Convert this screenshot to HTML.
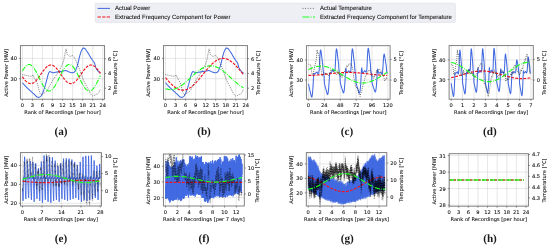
<!DOCTYPE html>
<html><head><meta charset="utf-8"><title>Figure</title>
<style>html,body{margin:0;padding:0;background:#fff;}svg{display:block;text-rendering:geometricPrecision;}.ax text{stroke:#111111;stroke-width:0.09px;}</style>
</head><body>
<svg width="550" height="246" viewBox="0 0 550 246">
<rect width="550" height="246" fill="#fff"/>

<rect x="95.2" y="3.2" width="360.2" height="19.2" rx="1.2" fill="#eeeef5" stroke="#d6d6dc" stroke-width="0.5"/>
<path d="M97.6,8.4H110" stroke="#4169e1" stroke-width="1"/>
<path d="M97.6,17H110" stroke="#f0141e" stroke-width="1.1" stroke-dasharray="3.3 1.25"/>
<path d="M302.4,8.4H314.5" stroke="#2a2a2a" stroke-width="0.8" stroke-dasharray="1 1.6" opacity="0.8"/>
<path d="M302.4,17H315" stroke="#1eff1e" stroke-width="1.1" stroke-dasharray="7 1.3 1 1.3"/>
<g font-family="'Liberation Sans', Arial, sans-serif" font-size="6.0" fill="#151515" stroke="#151515" stroke-width="0.08">
<text x="115" y="10.2">Actual Power</text>
<text x="115" y="18.8">Extracted Frequency Component for Power</text>
<text x="320" y="10.2">Actual Temperature</text>
<text x="320" y="18.8">Extracted Frequency Component for Temperature</text>
</g>

<g class="ax" font-family="'DejaVu Sans', 'Liberation Sans', sans-serif" fill="#111111">
<rect x="20.4" y="45.6" width="84.19999999999999" height="53.6" fill="#fff"/>
<path d="M22.40,45.6V99.2M32.44,45.6V99.2M42.48,45.6V99.2M52.52,45.6V99.2M62.56,45.6V99.2M72.60,45.6V99.2M82.65,45.6V99.2M92.69,45.6V99.2M102.73,45.6V99.2M20.4,58.40H104.6M20.4,78.70H104.6" stroke="#cfcfcf" stroke-width="0.5" fill="none"/>
<clipPath id="c1"><rect x="20.4" y="45.6" width="84.19999999999999" height="53.6"/></clipPath><g clip-path="url(#c1)">
<path d="M22.40,82.76L22.73,83.14L23.05,83.52L23.38,83.90L23.71,84.27L24.03,84.63L24.36,85.00L24.68,85.35L25.01,85.70L25.34,86.05L25.66,86.39L25.99,86.73L26.32,87.06L26.64,87.38L26.97,87.69L27.29,88.01L27.62,88.31L27.95,88.61L28.27,88.91L28.60,89.21L28.93,89.51L29.25,89.80L29.58,90.10L29.90,90.40L30.23,90.69L30.56,90.99L30.88,91.29L31.21,91.59L31.54,91.89L31.86,92.19L32.19,92.48L32.52,92.78L32.84,93.08L33.17,93.37L33.49,93.67L33.82,93.96L34.15,94.26L34.47,94.56L34.80,94.87L35.13,95.22L35.45,95.57L35.78,95.92L36.10,96.25L36.43,96.54L36.76,96.78L37.08,96.95L37.41,97.07L37.74,97.18L38.06,97.28L38.39,97.34L38.71,97.37L39.04,97.35L39.37,97.25L39.69,97.09L40.02,96.89L40.35,96.66L40.67,96.39L41.00,96.01L41.33,95.52L41.65,94.95L41.98,94.33L42.30,93.68L42.63,93.01L42.96,92.26L43.28,91.45L43.61,90.56L43.94,89.63L44.26,88.65L44.59,87.63L44.91,86.59L45.24,85.54L45.57,84.41L45.89,83.20L46.22,81.95L46.55,80.67L46.87,79.41L47.20,78.18L47.52,76.87L47.85,75.52L48.18,74.31L48.50,73.43L48.83,72.78L49.16,72.21L49.48,71.78L49.81,71.60L50.14,71.63L50.46,71.73L50.79,71.87L51.11,72.03L51.44,72.17L51.77,72.31L52.09,72.46L52.42,72.61L52.75,72.74L53.07,72.81L53.40,72.81L53.72,72.77L54.05,72.70L54.38,72.62L54.70,72.53L55.03,72.43L55.36,72.33L55.68,72.25L56.01,72.18L56.33,72.11L56.66,72.05L56.99,71.98L57.31,71.92L57.64,71.86L57.97,71.80L58.29,71.74L58.62,71.69L58.95,71.64L59.27,71.59L59.60,71.54L59.92,71.50L60.25,71.46L60.58,71.43L60.90,71.39L61.23,71.36L61.56,71.32L61.88,71.28L62.21,71.24L62.53,71.19L62.86,71.14L63.19,71.06L63.51,70.98L63.84,70.89L64.17,70.80L64.49,70.72L64.82,70.65L65.14,70.61L65.47,70.58L65.80,70.59L66.12,70.64L66.45,70.73L66.78,70.85L67.10,70.99L67.43,71.15L67.76,71.32L68.08,71.49L68.41,71.65L68.73,71.80L69.06,71.93L69.39,72.04L69.71,72.15L70.04,72.27L70.37,72.39L70.69,72.50L71.02,72.60L71.34,72.69L71.67,72.76L72.00,72.80L72.32,72.81L72.65,72.78L72.98,72.70L73.30,72.58L73.63,72.43L73.96,72.24L74.28,72.03L74.61,71.80L74.93,71.45L75.26,70.90L75.59,70.21L75.91,69.44L76.24,68.66L76.57,67.86L76.89,66.98L77.22,66.01L77.54,64.96L77.87,63.81L78.20,62.48L78.52,61.05L78.85,59.58L79.18,58.16L79.50,56.85L79.83,55.68L80.15,54.52L80.48,53.40L80.81,52.34L81.13,51.40L81.46,50.63L81.79,50.03L82.11,49.47L82.44,48.95L82.77,48.51L83.09,48.19L83.42,48.05L83.74,48.07L84.07,48.16L84.40,48.31L84.72,48.49L85.05,48.70L85.38,49.04L85.70,49.51L86.03,50.03L86.35,50.52L86.68,50.98L87.01,51.44L87.33,51.92L87.66,52.40L87.99,52.90L88.31,53.41L88.64,53.95L88.96,54.51L89.29,55.08L89.62,55.65L89.94,56.22L90.27,56.78L90.60,57.33L90.92,57.85L91.25,58.35L91.58,58.84L91.90,59.31L92.23,59.77L92.55,60.24L92.88,60.70L93.21,61.13L93.53,61.55L93.86,62.00L94.19,62.54L94.51,63.21L94.84,64.20L95.16,65.39L95.49,66.59L95.82,67.63L96.14,68.35L96.47,68.93L96.80,69.44L97.12,69.89L97.45,70.30L97.77,70.69L98.10,71.07L98.43,71.45L98.75,71.79L99.08,72.07L99.41,72.34L99.73,72.61L100.06,72.93L100.39,73.32" stroke="#4169e1" stroke-width="1.05" fill="none" stroke-linejoin="round" />
<path d="M22.40,76.71L22.73,77.16L23.05,77.61L23.38,78.05L23.71,78.48L24.03,78.90L24.36,79.30L24.68,79.70L25.01,80.08L25.34,80.44L25.66,80.79L25.99,81.12L26.32,81.43L26.64,81.73L26.97,82.01L27.29,82.26L27.62,82.50L27.95,82.71L28.27,82.90L28.60,83.07L28.93,83.22L29.25,83.34L29.58,83.44L29.90,83.52L30.23,83.57L30.56,83.59L30.88,83.60L31.21,83.58L31.54,83.53L31.86,83.46L32.19,83.37L32.52,83.25L32.84,83.11L33.17,82.95L33.49,82.77L33.82,82.56L34.15,82.33L34.47,82.08L34.80,81.81L35.13,81.52L35.45,81.21L35.78,80.89L36.10,80.54L36.43,80.18L36.76,79.81L37.08,79.42L37.41,79.02L37.74,78.60L38.06,78.17L38.39,77.74L38.71,77.29L39.04,76.84L39.37,76.38L39.69,75.91L40.02,75.44L40.35,74.97L40.67,74.50L41.00,74.02L41.33,73.55L41.65,73.08L41.98,72.61L42.30,72.14L42.63,71.69L42.96,71.23L43.28,70.79L43.61,70.35L43.94,69.93L44.26,69.52L44.59,69.12L44.91,68.73L45.24,68.36L45.57,68.00L45.89,67.66L46.22,67.33L46.55,67.03L46.87,66.74L47.20,66.48L47.52,66.23L47.85,66.00L48.18,65.80L48.50,65.62L48.83,65.46L49.16,65.32L49.48,65.21L49.81,65.12L50.14,65.06L50.46,65.02L50.79,65.00L51.11,65.01L51.44,65.04L51.77,65.10L52.09,65.18L52.42,65.28L52.75,65.41L53.07,65.56L53.40,65.73L53.72,65.92L54.05,66.14L54.38,66.38L54.70,66.64L55.03,66.92L55.36,67.22L55.68,67.53L56.01,67.87L56.33,68.22L56.66,68.59L56.99,68.97L57.31,69.36L57.64,69.77L57.97,70.19L58.29,70.62L58.62,71.06L58.95,71.51L59.27,71.97L59.60,72.43L59.92,72.90L60.25,73.37L60.58,73.84L60.90,74.32L61.23,74.79L61.56,75.27L61.88,75.74L62.21,76.20L62.53,76.67L62.86,77.12L63.19,77.57L63.51,78.01L63.84,78.44L64.17,78.86L64.49,79.27L64.82,79.66L65.14,80.04L65.47,80.41L65.80,80.76L66.12,81.09L66.45,81.41L66.78,81.70L67.10,81.98L67.43,82.24L67.76,82.48L68.08,82.69L68.41,82.88L68.73,83.06L69.06,83.20L69.39,83.33L69.71,83.43L70.04,83.51L70.37,83.56L70.69,83.59L71.02,83.60L71.34,83.58L71.67,83.54L72.00,83.47L72.32,83.38L72.65,83.27L72.98,83.13L73.30,82.97L73.63,82.78L73.96,82.58L74.28,82.35L74.61,82.10L74.93,81.84L75.26,81.55L75.59,81.24L75.91,80.92L76.24,80.57L76.57,80.22L76.89,79.84L77.22,79.45L77.54,79.05L77.87,78.64L78.20,78.21L78.52,77.78L78.85,77.33L79.18,76.88L79.50,76.42L79.83,75.96L80.15,75.49L80.48,75.01L80.81,74.54L81.13,74.07L81.46,73.59L81.79,73.12L82.11,72.65L82.44,72.19L82.77,71.73L83.09,71.27L83.42,70.83L83.74,70.39L84.07,69.97L84.40,69.55L84.72,69.15L85.05,68.76L85.38,68.39L85.70,68.03L86.03,67.69L86.35,67.36L86.68,67.06L87.01,66.77L87.33,66.50L87.66,66.25L87.99,66.02L88.31,65.82L88.64,65.63L88.96,65.47L89.29,65.34L89.62,65.22L89.94,65.13L90.27,65.06L90.60,65.02L90.92,65.00L91.25,65.01L91.58,65.04L91.90,65.09L92.23,65.17L92.55,65.27L92.88,65.39L93.21,65.54L93.53,65.71L93.86,65.91L94.19,66.12L94.51,66.36L94.84,66.62L95.16,66.89L95.49,67.19L95.82,67.50L96.14,67.84L96.47,68.19L96.80,68.55L97.12,68.93L97.45,69.33L97.77,69.73L98.10,70.15L98.43,70.58L98.75,71.02L99.08,71.47L99.41,71.93L99.73,72.39L100.06,72.86L100.39,73.33" stroke="#f0141e" stroke-width="1.1550000000000002" fill="none" stroke-linejoin="round" stroke-dasharray="2.864 1.238" />
<path d="M22.40,74.57L22.73,74.64L23.05,74.71L23.38,74.78L23.71,74.85L24.03,74.92L24.36,75.00L24.68,75.07L25.01,75.14L25.34,75.21L25.66,75.28L25.99,75.36L26.32,75.44L26.64,75.52L26.97,75.60L27.29,75.69L27.62,75.77L27.95,75.84L28.27,75.91L28.60,75.97L28.93,76.02L29.25,76.06L29.58,76.09L29.90,76.13L30.23,76.16L30.56,76.19L30.88,76.21L31.21,76.23L31.54,76.25L31.86,76.26L32.19,76.22L32.52,75.62L32.84,74.99L33.17,75.12L33.49,75.87L33.82,76.84L34.15,77.65L34.47,78.26L34.80,78.82L35.13,79.33L35.45,79.82L35.78,80.32L36.10,80.84L36.43,81.41L36.76,82.06L37.08,82.79L37.41,83.70L37.74,84.87L38.06,86.19L38.39,87.57L38.71,88.91L39.04,90.11L39.37,91.17L39.69,92.27L40.02,93.25L40.35,93.94L40.67,94.28L41.00,94.52L41.33,94.67L41.65,94.67L41.98,94.54L42.30,94.33L42.63,94.06L42.96,93.78L43.28,93.51L43.61,93.28L43.94,93.08L44.26,92.89L44.59,92.72L44.91,92.54L45.24,92.35L45.57,92.15L45.89,91.94L46.22,91.70L46.55,91.42L46.87,91.11L47.20,90.68L47.52,90.14L47.85,89.50L48.18,88.81L48.50,88.10L48.83,87.40L49.16,86.76L49.48,86.16L49.81,85.56L50.14,84.95L50.46,84.34L50.79,83.74L51.11,83.14L51.44,82.55L51.77,81.97L52.09,81.40L52.42,80.84L52.75,80.29L53.07,79.77L53.40,79.26L53.72,78.78L54.05,78.33L54.38,77.88L54.70,77.42L55.03,76.96L55.36,76.47L55.68,75.98L56.01,75.49L56.33,74.99L56.66,74.50L56.99,74.00L57.31,73.49L57.64,72.98L57.97,72.46L58.29,71.93L58.62,71.39L58.95,70.83L59.27,70.27L59.60,69.68L59.92,69.08L60.25,68.47L60.58,67.85L60.90,67.24L61.23,66.62L61.56,65.99L61.88,65.33L62.21,64.62L62.53,63.86L62.86,63.02L63.19,62.11L63.51,61.11L63.84,59.86L64.17,58.24L64.49,56.45L64.82,54.72L65.14,53.03L65.47,51.11L65.80,49.54L66.12,48.92L66.45,49.80L66.78,51.69L67.10,53.62L67.43,54.68L67.76,55.02L68.08,55.33L68.41,55.59L68.73,55.81L69.06,55.99L69.39,56.13L69.71,56.23L70.04,56.28L70.37,56.28L70.69,56.19L71.02,56.03L71.34,55.84L71.67,55.65L72.00,55.52L72.32,55.48L72.65,55.56L72.98,55.75L73.30,56.04L73.63,56.42L73.96,56.89L74.28,57.42L74.61,58.01L74.93,58.65L75.26,59.33L75.59,60.03L75.91,60.75L76.24,61.48L76.57,62.20L76.89,62.90L77.22,63.58L77.54,64.26L77.87,64.98L78.20,65.75L78.52,66.57L78.85,67.42L79.18,68.29L79.50,69.20L79.83,70.12L80.15,71.05L80.48,71.99L80.81,72.93L81.13,73.87L81.46,74.79L81.79,75.70L82.11,76.59L82.44,77.45L82.77,78.28L83.09,79.06L83.42,79.81L83.74,80.52L84.07,81.22L84.40,81.91L84.72,82.58L85.05,83.24L85.38,83.89L85.70,84.53L86.03,85.15L86.35,85.77L86.68,86.38L87.01,86.99L87.33,87.59L87.66,88.19L87.99,88.80L88.31,89.44L88.64,90.09L88.96,90.75L89.29,91.41L89.62,92.06L89.94,92.68L90.27,93.28L90.60,93.84L90.92,94.35L91.25,94.80L91.58,95.18L91.90,95.48L92.23,95.72L92.55,95.94L92.88,96.07L93.21,96.07L93.53,95.99L93.86,95.84L94.19,95.64L94.51,95.42L94.84,95.18L95.16,94.95L95.49,94.73L95.82,94.55L96.14,94.43L96.47,94.34L96.80,94.27L97.12,94.19L97.45,94.06L97.77,93.85L98.10,93.54L98.43,93.14L98.75,92.65L99.08,92.09L99.41,91.45L99.73,90.73L100.06,89.96L100.39,89.12" stroke="#2a2a2a" stroke-width="0.85" fill="none" stroke-linejoin="round" stroke-dasharray="0.85 1.2" opacity="0.85"/>
<path d="M22.40,71.12L22.73,70.55L23.05,69.99L23.38,69.45L23.71,68.94L24.03,68.44L24.36,67.97L24.68,67.53L25.01,67.11L25.34,66.72L25.66,66.36L25.99,66.03L26.32,65.73L26.64,65.46L26.97,65.23L27.29,65.02L27.62,64.85L27.95,64.71L28.27,64.61L28.60,64.54L28.93,64.50L29.25,64.50L29.58,64.54L29.90,64.61L30.23,64.71L30.56,64.85L30.88,65.02L31.21,65.22L31.54,65.46L31.86,65.72L32.19,66.02L32.52,66.35L32.84,66.71L33.17,67.10L33.49,67.52L33.82,67.96L34.15,68.43L34.47,68.92L34.80,69.44L35.13,69.97L35.45,70.53L35.78,71.11L36.10,71.70L36.43,72.31L36.76,72.93L37.08,73.57L37.41,74.22L37.74,74.87L38.06,75.54L38.39,76.21L38.71,76.88L39.04,77.56L39.37,78.23L39.69,78.91L40.02,79.58L40.35,80.25L40.67,80.91L41.00,81.56L41.33,82.20L41.65,82.83L41.98,83.45L42.30,84.05L42.63,84.64L42.96,85.21L43.28,85.76L43.61,86.29L43.94,86.79L44.26,87.27L44.59,87.73L44.91,88.16L45.24,88.57L45.57,88.94L45.89,89.29L46.22,89.61L46.55,89.89L46.87,90.15L47.20,90.37L47.52,90.56L47.85,90.72L48.18,90.84L48.50,90.93L48.83,90.98L49.16,91.00L49.48,90.98L49.81,90.94L50.14,90.85L50.46,90.73L50.79,90.58L51.11,90.40L51.44,90.18L51.77,89.93L52.09,89.64L52.42,89.33L52.75,88.99L53.07,88.61L53.40,88.21L53.72,87.78L54.05,87.33L54.38,86.85L54.70,86.35L55.03,85.82L55.36,85.28L55.68,84.71L56.01,84.12L56.33,83.52L56.66,82.91L56.99,82.28L57.31,81.64L57.64,80.99L57.97,80.33L58.29,79.66L58.62,78.99L58.95,78.31L59.27,77.64L59.60,76.96L59.92,76.29L60.25,75.62L60.58,74.95L60.90,74.30L61.23,73.65L61.56,73.01L61.88,72.38L62.21,71.77L62.53,71.18L62.86,70.60L63.19,70.04L63.51,69.50L63.84,68.98L64.17,68.49L64.49,68.01L64.82,67.57L65.14,67.15L65.47,66.76L65.80,66.39L66.12,66.06L66.45,65.76L66.78,65.49L67.10,65.25L67.43,65.04L67.76,64.86L68.08,64.72L68.41,64.62L68.73,64.54L69.06,64.51L69.39,64.50L69.71,64.53L70.04,64.60L70.37,64.70L70.69,64.83L71.02,65.00L71.34,65.20L71.67,65.43L72.00,65.70L72.32,65.99L72.65,66.32L72.98,66.68L73.30,67.06L73.63,67.48L73.96,67.92L74.28,68.38L74.61,68.88L74.93,69.39L75.26,69.92L75.59,70.48L75.91,71.05L76.24,71.65L76.57,72.25L76.89,72.88L77.22,73.51L77.54,74.16L77.87,74.81L78.20,75.48L78.52,76.15L78.85,76.82L79.18,77.49L79.50,78.17L79.83,78.85L80.15,79.52L80.48,80.19L80.81,80.85L81.13,81.50L81.46,82.14L81.79,82.78L82.11,83.40L82.44,84.00L82.77,84.59L83.09,85.16L83.42,85.71L83.74,86.24L84.07,86.75L84.40,87.23L84.72,87.69L85.05,88.13L85.38,88.53L85.70,88.91L86.03,89.26L86.35,89.58L86.68,89.87L87.01,90.13L87.33,90.35L87.66,90.54L87.99,90.70L88.31,90.83L88.64,90.92L88.96,90.98L89.29,91.00L89.62,90.99L89.94,90.94L90.27,90.86L90.60,90.74L90.92,90.60L91.25,90.41L91.58,90.20L91.90,89.95L92.23,89.67L92.55,89.36L92.88,89.02L93.21,88.65L93.53,88.25L93.86,87.82L94.19,87.37L94.51,86.89L94.84,86.39L95.16,85.87L95.49,85.33L95.82,84.76L96.14,84.18L96.47,83.58L96.80,82.96L97.12,82.34L97.45,81.70L97.77,81.04L98.10,80.39L98.43,79.72L98.75,79.05L99.08,78.37L99.41,77.70L99.73,77.02L100.06,76.35L100.39,75.68" stroke="#1eff1e" stroke-width="1.1550000000000002" fill="none" stroke-linejoin="round" stroke-dasharray="4.954 1.238 0.774 1.238" />
</g>
<rect x="20.4" y="45.6" width="84.19999999999999" height="53.6" fill="none" stroke="#757575" stroke-width="0.9"/>
<path d="M22.40,99.2v1.5M32.44,99.2v1.5M42.48,99.2v1.5M52.52,99.2v1.5M62.56,99.2v1.5M72.60,99.2v1.5M82.65,99.2v1.5M92.69,99.2v1.5M102.73,99.2v1.5M20.4,58.40h-1.5M20.4,78.70h-1.5M104.6,58.72h1.5M104.6,73.46h1.5M104.6,88.20h1.5" stroke="#444" stroke-width="0.6" fill="none"/>
<text x="22.40" y="107.10" font-size="5.12" text-anchor="middle" >0</text>
<text x="32.44" y="107.10" font-size="5.12" text-anchor="middle" >3</text>
<text x="42.48" y="107.10" font-size="5.12" text-anchor="middle" >6</text>
<text x="52.52" y="107.10" font-size="5.12" text-anchor="middle" >9</text>
<text x="62.56" y="107.10" font-size="5.12" text-anchor="middle" >12</text>
<text x="72.60" y="107.10" font-size="5.12" text-anchor="middle" >15</text>
<text x="82.65" y="107.10" font-size="5.12" text-anchor="middle" >18</text>
<text x="92.69" y="107.10" font-size="5.12" text-anchor="middle" >21</text>
<text x="102.73" y="107.10" font-size="5.12" text-anchor="middle" >24</text>
<text x="16.90" y="60.30" font-size="5.12" text-anchor="end" >40</text>
<text x="16.90" y="80.60" font-size="5.12" text-anchor="end" >30</text>
<text x="108.10" y="60.62" font-size="5.12" text-anchor="start" >6</text>
<text x="108.10" y="75.36" font-size="5.12" text-anchor="start" >4</text>
<text x="108.10" y="90.10" font-size="5.12" text-anchor="start" >2</text>
<text x="62.50" y="114.40" font-size="5.12" text-anchor="middle" >Rank of Recordings [per hour]</text>
<text transform="translate(7.80,72.90) rotate(-90)" font-size="5.12" text-anchor="middle">Active Power [MW]</text>
<text transform="translate(117.10,72.90) rotate(-90)" font-size="5.12" text-anchor="middle">Temperature [°C]</text>
<rect x="163.5" y="45.6" width="84.0" height="53.6" fill="#fff"/>
<path d="M165.50,45.6V99.2M175.54,45.6V99.2M185.58,45.6V99.2M195.62,45.6V99.2M205.66,45.6V99.2M215.70,45.6V99.2M225.75,45.6V99.2M235.79,45.6V99.2M245.83,45.6V99.2M163.5,58.40H247.5M163.5,78.70H247.5" stroke="#cfcfcf" stroke-width="0.5" fill="none"/>
<clipPath id="c2"><rect x="163.5" y="45.6" width="84.0" height="53.6"/></clipPath><g clip-path="url(#c2)">
<path d="M165.50,82.76L165.83,83.14L166.15,83.52L166.48,83.90L166.81,84.27L167.13,84.63L167.46,85.00L167.78,85.35L168.11,85.70L168.44,86.05L168.76,86.39L169.09,86.73L169.42,87.06L169.74,87.38L170.07,87.69L170.39,88.01L170.72,88.31L171.05,88.61L171.37,88.91L171.70,89.21L172.03,89.51L172.35,89.80L172.68,90.10L173.00,90.40L173.33,90.69L173.66,90.99L173.98,91.29L174.31,91.59L174.64,91.89L174.96,92.19L175.29,92.48L175.62,92.78L175.94,93.08L176.27,93.37L176.59,93.67L176.92,93.96L177.25,94.26L177.57,94.56L177.90,94.87L178.23,95.22L178.55,95.57L178.88,95.92L179.20,96.25L179.53,96.54L179.86,96.78L180.18,96.95L180.51,97.07L180.84,97.18L181.16,97.28L181.49,97.34L181.81,97.37L182.14,97.35L182.47,97.25L182.79,97.09L183.12,96.89L183.45,96.66L183.77,96.39L184.10,96.01L184.43,95.52L184.75,94.95L185.08,94.33L185.40,93.68L185.73,93.01L186.06,92.26L186.38,91.45L186.71,90.56L187.04,89.63L187.36,88.65L187.69,87.63L188.01,86.59L188.34,85.54L188.67,84.41L188.99,83.20L189.32,81.95L189.65,80.67L189.97,79.41L190.30,78.18L190.62,76.87L190.95,75.52L191.28,74.31L191.60,73.43L191.93,72.78L192.26,72.21L192.58,71.78L192.91,71.60L193.24,71.63L193.56,71.73L193.89,71.87L194.21,72.03L194.54,72.17L194.87,72.31L195.19,72.46L195.52,72.61L195.85,72.74L196.17,72.81L196.50,72.81L196.82,72.77L197.15,72.70L197.48,72.62L197.80,72.53L198.13,72.43L198.46,72.33L198.78,72.25L199.11,72.18L199.43,72.11L199.76,72.05L200.09,71.98L200.41,71.92L200.74,71.86L201.07,71.80L201.39,71.74L201.72,71.69L202.05,71.64L202.37,71.59L202.70,71.54L203.02,71.50L203.35,71.46L203.68,71.43L204.00,71.39L204.33,71.36L204.66,71.32L204.98,71.28L205.31,71.24L205.63,71.19L205.96,71.14L206.29,71.06L206.61,70.98L206.94,70.89L207.27,70.80L207.59,70.72L207.92,70.65L208.24,70.61L208.57,70.58L208.90,70.59L209.22,70.64L209.55,70.73L209.88,70.85L210.20,70.99L210.53,71.15L210.86,71.32L211.18,71.49L211.51,71.65L211.83,71.80L212.16,71.93L212.49,72.04L212.81,72.15L213.14,72.27L213.47,72.39L213.79,72.50L214.12,72.60L214.44,72.69L214.77,72.76L215.10,72.80L215.42,72.81L215.75,72.78L216.08,72.70L216.40,72.58L216.73,72.43L217.06,72.24L217.38,72.03L217.71,71.80L218.03,71.45L218.36,70.90L218.69,70.21L219.01,69.44L219.34,68.66L219.67,67.86L219.99,66.98L220.32,66.01L220.64,64.96L220.97,63.81L221.30,62.48L221.62,61.05L221.95,59.58L222.28,58.16L222.60,56.85L222.93,55.68L223.25,54.52L223.58,53.40L223.91,52.34L224.23,51.40L224.56,50.63L224.89,50.03L225.21,49.47L225.54,48.95L225.87,48.51L226.19,48.19L226.52,48.05L226.84,48.07L227.17,48.16L227.50,48.31L227.82,48.49L228.15,48.70L228.48,49.04L228.80,49.51L229.13,50.03L229.45,50.52L229.78,50.98L230.11,51.44L230.43,51.92L230.76,52.40L231.09,52.90L231.41,53.41L231.74,53.95L232.06,54.51L232.39,55.08L232.72,55.65L233.04,56.22L233.37,56.78L233.70,57.33L234.02,57.85L234.35,58.35L234.68,58.84L235.00,59.31L235.33,59.77L235.65,60.24L235.98,60.70L236.31,61.13L236.63,61.55L236.96,62.00L237.29,62.54L237.61,63.21L237.94,64.20L238.26,65.39L238.59,66.59L238.92,67.63L239.24,68.35L239.57,68.93L239.90,69.44L240.22,69.89L240.55,70.30L240.87,70.69L241.20,71.07L241.53,71.45L241.85,71.79L242.18,72.07L242.51,72.34L242.83,72.61L243.16,72.93L243.49,73.32" stroke="#4169e1" stroke-width="1.05" fill="none" stroke-linejoin="round" />
<path d="M165.50,77.61L165.83,78.00L166.15,78.40L166.48,78.79L166.81,79.17L167.13,79.56L167.46,79.94L167.78,80.32L168.11,80.69L168.44,81.06L168.76,81.43L169.09,81.79L169.42,82.14L169.74,82.49L170.07,82.84L170.39,83.18L170.72,83.51L171.05,83.84L171.37,84.16L171.70,84.47L172.03,84.78L172.35,85.08L172.68,85.38L173.00,85.67L173.33,85.95L173.66,86.22L173.98,86.48L174.31,86.74L174.64,86.99L174.96,87.23L175.29,87.46L175.62,87.68L175.94,87.90L176.27,88.11L176.59,88.30L176.92,88.49L177.25,88.67L177.57,88.84L177.90,89.00L178.23,89.15L178.55,89.29L178.88,89.42L179.20,89.54L179.53,89.65L179.86,89.75L180.18,89.84L180.51,89.92L180.84,89.99L181.16,90.05L181.49,90.10L181.81,90.14L182.14,90.17L182.47,90.19L182.79,90.20L183.12,90.20L183.45,90.19L183.77,90.16L184.10,90.13L184.43,90.09L184.75,90.03L185.08,89.97L185.40,89.90L185.73,89.81L186.06,89.72L186.38,89.62L186.71,89.50L187.04,89.38L187.36,89.24L187.69,89.10L188.01,88.95L188.34,88.78L188.67,88.61L188.99,88.43L189.32,88.24L189.65,88.04L189.97,87.83L190.30,87.61L190.62,87.39L190.95,87.15L191.28,86.91L191.60,86.66L191.93,86.40L192.26,86.13L192.58,85.86L192.91,85.57L193.24,85.29L193.56,84.99L193.89,84.68L194.21,84.37L194.54,84.06L194.87,83.73L195.19,83.40L195.52,83.07L195.85,82.73L196.17,82.38L196.50,82.03L196.82,81.67L197.15,81.31L197.48,80.94L197.80,80.57L198.13,80.20L198.46,79.82L198.78,79.43L199.11,79.05L199.43,78.66L199.76,78.27L200.09,77.87L200.41,77.48L200.74,77.08L201.07,76.68L201.39,76.28L201.72,75.87L202.05,75.47L202.37,75.06L202.70,74.66L203.02,74.25L203.35,73.85L203.68,73.44L204.00,73.04L204.33,72.63L204.66,72.23L204.98,71.83L205.31,71.43L205.63,71.03L205.96,70.63L206.29,70.24L206.61,69.85L206.94,69.46L207.27,69.08L207.59,68.69L207.92,68.32L208.24,67.94L208.57,67.57L208.90,67.21L209.22,66.85L209.55,66.49L209.88,66.14L210.20,65.79L210.53,65.45L210.86,65.12L211.18,64.79L211.51,64.47L211.83,64.15L212.16,63.84L212.49,63.54L212.81,63.25L213.14,62.96L213.47,62.68L213.79,62.41L214.12,62.14L214.44,61.88L214.77,61.63L215.10,61.39L215.42,61.16L215.75,60.93L216.08,60.72L216.40,60.51L216.73,60.32L217.06,60.13L217.38,59.95L217.71,59.78L218.03,59.62L218.36,59.47L218.69,59.32L219.01,59.19L219.34,59.07L219.67,58.96L219.99,58.86L220.32,58.77L220.64,58.68L220.97,58.61L221.30,58.55L221.62,58.50L221.95,58.46L222.28,58.43L222.60,58.41L222.93,58.40L223.25,58.40L223.58,58.41L223.91,58.43L224.23,58.47L224.56,58.51L224.89,58.56L225.21,58.62L225.54,58.70L225.87,58.78L226.19,58.87L226.52,58.98L226.84,59.09L227.17,59.21L227.50,59.34L227.82,59.49L228.15,59.64L228.48,59.80L228.80,59.97L229.13,60.15L229.45,60.34L229.78,60.54L230.11,60.75L230.43,60.97L230.76,61.19L231.09,61.43L231.41,61.67L231.74,61.92L232.06,62.18L232.39,62.44L232.72,62.72L233.04,63.00L233.37,63.29L233.70,63.58L234.02,63.89L234.35,64.20L234.68,64.51L235.00,64.84L235.33,65.17L235.65,65.50L235.98,65.84L236.31,66.19L236.63,66.54L236.96,66.90L237.29,67.26L237.61,67.63L237.94,68.00L238.26,68.37L238.59,68.75L238.92,69.13L239.24,69.52L239.57,69.90L239.90,70.30L240.22,70.69L240.55,71.09L240.87,71.48L241.20,71.88L241.53,72.29L241.85,72.69L242.18,73.09L242.51,73.50L242.83,73.90L243.16,74.31L243.49,74.72" stroke="#f0141e" stroke-width="1.1550000000000002" fill="none" stroke-linejoin="round" stroke-dasharray="2.864 1.238" />
<path d="M165.50,74.57L165.83,74.64L166.15,74.71L166.48,74.78L166.81,74.85L167.13,74.92L167.46,75.00L167.78,75.07L168.11,75.14L168.44,75.21L168.76,75.28L169.09,75.36L169.42,75.44L169.74,75.52L170.07,75.60L170.39,75.69L170.72,75.77L171.05,75.84L171.37,75.91L171.70,75.97L172.03,76.02L172.35,76.06L172.68,76.09L173.00,76.13L173.33,76.16L173.66,76.19L173.98,76.21L174.31,76.23L174.64,76.25L174.96,76.26L175.29,76.22L175.62,75.62L175.94,74.99L176.27,75.12L176.59,75.87L176.92,76.84L177.25,77.65L177.57,78.26L177.90,78.82L178.23,79.33L178.55,79.82L178.88,80.32L179.20,80.84L179.53,81.41L179.86,82.06L180.18,82.79L180.51,83.70L180.84,84.87L181.16,86.19L181.49,87.57L181.81,88.91L182.14,90.11L182.47,91.17L182.79,92.27L183.12,93.25L183.45,93.94L183.77,94.28L184.10,94.52L184.43,94.67L184.75,94.67L185.08,94.54L185.40,94.33L185.73,94.06L186.06,93.78L186.38,93.51L186.71,93.28L187.04,93.08L187.36,92.89L187.69,92.72L188.01,92.54L188.34,92.35L188.67,92.15L188.99,91.94L189.32,91.70L189.65,91.42L189.97,91.11L190.30,90.68L190.62,90.14L190.95,89.50L191.28,88.81L191.60,88.10L191.93,87.40L192.26,86.76L192.58,86.16L192.91,85.56L193.24,84.95L193.56,84.34L193.89,83.74L194.21,83.14L194.54,82.55L194.87,81.97L195.19,81.40L195.52,80.84L195.85,80.29L196.17,79.77L196.50,79.26L196.82,78.78L197.15,78.33L197.48,77.88L197.80,77.42L198.13,76.96L198.46,76.47L198.78,75.98L199.11,75.49L199.43,74.99L199.76,74.50L200.09,74.00L200.41,73.49L200.74,72.98L201.07,72.46L201.39,71.93L201.72,71.39L202.05,70.83L202.37,70.27L202.70,69.68L203.02,69.08L203.35,68.47L203.68,67.85L204.00,67.24L204.33,66.62L204.66,65.99L204.98,65.33L205.31,64.62L205.63,63.86L205.96,63.02L206.29,62.11L206.61,61.11L206.94,59.86L207.27,58.24L207.59,56.45L207.92,54.72L208.24,53.03L208.57,51.11L208.90,49.54L209.22,48.92L209.55,49.80L209.88,51.69L210.20,53.62L210.53,54.68L210.86,55.02L211.18,55.33L211.51,55.59L211.83,55.81L212.16,55.99L212.49,56.13L212.81,56.23L213.14,56.28L213.47,56.28L213.79,56.19L214.12,56.03L214.44,55.84L214.77,55.65L215.10,55.52L215.42,55.48L215.75,55.56L216.08,55.75L216.40,56.04L216.73,56.42L217.06,56.89L217.38,57.42L217.71,58.01L218.03,58.65L218.36,59.33L218.69,60.03L219.01,60.75L219.34,61.48L219.67,62.20L219.99,62.90L220.32,63.58L220.64,64.26L220.97,64.98L221.30,65.75L221.62,66.57L221.95,67.42L222.28,68.29L222.60,69.20L222.93,70.12L223.25,71.05L223.58,71.99L223.91,72.93L224.23,73.87L224.56,74.79L224.89,75.70L225.21,76.59L225.54,77.45L225.87,78.28L226.19,79.06L226.52,79.81L226.84,80.52L227.17,81.22L227.50,81.91L227.82,82.58L228.15,83.24L228.48,83.89L228.80,84.53L229.13,85.15L229.45,85.77L229.78,86.38L230.11,86.99L230.43,87.59L230.76,88.19L231.09,88.80L231.41,89.44L231.74,90.09L232.06,90.75L232.39,91.41L232.72,92.06L233.04,92.68L233.37,93.28L233.70,93.84L234.02,94.35L234.35,94.80L234.68,95.18L235.00,95.48L235.33,95.72L235.65,95.94L235.98,96.07L236.31,96.07L236.63,95.99L236.96,95.84L237.29,95.64L237.61,95.42L237.94,95.18L238.26,94.95L238.59,94.73L238.92,94.55L239.24,94.43L239.57,94.34L239.90,94.27L240.22,94.19L240.55,94.06L240.87,93.85L241.20,93.54L241.53,93.14L241.85,92.65L242.18,92.09L242.51,91.45L242.83,90.73L243.16,89.96L243.49,89.12" stroke="#2a2a2a" stroke-width="0.85" fill="none" stroke-linejoin="round" stroke-dasharray="0.85 1.2" opacity="0.85"/>
<path d="M165.50,88.69L165.83,88.81L166.15,88.91L166.48,89.01L166.81,89.10L167.13,89.18L167.46,89.26L167.78,89.33L168.11,89.39L168.44,89.44L168.76,89.49L169.09,89.53L169.42,89.56L169.74,89.58L170.07,89.59L170.39,89.60L170.72,89.60L171.05,89.59L171.37,89.57L171.70,89.55L172.03,89.52L172.35,89.48L172.68,89.43L173.00,89.38L173.33,89.31L173.66,89.24L173.98,89.17L174.31,89.08L174.64,88.99L174.96,88.89L175.29,88.78L175.62,88.67L175.94,88.55L176.27,88.42L176.59,88.28L176.92,88.14L177.25,87.99L177.57,87.83L177.90,87.67L178.23,87.50L178.55,87.33L178.88,87.15L179.20,86.96L179.53,86.76L179.86,86.57L180.18,86.36L180.51,86.15L180.84,85.93L181.16,85.71L181.49,85.48L181.81,85.25L182.14,85.01L182.47,84.77L182.79,84.52L183.12,84.27L183.45,84.02L183.77,83.76L184.10,83.50L184.43,83.23L184.75,82.96L185.08,82.68L185.40,82.41L185.73,82.13L186.06,81.84L186.38,81.56L186.71,81.27L187.04,80.98L187.36,80.68L187.69,80.39L188.01,80.09L188.34,79.79L188.67,79.49L188.99,79.19L189.32,78.89L189.65,78.59L189.97,78.29L190.30,77.98L190.62,77.68L190.95,77.38L191.28,77.07L191.60,76.77L191.93,76.47L192.26,76.16L192.58,75.86L192.91,75.56L193.24,75.27L193.56,74.97L193.89,74.68L194.21,74.38L194.54,74.09L194.87,73.80L195.19,73.52L195.52,73.24L195.85,72.96L196.17,72.68L196.50,72.40L196.82,72.13L197.15,71.87L197.48,71.60L197.80,71.35L198.13,71.09L198.46,70.84L198.78,70.60L199.11,70.35L199.43,70.12L199.76,69.89L200.09,69.66L200.41,69.44L200.74,69.22L201.07,69.01L201.39,68.81L201.72,68.61L202.05,68.42L202.37,68.23L202.70,68.05L203.02,67.87L203.35,67.70L203.68,67.54L204.00,67.39L204.33,67.24L204.66,67.10L204.98,66.96L205.31,66.84L205.63,66.72L205.96,66.60L206.29,66.50L206.61,66.40L206.94,66.31L207.27,66.22L207.59,66.15L207.92,66.08L208.24,66.02L208.57,65.96L208.90,65.92L209.22,65.88L209.55,65.85L209.88,65.82L210.20,65.81L210.53,65.80L210.86,65.80L211.18,65.81L211.51,65.82L211.83,65.85L212.16,65.88L212.49,65.92L212.81,65.96L213.14,66.02L213.47,66.08L213.79,66.15L214.12,66.23L214.44,66.31L214.77,66.40L215.10,66.50L215.42,66.61L215.75,66.72L216.08,66.84L216.40,66.97L216.73,67.11L217.06,67.25L217.38,67.40L217.71,67.55L218.03,67.71L218.36,67.88L218.69,68.06L219.01,68.24L219.34,68.42L219.67,68.62L219.99,68.82L220.32,69.02L220.64,69.23L220.97,69.45L221.30,69.67L221.62,69.90L221.95,70.13L222.28,70.37L222.60,70.61L222.93,70.85L223.25,71.10L223.58,71.36L223.91,71.62L224.23,71.88L224.56,72.15L224.89,72.42L225.21,72.69L225.54,72.97L225.87,73.25L226.19,73.53L226.52,73.82L226.84,74.11L227.17,74.40L227.50,74.69L227.82,74.98L228.15,75.28L228.48,75.58L228.80,75.88L229.13,76.18L229.45,76.48L229.78,76.78L230.11,77.09L230.43,77.39L230.76,77.69L231.09,78.00L231.41,78.30L231.74,78.60L232.06,78.91L232.39,79.21L232.72,79.51L233.04,79.81L233.37,80.11L233.70,80.40L234.02,80.70L234.35,80.99L234.68,81.28L235.00,81.57L235.33,81.86L235.65,82.14L235.98,82.42L236.31,82.70L236.63,82.97L236.96,83.24L237.29,83.51L237.61,83.77L237.94,84.03L238.26,84.29L238.59,84.54L238.92,84.78L239.24,85.02L239.57,85.26L239.90,85.49L240.22,85.72L240.55,85.94L240.87,86.16L241.20,86.37L241.53,86.57L241.85,86.77L242.18,86.97L242.51,87.16L242.83,87.34L243.16,87.51L243.49,87.68" stroke="#1eff1e" stroke-width="1.1550000000000002" fill="none" stroke-linejoin="round" stroke-dasharray="4.954 1.238 0.774 1.238" />
</g>
<rect x="163.5" y="45.6" width="84.0" height="53.6" fill="none" stroke="#757575" stroke-width="0.9"/>
<path d="M165.50,99.2v1.5M175.54,99.2v1.5M185.58,99.2v1.5M195.62,99.2v1.5M205.66,99.2v1.5M215.70,99.2v1.5M225.75,99.2v1.5M235.79,99.2v1.5M245.83,99.2v1.5M163.5,58.40h-1.5M163.5,78.70h-1.5M247.5,58.72h1.5M247.5,73.46h1.5M247.5,88.20h1.5" stroke="#444" stroke-width="0.6" fill="none"/>
<text x="165.50" y="107.10" font-size="5.12" text-anchor="middle" >0</text>
<text x="175.54" y="107.10" font-size="5.12" text-anchor="middle" >3</text>
<text x="185.58" y="107.10" font-size="5.12" text-anchor="middle" >6</text>
<text x="195.62" y="107.10" font-size="5.12" text-anchor="middle" >9</text>
<text x="205.66" y="107.10" font-size="5.12" text-anchor="middle" >12</text>
<text x="215.70" y="107.10" font-size="5.12" text-anchor="middle" >15</text>
<text x="225.75" y="107.10" font-size="5.12" text-anchor="middle" >18</text>
<text x="235.79" y="107.10" font-size="5.12" text-anchor="middle" >21</text>
<text x="245.83" y="107.10" font-size="5.12" text-anchor="middle" >24</text>
<text x="160.00" y="60.30" font-size="5.12" text-anchor="end" >40</text>
<text x="160.00" y="80.60" font-size="5.12" text-anchor="end" >30</text>
<text x="251.00" y="60.62" font-size="5.12" text-anchor="start" >6</text>
<text x="251.00" y="75.36" font-size="5.12" text-anchor="start" >4</text>
<text x="251.00" y="90.10" font-size="5.12" text-anchor="start" >2</text>
<text x="205.50" y="114.40" font-size="5.12" text-anchor="middle" >Rank of Recordings [per hour]</text>
<text transform="translate(149.70,72.90) rotate(-90)" font-size="5.12" text-anchor="middle">Active Power [MW]</text>
<text transform="translate(260.40,72.90) rotate(-90)" font-size="5.12" text-anchor="middle">Temperature [°C]</text>
<rect x="306.4" y="45.7" width="83.70000000000005" height="53.5" fill="#fff"/>
<path d="M308.50,45.7V99.2M324.38,45.7V99.2M340.26,45.7V99.2M356.14,45.7V99.2M372.02,45.7V99.2M387.90,45.7V99.2M306.4,60.00H390.1M306.4,80.00H390.1" stroke="#cfcfcf" stroke-width="0.5" fill="none"/>
<clipPath id="c3"><rect x="306.4" y="45.7" width="83.70000000000005" height="53.5"/></clipPath><g clip-path="url(#c3)">
<path d="M308.50,83.73L308.83,85.50L309.16,87.15L309.49,88.67L309.82,90.08L310.15,91.48L310.49,92.89L310.82,94.28L311.15,95.85L311.48,96.91L311.81,97.13L312.14,96.14L312.47,93.44L312.80,89.44L313.13,84.36L313.46,78.29L313.79,73.57L314.12,73.30L314.46,74.05L314.79,74.06L315.12,73.60L315.45,73.28L315.78,73.00L316.11,72.80L316.44,72.60L316.77,72.20L317.10,72.02L317.43,72.64L317.76,73.40L318.09,73.97L318.43,74.17L318.76,73.43L319.09,70.79L319.42,66.20L319.75,59.26L320.08,53.55L320.41,50.40L320.74,50.02L321.07,51.70L321.40,54.10L321.73,56.81L322.06,59.60L322.40,62.00L322.73,64.40L323.06,69.60L323.39,72.03L323.72,73.71L324.05,75.97L324.38,83.16L324.71,84.65L325.04,86.05L325.37,87.32L325.70,88.52L326.04,89.71L326.37,90.89L326.70,92.07L327.03,93.39L327.36,94.29L327.69,94.48L328.02,93.64L328.35,91.36L328.68,87.98L329.01,83.66L329.34,78.11L329.67,73.13L330.01,72.70L330.34,73.61L330.67,73.72L331.00,73.13L331.33,72.55L331.66,71.98L331.99,71.48L332.32,70.98L332.65,70.28L332.98,69.80L333.31,70.16L333.64,70.68L333.98,70.99L334.31,71.09L334.64,70.31L334.97,70.68L335.30,65.86L335.63,58.55L335.96,52.54L336.29,49.23L336.62,48.83L336.95,50.60L337.28,53.12L337.61,55.98L337.95,58.91L338.28,61.44L338.61,63.96L338.94,69.43L339.27,71.99L339.60,73.71L339.93,75.97L340.26,82.80L340.59,84.13L340.92,85.36L341.25,86.50L341.58,87.56L341.92,88.61L342.25,89.66L342.58,90.71L342.91,91.89L343.24,92.68L343.57,92.85L343.90,92.10L344.23,90.08L344.56,87.06L344.89,83.06L345.22,76.89L345.56,69.90L345.89,68.28L346.22,70.40L346.55,72.56L346.88,73.07L347.21,72.86L347.54,72.46L347.87,72.10L348.20,71.73L348.53,71.16L348.86,70.82L349.19,71.32L349.53,71.96L349.86,72.41L350.19,72.56L350.52,71.78L350.85,70.68L351.18,65.86L351.51,58.55L351.84,52.54L352.17,49.23L352.50,48.83L352.83,50.60L353.16,53.12L353.50,55.98L353.83,58.91L354.16,61.44L354.49,63.96L354.82,69.43L355.15,71.99L355.48,73.71L355.81,75.97L356.14,82.89L356.47,84.26L356.80,85.53L357.13,86.71L357.47,87.80L357.80,88.89L358.13,89.97L358.46,91.05L358.79,92.26L359.12,93.09L359.45,93.26L359.78,92.49L360.11,90.40L360.44,87.28L360.77,83.14L361.11,76.78L361.44,69.52L361.77,67.73L362.10,70.03L362.43,72.41L362.76,72.99L363.09,72.76L363.42,72.31L363.75,71.90L364.08,71.49L364.41,70.86L364.74,70.47L365.08,70.94L365.41,71.56L365.74,71.98L366.07,72.13L366.40,71.33L366.73,70.63L367.06,65.68L367.39,58.20L367.72,52.04L368.05,48.65L368.38,48.24L368.71,50.05L369.05,52.63L369.38,55.56L369.71,58.57L370.04,61.15L370.37,63.74L370.70,69.35L371.03,71.97L371.36,73.71L371.69,75.97L372.02,82.62L372.35,83.86L372.68,85.02L373.02,86.09L373.35,87.08L373.68,88.07L374.01,89.05L374.34,90.03L374.67,91.13L375.00,91.88L375.33,92.03L375.66,91.33L375.99,89.44L376.32,86.61L376.66,82.86L376.99,76.83L377.32,70.43L377.65,69.12L377.98,70.82L378.31,72.64L378.64,73.29L378.97,73.24L379.30,73.00L379.63,72.80L379.96,72.64L380.29,72.31L380.63,72.17L380.96,72.67L381.29,73.40L381.62,73.97L381.95,74.17L382.28,73.43L382.61,71.15L382.94,67.41L383.27,61.73L383.60,57.06L383.93,54.49L384.26,54.18L384.60,55.55L384.93,57.51L385.26,59.73L385.59,62.01L385.92,63.97L386.25,65.93L386.58,70.18L386.91,72.17L387.24,73.71" stroke="#4169e1" stroke-width="1.05" fill="none" stroke-linejoin="round" />
<path d="M308.50,75.40L308.90,75.40L309.29,75.40L309.69,75.39L310.08,75.39L310.48,75.38L310.87,75.37L311.27,75.36L311.67,75.35L312.06,75.34L312.46,75.33L312.85,75.31L313.25,75.30L313.64,75.28L314.04,75.26L314.44,75.24L314.83,75.22L315.23,75.19L315.62,75.17L316.02,75.14L316.41,75.12L316.81,75.09L317.21,75.06L317.60,75.03L318.00,75.00L318.39,74.96L318.79,74.93L319.18,74.90L319.58,74.86L319.98,74.82L320.37,74.79L320.77,74.75L321.16,74.71L321.56,74.67L321.95,74.63L322.35,74.59L322.74,74.54L323.14,74.50L323.54,74.46L323.93,74.41L324.33,74.37L324.72,74.32L325.12,74.28L325.51,74.23L325.91,74.19L326.31,74.14L326.70,74.10L327.10,74.05L327.49,74.00L327.89,73.95L328.28,73.91L328.68,73.86L329.08,73.81L329.47,73.77L329.87,73.72L330.26,73.67L330.66,73.63L331.05,73.58L331.45,73.54L331.85,73.49L332.24,73.45L332.64,73.40L333.03,73.36L333.43,73.31L333.82,73.27L334.22,73.23L334.62,73.19L335.01,73.15L335.41,73.11L335.80,73.07L336.20,73.03L336.59,72.99L336.99,72.95L337.39,72.92L337.78,72.88L338.18,72.85L338.57,72.81L338.97,72.78L339.36,72.75L339.76,72.72L340.16,72.69L340.55,72.67L340.95,72.64L341.34,72.62L341.74,72.59L342.13,72.57L342.53,72.55L342.93,72.53L343.32,72.51L343.72,72.49L344.11,72.48L344.51,72.46L344.90,72.45L345.30,72.44L345.69,72.43L346.09,72.42L346.49,72.41L346.88,72.41L347.28,72.40L347.67,72.40L348.07,72.40L348.46,72.40L348.86,72.40L349.26,72.41L349.65,72.41L350.05,72.42L350.44,72.42L350.84,72.43L351.23,72.44L351.63,72.45L352.03,72.47L352.42,72.48L352.82,72.50L353.21,72.52L353.61,72.54L354.00,72.56L354.40,72.58L354.80,72.60L355.19,72.62L355.59,72.65L355.98,72.68L356.38,72.70L356.77,72.73L357.17,72.76L357.57,72.79L357.96,72.83L358.36,72.86L358.75,72.89L359.15,72.93L359.54,72.96L359.94,73.00L360.34,73.04L360.73,73.08L361.13,73.12L361.52,73.16L361.92,73.20L362.31,73.24L362.71,73.28L363.11,73.33L363.50,73.37L363.90,73.42L364.29,73.46L364.69,73.51L365.08,73.55L365.48,73.60L365.88,73.64L366.27,73.69L366.67,73.74L367.06,73.78L367.46,73.83L367.85,73.88L368.25,73.92L368.64,73.97L369.04,74.02L369.44,74.06L369.83,74.11L370.23,74.16L370.62,74.20L371.02,74.25L371.41,74.29L371.81,74.34L372.21,74.38L372.60,74.43L373.00,74.47L373.39,74.52L373.79,74.56L374.18,74.60L374.58,74.64L374.98,74.68L375.37,74.72L375.77,74.76L376.16,74.80L376.56,74.84L376.95,74.87L377.35,74.91L377.75,74.94L378.14,74.97L378.54,75.01L378.93,75.04L379.33,75.07L379.72,75.10L380.12,75.12L380.52,75.15L380.91,75.18L381.31,75.20L381.70,75.22L382.10,75.24L382.49,75.26L382.89,75.28L383.29,75.30L383.68,75.32L384.08,75.33L384.47,75.35L384.87,75.36L385.26,75.37L385.66,75.38L386.06,75.38L386.45,75.39L386.85,75.39L387.24,75.40" stroke="#f0141e" stroke-width="1.1550000000000002" fill="none" stroke-linejoin="round" stroke-dasharray="2.864 1.238" />
<path d="M308.50,64.16L309.16,64.57L309.82,64.99L310.49,64.85L311.15,67.40L311.81,73.06L312.47,75.18L313.13,73.94L313.79,70.99L314.46,67.59L315.12,64.80L315.78,61.80L316.44,58.10L317.10,49.90L317.76,53.78L318.43,53.47L319.09,56.45L319.75,60.83L320.41,66.08L321.07,70.07L321.73,73.68L322.40,76.20L323.06,75.34L323.72,73.67L324.38,73.13L325.04,72.47L325.70,74.42L326.37,73.13L327.03,74.02L327.69,74.60L328.35,75.94L329.01,74.04L329.67,73.66L330.34,72.38L331.00,69.22L331.66,70.59L332.32,69.98L332.98,69.51L333.64,71.60L334.31,72.00L334.97,72.84L335.63,73.41L336.29,74.42L336.95,72.48L337.61,70.83L338.28,74.43L338.94,73.18L339.60,75.01L340.26,76.54L340.92,74.44L341.58,76.00L342.25,77.54L342.91,75.09L343.57,73.29L344.23,72.66L344.89,70.12L345.56,69.40L346.22,67.41L346.88,65.49L347.54,66.72L348.20,65.01L348.86,65.01L349.53,63.82L350.19,64.64L350.85,63.73L351.51,64.95L352.17,66.75L352.83,69.37L353.50,75.26L354.16,79.05L354.82,81.50L355.48,86.57L356.14,86.79L356.80,87.86L357.47,87.91L358.13,90.56L358.79,93.69L359.45,95.60L360.11,96.50L360.77,93.01L361.44,92.14L362.10,89.37L362.76,85.95L363.42,83.72L364.08,81.13L364.74,79.34L365.41,75.97L366.07,75.05L366.73,72.33L367.39,71.97L368.05,71.76L368.71,70.23L369.38,70.93L370.04,70.03L370.70,72.30L371.36,72.87L372.02,75.99L372.68,75.48L373.35,78.12L374.01,78.11L374.67,75.49L375.33,75.24L375.99,73.34L376.66,70.34L377.32,72.68L377.98,71.45L378.64,69.58L379.30,68.83L379.96,69.91L380.63,70.89L381.29,71.09L381.95,72.87L382.61,76.20L383.27,76.46L383.93,77.58L384.60,80.72L385.26,80.66L385.92,78.92L386.58,77.28L387.24,79.90" stroke="#2a2a2a" stroke-width="0.85" fill="none" stroke-linejoin="round" stroke-dasharray="0.85 1.2" opacity="0.9"/>
<path d="M308.50,69.62L308.90,69.41L309.29,69.22L309.69,69.02L310.08,68.84L310.48,68.65L310.87,68.48L311.27,68.30L311.67,68.14L312.06,67.97L312.46,67.82L312.85,67.67L313.25,67.53L313.64,67.39L314.04,67.26L314.44,67.14L314.83,67.02L315.23,66.91L315.62,66.80L316.02,66.71L316.41,66.62L316.81,66.53L317.21,66.46L317.60,66.39L318.00,66.33L318.39,66.27L318.79,66.22L319.18,66.19L319.58,66.15L319.98,66.13L320.37,66.11L320.77,66.10L321.16,66.10L321.56,66.11L321.95,66.12L322.35,66.14L322.74,66.17L323.14,66.20L323.54,66.25L323.93,66.30L324.33,66.35L324.72,66.42L325.12,66.49L325.51,66.57L325.91,66.66L326.31,66.75L326.70,66.85L327.10,66.96L327.49,67.07L327.89,67.19L328.28,67.32L328.68,67.45L329.08,67.59L329.47,67.74L329.87,67.89L330.26,68.05L330.66,68.21L331.05,68.38L331.45,68.56L331.85,68.74L332.24,68.92L332.64,69.11L333.03,69.31L333.43,69.51L333.82,69.71L334.22,69.92L334.62,70.13L335.01,70.35L335.41,70.57L335.80,70.79L336.20,71.02L336.59,71.25L336.99,71.48L337.39,71.72L337.78,71.96L338.18,72.20L338.57,72.44L338.97,72.69L339.36,72.93L339.76,73.18L340.16,73.43L340.55,73.68L340.95,73.93L341.34,74.18L341.74,74.44L342.13,74.69L342.53,74.94L342.93,75.19L343.32,75.44L343.72,75.69L344.11,75.94L344.51,76.19L344.90,76.44L345.30,76.68L345.69,76.92L346.09,77.16L346.49,77.40L346.88,77.64L347.28,77.87L347.67,78.10L348.07,78.33L348.46,78.55L348.86,78.77L349.26,78.99L349.65,79.20L350.05,79.41L350.44,79.61L350.84,79.81L351.23,80.01L351.63,80.20L352.03,80.38L352.42,80.56L352.82,80.74L353.21,80.91L353.61,81.07L354.00,81.23L354.40,81.38L354.80,81.52L355.19,81.66L355.59,81.80L355.98,81.92L356.38,82.04L356.77,82.15L357.17,82.26L357.57,82.36L357.96,82.45L358.36,82.54L358.75,82.62L359.15,82.69L359.54,82.75L359.94,82.81L360.34,82.86L360.73,82.90L361.13,82.94L361.52,82.96L361.92,82.98L362.31,83.00L362.71,83.00L363.11,83.00L363.50,82.99L363.90,82.97L364.29,82.94L364.69,82.91L365.08,82.87L365.48,82.82L365.88,82.77L366.27,82.71L366.67,82.64L367.06,82.56L367.46,82.48L367.85,82.38L368.25,82.29L368.64,82.18L369.04,82.07L369.44,81.95L369.83,81.83L370.23,81.70L370.62,81.56L371.02,81.42L371.41,81.27L371.81,81.11L372.21,80.95L372.60,80.78L373.00,80.61L373.39,80.43L373.79,80.25L374.18,80.06L374.58,79.86L374.98,79.66L375.37,79.46L375.77,79.25L376.16,79.04L376.56,78.83L376.95,78.61L377.35,78.39L377.75,78.16L378.14,77.93L378.54,77.70L378.93,77.46L379.33,77.23L379.72,76.98L380.12,76.74L380.52,76.50L380.91,76.25L381.31,76.00L381.70,75.76L382.10,75.51L382.49,75.26L382.89,75.00L383.29,74.75L383.68,74.50L384.08,74.25L384.47,74.00L384.87,73.75L385.26,73.50L385.66,73.25L386.06,73.00L386.45,72.75L386.85,72.50L387.24,72.26" stroke="#1eff1e" stroke-width="1.1550000000000002" fill="none" stroke-linejoin="round" stroke-dasharray="4.954 1.238 0.774 1.238" />
</g>
<rect x="306.4" y="45.7" width="83.70000000000005" height="53.5" fill="none" stroke="#757575" stroke-width="0.9"/>
<path d="M308.50,99.2v1.5M324.38,99.2v1.5M340.26,99.2v1.5M356.14,99.2v1.5M372.02,99.2v1.5M387.90,99.2v1.5M306.4,60.00h-1.5M306.4,80.00h-1.5M390.1,59.40h1.5M390.1,80.10h1.5" stroke="#444" stroke-width="0.6" fill="none"/>
<text x="308.50" y="107.10" font-size="5.12" text-anchor="middle" >0</text>
<text x="324.38" y="107.10" font-size="5.12" text-anchor="middle" >24</text>
<text x="340.26" y="107.10" font-size="5.12" text-anchor="middle" >48</text>
<text x="356.14" y="107.10" font-size="5.12" text-anchor="middle" >72</text>
<text x="372.02" y="107.10" font-size="5.12" text-anchor="middle" >96</text>
<text x="387.90" y="107.10" font-size="5.12" text-anchor="middle" >120</text>
<text x="302.90" y="61.90" font-size="5.12" text-anchor="end" >40</text>
<text x="302.90" y="81.90" font-size="5.12" text-anchor="end" >30</text>
<text x="393.60" y="61.30" font-size="5.12" text-anchor="start" >5</text>
<text x="393.60" y="82.00" font-size="5.12" text-anchor="start" >0</text>
<text x="348.25" y="114.40" font-size="5.12" text-anchor="middle" >Rank of Recordings [per hour]</text>
<text transform="translate(292.80,72.95) rotate(-90)" font-size="5.12" text-anchor="middle">Active Power [MW]</text>
<text transform="translate(403.10,72.95) rotate(-90)" font-size="5.12" text-anchor="middle">Temperature [°C]</text>
<rect x="449.1" y="45.6" width="84.19999999999993" height="53.6" fill="#fff"/>
<path d="M451.20,45.6V99.2M462.59,45.6V99.2M473.98,45.6V99.2M485.37,45.6V99.2M496.76,45.6V99.2M508.15,45.6V99.2M519.54,45.6V99.2M530.93,45.6V99.2M449.1,59.90H533.3M449.1,79.60H533.3" stroke="#cfcfcf" stroke-width="0.5" fill="none"/>
<clipPath id="c4"><rect x="449.1" y="45.6" width="84.19999999999993" height="53.6"/></clipPath><g clip-path="url(#c4)">
<path d="M451.20,83.28L451.44,85.02L451.67,86.64L451.91,88.14L452.15,89.53L452.39,90.91L452.62,92.29L452.86,93.67L453.10,95.21L453.34,96.26L453.57,96.47L453.81,95.49L454.05,92.84L454.28,88.90L454.52,83.90L454.76,77.91L455.00,73.27L455.23,73.00L455.47,73.74L455.71,73.75L455.95,73.30L456.18,72.98L456.42,72.70L456.66,72.51L456.89,72.31L457.13,71.92L457.37,71.74L457.61,72.35L457.84,73.10L458.08,73.66L458.32,73.86L458.56,73.13L458.79,70.53L459.03,66.01L459.27,59.17L459.51,53.54L459.74,50.44L459.98,50.07L460.22,51.72L460.45,54.09L460.69,56.76L460.93,59.51L461.17,61.87L461.40,64.23L461.64,69.36L461.88,71.75L462.12,73.41L462.35,75.63L462.59,82.71L462.83,84.18L463.06,85.55L463.30,86.81L463.54,87.99L463.78,89.16L464.01,90.33L464.25,91.49L464.49,92.79L464.73,93.68L464.96,93.86L465.20,93.03L465.44,90.79L465.67,87.46L465.91,83.20L466.15,77.74L466.39,72.84L466.62,72.41L466.86,73.30L467.10,73.41L467.34,72.83L467.57,72.26L467.81,71.70L468.05,71.21L468.28,70.72L468.52,70.02L468.76,69.56L469.00,69.91L469.23,70.42L469.47,70.72L469.71,70.82L469.95,70.06L470.18,70.42L470.42,65.67L470.66,58.47L470.90,52.55L471.13,49.29L471.37,48.90L471.61,50.64L471.84,53.12L472.08,55.94L472.32,58.83L472.56,61.31L472.79,63.80L473.03,69.19L473.27,71.71L473.51,73.41L473.74,75.63L473.98,82.36L474.22,83.66L474.45,84.88L474.69,86.00L474.93,87.05L475.17,88.08L475.40,89.12L475.64,90.15L475.88,91.31L476.12,92.09L476.35,92.26L476.59,91.52L476.83,89.53L477.06,86.55L477.30,82.62L477.54,76.54L477.78,69.66L478.01,68.05L478.25,70.15L478.49,72.27L478.73,72.77L478.96,72.57L479.20,72.17L479.44,71.82L479.68,71.46L479.91,70.89L480.15,70.56L480.39,71.05L480.62,71.68L480.86,72.12L481.10,72.27L481.34,71.51L481.57,70.42L481.81,65.67L482.05,58.47L482.29,52.55L482.52,49.29L482.76,48.90L483.00,50.64L483.23,53.12L483.47,55.94L483.71,58.83L483.95,61.31L484.18,63.80L484.42,69.19L484.66,71.71L484.90,73.41L485.13,75.63L485.37,82.45L485.61,83.79L485.84,85.05L486.08,86.21L486.32,87.28L486.56,88.35L486.79,89.42L487.03,90.48L487.27,91.68L487.51,92.49L487.74,92.66L487.98,91.90L488.22,89.84L488.45,86.77L488.69,82.70L488.93,76.42L489.17,69.27L489.40,67.52L489.64,69.78L489.88,72.12L490.12,72.69L490.35,72.47L490.59,72.02L490.83,71.62L491.06,71.21L491.30,70.60L491.54,70.22L491.78,70.68L492.01,71.29L492.25,71.70L492.49,71.84L492.73,71.06L492.96,70.37L493.20,65.50L493.44,58.12L493.68,52.06L493.91,48.72L494.15,48.32L494.39,50.09L494.62,52.64L494.86,55.53L495.10,58.49L495.34,61.04L495.57,63.59L495.81,69.11L496.05,71.69L496.29,73.41L496.52,75.63L496.76,82.18L497.00,83.41L497.23,84.55L497.47,85.60L497.71,86.57L497.95,87.54L498.18,88.51L498.42,89.48L498.66,90.56L498.90,91.30L499.13,91.45L499.37,90.76L499.61,88.90L499.84,86.11L500.08,82.42L500.32,76.48L500.56,70.17L500.79,68.89L501.03,70.55L501.27,72.35L501.51,72.99L501.74,72.94L501.98,72.70L502.22,72.51L502.45,72.35L502.69,72.03L502.93,71.88L503.17,72.38L503.40,73.10L503.64,73.66L503.88,73.86L504.12,73.13L504.35,70.89L504.59,67.19L504.83,61.60L505.07,57.01L505.30,54.47L505.54,54.17L505.78,55.52L506.01,57.45L506.25,59.64L506.49,61.88L506.73,63.81L506.96,65.74L507.20,69.93L507.44,71.89L507.68,73.41L507.91,75.63L508.15,82.66L508.39,84.11L508.62,85.47L508.86,86.71L509.10,87.87L509.34,89.03L509.57,90.18L509.81,91.32L510.05,92.61L510.29,93.48L510.52,93.66L510.76,92.84L511.00,90.63L511.23,87.34L511.47,83.09L511.71,77.34L511.95,72.13L512.18,71.69L512.42,72.39L512.66,73.12L512.90,73.03L513.13,72.73L513.37,72.44L513.61,72.28L513.85,72.12L514.08,71.85L514.32,71.70L514.56,71.99L514.79,72.36L515.03,72.71L515.27,72.88L515.51,72.31L515.74,71.40L515.98,68.89L516.22,65.08L516.46,61.95L516.69,60.23L516.93,60.02L517.17,60.94L517.40,62.26L517.64,63.74L517.88,65.27L518.12,66.59L518.35,67.90L518.59,70.75L518.83,72.09L519.07,73.41L519.30,75.63L519.54,83.10L519.78,84.76L520.01,86.31L520.25,87.73L520.49,89.06L520.73,90.37L520.96,91.69L521.20,93.00L521.44,94.47L521.68,95.46L521.91,95.67L522.15,94.74L522.39,92.21L522.62,88.44L522.86,83.53L523.10,77.05L523.34,71.54L523.57,70.82L523.81,71.86L524.05,72.83L524.29,72.97L524.52,72.72L524.76,72.42L525.00,72.23L525.24,72.03L525.47,71.70L525.71,71.52L525.95,71.87L526.18,72.32L526.42,72.71L526.66,72.88L526.90,72.26L527.13,71.15L527.37,68.04L527.61,63.34L527.85,59.48L528.08,57.35L528.32,57.09L528.56,58.23L528.79,59.85L529.03,61.69L529.27,63.58L529.51,65.20L529.74,66.82L529.98,70.34L530.22,71.99L530.46,73.41" stroke="#4169e1" stroke-width="1.05" fill="none" stroke-linejoin="round" />
<path d="M451.20,77.66L451.60,77.58L452.00,77.50L452.39,77.41L452.79,77.33L453.19,77.24L453.59,77.14L453.99,77.05L454.39,76.95L454.78,76.85L455.18,76.75L455.58,76.65L455.98,76.54L456.38,76.43L456.78,76.33L457.17,76.22L457.57,76.10L457.97,75.99L458.37,75.88L458.77,75.76L459.17,75.65L459.56,75.53L459.96,75.41L460.36,75.30L460.76,75.18L461.16,75.06L461.55,74.94L461.95,74.82L462.35,74.70L462.75,74.58L463.15,74.46L463.55,74.34L463.94,74.23L464.34,74.11L464.74,73.99L465.14,73.88L465.54,73.76L465.94,73.65L466.33,73.53L466.73,73.42L467.13,73.31L467.53,73.20L467.93,73.09L468.33,72.99L468.72,72.88L469.12,72.78L469.52,72.68L469.92,72.58L470.32,72.49L470.72,72.40L471.11,72.30L471.51,72.22L471.91,72.13L472.31,72.05L472.71,71.96L473.10,71.89L473.50,71.81L473.90,71.74L474.30,71.67L474.70,71.60L475.10,71.54L475.49,71.48L475.89,71.43L476.29,71.37L476.69,71.32L477.09,71.28L477.49,71.23L477.88,71.19L478.28,71.16L478.68,71.13L479.08,71.10L479.48,71.07L479.88,71.05L480.27,71.03L480.67,71.02L481.07,71.01L481.47,71.00L481.87,71.00L482.26,71.00L482.66,71.01L483.06,71.01L483.46,71.03L483.86,71.04L484.26,71.06L484.65,71.09L485.05,71.11L485.45,71.14L485.85,71.18L486.25,71.22L486.65,71.26L487.04,71.30L487.44,71.35L487.84,71.40L488.24,71.46L488.64,71.52L489.04,71.58L489.43,71.64L489.83,71.71L490.23,71.78L490.63,71.85L491.03,71.93L491.43,72.01L491.82,72.09L492.22,72.18L492.62,72.27L493.02,72.36L493.42,72.45L493.81,72.54L494.21,72.64L494.61,72.74L495.01,72.84L495.41,72.94L495.81,73.05L496.20,73.15L496.60,73.26L497.00,73.37L497.40,73.48L497.80,73.60L498.20,73.71L498.59,73.83L498.99,73.94L499.39,74.06L499.79,74.17L500.19,74.29L500.59,74.41L500.98,74.53L501.38,74.65L501.78,74.77L502.18,74.89L502.58,75.01L502.97,75.13L503.37,75.24L503.77,75.36L504.17,75.48L504.57,75.60L504.97,75.71L505.36,75.83L505.76,75.94L506.16,76.06L506.56,76.17L506.96,76.28L507.36,76.39L507.75,76.50L508.15,76.60L508.55,76.71L508.95,76.81L509.35,76.91L509.75,77.01L510.14,77.10L510.54,77.20L510.94,77.29L511.34,77.38L511.74,77.46L512.14,77.55L512.53,77.63L512.93,77.71L513.33,77.78L513.73,77.85L514.13,77.92L514.52,77.99L514.92,78.05L515.32,78.11L515.72,78.17L516.12,78.22L516.52,78.27L516.91,78.32L517.31,78.36L517.71,78.40L518.11,78.44L518.51,78.47L518.91,78.50L519.30,78.53L519.70,78.55L520.10,78.57L520.50,78.58L520.90,78.59L521.30,78.60L521.69,78.60L522.09,78.60L522.49,78.59L522.89,78.59L523.29,78.57L523.68,78.56L524.08,78.54L524.48,78.52L524.88,78.49L525.28,78.46L525.68,78.43L526.07,78.39L526.47,78.35L526.87,78.30L527.27,78.25L527.67,78.20L528.07,78.15L528.46,78.09L528.86,78.03L529.26,77.96L529.66,77.90L530.06,77.83L530.46,77.75" stroke="#f0141e" stroke-width="1.1550000000000002" fill="none" stroke-linejoin="round" stroke-dasharray="2.864 1.238" />
<path d="M451.20,64.16L451.67,64.57L452.15,64.99L452.62,64.85L453.10,67.40L453.57,73.06L454.05,75.18L454.52,73.94L455.00,70.99L455.47,67.59L455.95,64.80L456.42,61.80L456.89,58.10L457.37,49.90L457.84,53.78L458.32,53.47L458.79,56.45L459.27,60.83L459.74,66.08L460.22,70.07L460.69,73.68L461.17,76.20L461.64,75.34L462.12,73.67L462.59,74.07L463.06,73.87L463.54,70.26L464.01,72.76L464.49,72.77L464.96,74.70L465.44,75.22L465.91,73.95L466.39,73.34L466.86,71.53L467.34,70.79L467.81,70.12L468.28,71.66L468.76,71.43L469.23,68.94L469.71,72.72L470.18,74.26L470.66,73.06L471.13,71.41L471.61,74.36L472.08,72.49L472.56,73.61L473.03,76.26L473.51,74.22L473.98,75.90L474.45,76.43L474.93,77.72L475.40,75.73L475.88,75.84L476.35,74.07L476.83,73.85L477.30,72.33L477.78,67.68L478.25,68.73L478.73,66.61L479.20,66.07L479.68,65.77L480.15,65.16L480.62,63.17L481.10,63.79L481.57,63.31L482.05,64.72L482.52,66.22L483.00,69.71L483.47,73.41L483.95,78.93L484.42,83.89L484.90,83.32L485.37,85.11L485.84,87.93L486.32,88.53L486.79,90.31L487.27,92.32L487.74,94.08L488.22,96.81L488.69,92.70L489.17,93.24L489.64,87.99L490.12,85.70L490.59,82.51L491.06,78.59L491.54,76.35L492.01,77.38L492.49,76.69L492.96,72.52L493.44,73.91L493.91,71.75L494.39,69.88L494.86,72.62L495.34,73.74L495.81,71.97L496.29,73.42L496.76,74.96L497.23,75.79L497.71,77.44L498.18,77.88L498.66,75.38L499.13,75.51L499.61,75.55L500.08,72.04L500.56,71.90L501.03,70.30L501.51,71.02L501.98,70.15L502.45,70.97L502.93,71.78L503.40,71.58L503.88,74.38L504.35,74.69L504.83,75.95L505.30,75.10L505.78,81.36L506.25,79.83L506.73,79.59L507.20,78.05L507.68,80.45L508.15,79.84L508.62,78.00L509.10,78.18L509.57,76.89L510.05,76.32L510.52,73.56L511.00,73.97L511.47,75.61L511.95,72.68L512.42,73.28L512.90,73.92L513.37,69.53L513.85,66.02L514.32,65.64L514.79,65.82L515.27,66.47L515.74,65.45L516.22,67.99L516.69,69.53L517.17,70.93L517.64,71.77L518.12,71.55L518.59,72.53L519.07,73.44L519.54,75.19L520.01,72.80L520.49,73.19L520.96,69.62L521.44,71.33L521.91,68.92L522.39,67.79L522.86,68.41L523.34,63.47L523.81,62.47L524.29,63.36L524.76,60.19L525.24,58.93L525.71,60.36L526.18,54.95L526.66,54.48L527.13,53.91L527.61,57.23L528.08,59.73L528.56,63.69L529.03,66.20L529.51,70.65L529.98,73.90L530.46,74.06" stroke="#2a2a2a" stroke-width="0.85" fill="none" stroke-linejoin="round" stroke-dasharray="0.85 1.2" opacity="0.9"/>
<path d="M451.20,62.46L451.60,62.51L452.00,62.58L452.39,62.66L452.79,62.75L453.19,62.84L453.59,62.95L453.99,63.06L454.39,63.19L454.78,63.32L455.18,63.46L455.58,63.61L455.98,63.76L456.38,63.93L456.78,64.10L457.17,64.28L457.57,64.47L457.97,64.66L458.37,64.87L458.77,65.08L459.17,65.29L459.56,65.52L459.96,65.75L460.36,65.98L460.76,66.22L461.16,66.47L461.55,66.72L461.95,66.98L462.35,67.24L462.75,67.51L463.15,67.78L463.55,68.06L463.94,68.34L464.34,68.62L464.74,68.91L465.14,69.20L465.54,69.49L465.94,69.79L466.33,70.09L466.73,70.39L467.13,70.69L467.53,70.99L467.93,71.29L468.33,71.60L468.72,71.90L469.12,72.20L469.52,72.51L469.92,72.81L470.32,73.12L470.72,73.42L471.11,73.72L471.51,74.02L471.91,74.31L472.31,74.61L472.71,74.90L473.10,75.19L473.50,75.47L473.90,75.76L474.30,76.04L474.70,76.31L475.10,76.58L475.49,76.85L475.89,77.11L476.29,77.36L476.69,77.62L477.09,77.86L477.49,78.10L477.88,78.33L478.28,78.56L478.68,78.78L479.08,79.00L479.48,79.20L479.88,79.40L480.27,79.60L480.67,79.78L481.07,79.96L481.47,80.13L481.87,80.29L482.26,80.45L482.66,80.59L483.06,80.73L483.46,80.86L483.86,80.98L484.26,81.09L484.65,81.19L485.05,81.28L485.45,81.37L485.85,81.44L486.25,81.51L486.65,81.56L487.04,81.61L487.44,81.65L487.84,81.67L488.24,81.69L488.64,81.70L489.04,81.70L489.43,81.69L489.83,81.67L490.23,81.64L490.63,81.60L491.03,81.55L491.43,81.49L491.82,81.42L492.22,81.35L492.62,81.26L493.02,81.17L493.42,81.06L493.81,80.95L494.21,80.83L494.61,80.70L495.01,80.56L495.41,80.41L495.81,80.25L496.20,80.09L496.60,79.92L497.00,79.74L497.40,79.55L497.80,79.36L498.20,79.15L498.59,78.94L498.99,78.73L499.39,78.51L499.79,78.28L500.19,78.04L500.59,77.80L500.98,77.55L501.38,77.30L501.78,77.04L502.18,76.78L502.58,76.51L502.97,76.24L503.37,75.97L503.77,75.69L504.17,75.40L504.57,75.12L504.97,74.83L505.36,74.53L505.76,74.24L506.16,73.94L506.56,73.64L506.96,73.34L507.36,73.04L507.75,72.74L508.15,72.43L508.55,72.13L508.95,71.82L509.35,71.52L509.75,71.22L510.14,70.91L510.54,70.61L510.94,70.31L511.34,70.01L511.74,69.72L512.14,69.42L512.53,69.13L512.93,68.84L513.33,68.55L513.73,68.27L514.13,67.99L514.52,67.72L514.92,67.44L515.32,67.18L515.72,66.92L516.12,66.66L516.52,66.41L516.91,66.16L517.31,65.92L517.71,65.69L518.11,65.46L518.51,65.24L518.91,65.02L519.30,64.82L519.70,64.61L520.10,64.42L520.50,64.23L520.90,64.06L521.30,63.89L521.69,63.72L522.09,63.57L522.49,63.42L522.89,63.28L523.29,63.15L523.68,63.03L524.08,62.92L524.48,62.82L524.88,62.73L525.28,62.64L525.68,62.57L526.07,62.50L526.47,62.44L526.87,62.40L527.27,62.36L527.67,62.33L528.07,62.31L528.46,62.30L528.86,62.30L529.26,62.31L529.66,62.33L530.06,62.36L530.46,62.40" stroke="#1eff1e" stroke-width="1.1550000000000002" fill="none" stroke-linejoin="round" stroke-dasharray="4.954 1.238 0.774 1.238" />
</g>
<rect x="449.1" y="45.6" width="84.19999999999993" height="53.6" fill="none" stroke="#757575" stroke-width="0.9"/>
<path d="M451.20,99.2v1.5M462.59,99.2v1.5M473.98,99.2v1.5M485.37,99.2v1.5M496.76,99.2v1.5M508.15,99.2v1.5M519.54,99.2v1.5M530.93,99.2v1.5M449.1,59.90h-1.5M449.1,79.60h-1.5M533.3,59.40h1.5M533.3,80.10h1.5" stroke="#444" stroke-width="0.6" fill="none"/>
<text x="451.20" y="107.10" font-size="5.12" text-anchor="middle" >0</text>
<text x="462.59" y="107.10" font-size="5.12" text-anchor="middle" >1</text>
<text x="473.98" y="107.10" font-size="5.12" text-anchor="middle" >2</text>
<text x="485.37" y="107.10" font-size="5.12" text-anchor="middle" >3</text>
<text x="496.76" y="107.10" font-size="5.12" text-anchor="middle" >4</text>
<text x="508.15" y="107.10" font-size="5.12" text-anchor="middle" >5</text>
<text x="519.54" y="107.10" font-size="5.12" text-anchor="middle" >6</text>
<text x="530.93" y="107.10" font-size="5.12" text-anchor="middle" >7</text>
<text x="445.60" y="61.80" font-size="5.12" text-anchor="end" >40</text>
<text x="445.60" y="81.50" font-size="5.12" text-anchor="end" >30</text>
<text x="536.80" y="61.30" font-size="5.12" text-anchor="start" >5</text>
<text x="536.80" y="82.00" font-size="5.12" text-anchor="start" >0</text>
<text x="491.20" y="114.40" font-size="5.12" text-anchor="middle" >Rank of Recordings [per day]</text>
<text transform="translate(435.80,72.90) rotate(-90)" font-size="5.12" text-anchor="middle">Active Power [MW]</text>
<text transform="translate(546.20,72.90) rotate(-90)" font-size="5.12" text-anchor="middle">Temperature [°C]</text>
<rect x="20.4" y="152.6" width="81.0" height="53.400000000000006" fill="#fff"/>
<path d="M22.50,152.6V206.0M41.96,152.6V206.0M61.42,152.6V206.0M80.88,152.6V206.0M100.34,152.6V206.0M20.4,165.50H101.4M20.4,184.40H101.4M20.4,203.30H101.4" stroke="#cfcfcf" stroke-width="0.5" fill="none"/>
<clipPath id="c5"><rect x="20.4" y="152.6" width="81.0" height="53.400000000000006"/></clipPath><g clip-path="url(#c5)">
<path d="M22.50,187.97L22.62,191.24L22.73,194.04L22.85,196.72L22.96,199.55L23.08,200.78L23.20,197.25L23.31,188.57L23.43,178.33L23.54,178.77L23.66,178.35L23.77,177.78L23.89,177.41L24.01,176.88L24.12,178.16L24.24,178.89L24.35,175.73L24.47,165.02L24.59,156.79L24.70,158.00L24.82,162.75L24.93,167.57L25.05,174.62L25.16,178.46L25.28,187.55L25.40,190.43L25.51,192.90L25.63,195.27L25.74,197.77L25.86,198.85L25.98,195.74L26.09,188.08L26.21,178.33L26.32,178.77L26.44,178.35L26.55,177.78L26.67,177.45L26.79,177.02L26.90,178.16L27.02,178.89L27.13,176.11L27.25,167.58L27.36,161.03L27.48,161.99L27.60,165.77L27.71,169.61L27.83,175.23L27.94,178.46L28.06,187.34L28.18,190.03L28.29,192.34L28.41,194.55L28.52,196.88L28.64,197.89L28.75,194.98L28.87,187.84L28.99,178.33L29.10,178.77L29.22,178.35L29.33,177.78L29.45,177.45L29.57,177.02L29.68,178.16L29.80,178.89L29.91,176.11L30.03,167.58L30.14,161.03L30.26,161.99L30.38,165.77L30.49,169.61L30.61,175.23L30.72,178.46L30.84,187.76L30.96,190.84L31.07,193.47L31.19,196.00L31.30,198.66L31.42,199.82L31.54,196.50L31.65,188.33L31.77,178.33L31.88,178.77L32.00,178.35L32.11,177.78L32.23,177.46L32.35,177.05L32.46,178.16L32.58,178.89L32.69,176.19L32.81,168.14L32.92,161.95L33.04,162.86L33.16,166.43L33.27,170.05L33.39,175.36L33.50,178.46L33.62,188.18L33.74,191.64L33.85,194.61L33.97,197.45L34.08,200.45L34.20,201.75L34.31,198.01L34.43,188.82L34.55,178.33L34.66,178.77L34.78,178.35L34.89,177.78L35.01,177.47L35.13,177.10L35.24,178.16L35.36,178.89L35.47,176.31L35.59,168.91L35.70,163.24L35.82,164.07L35.94,167.35L36.05,170.67L36.17,175.54L36.28,178.46L36.40,187.55L36.52,190.43L36.63,192.90L36.75,195.27L36.86,197.77L36.98,198.85L37.09,195.74L37.21,188.08L37.33,178.33L37.44,178.77L37.56,178.35L37.67,177.78L37.79,177.51L37.91,177.27L38.02,178.16L38.14,178.89L38.25,176.75L38.37,171.92L38.48,168.21L38.60,168.75L38.72,170.90L38.83,173.07L38.95,176.25L39.06,178.46L39.18,187.97L39.30,191.24L39.41,194.04L39.53,196.72L39.64,199.55L39.76,200.78L39.88,197.25L39.99,188.57L40.11,178.33L40.22,178.77L40.34,178.35L40.45,177.78L40.57,177.45L40.69,177.04L40.80,178.16L40.92,178.89L41.03,176.16L41.15,167.91L41.27,161.58L41.38,162.51L41.50,166.17L41.61,169.87L41.73,175.31L41.84,178.46L41.96,188.39L42.08,192.04L42.19,195.17L42.31,198.17L42.42,201.34L42.54,202.71L42.66,198.76L42.77,189.06L42.89,178.33L43.00,178.77L43.12,178.35L43.23,177.78L43.35,177.40L43.47,176.83L43.58,178.16L43.70,178.89L43.81,175.61L43.93,164.24L44.05,155.51L44.16,156.79L44.28,161.83L44.39,166.95L44.51,174.44L44.62,178.46L44.74,187.76L44.86,190.84L44.97,193.47L45.09,196.00L45.20,198.66L45.32,199.82L45.44,196.50L45.55,188.33L45.67,178.33L45.78,178.77L45.90,178.35L46.01,177.78L46.13,177.40L46.25,176.84L46.36,178.16L46.48,178.89L46.59,175.64L46.71,164.46L46.83,155.87L46.94,157.13L47.06,162.09L47.17,167.12L47.29,174.49L47.40,178.46L47.52,188.18L47.64,191.64L47.75,194.61L47.87,197.45L47.98,200.45L48.10,201.75L48.22,198.01L48.33,188.82L48.45,178.33L48.56,178.77L48.68,178.35L48.79,177.78L48.91,177.41L49.03,176.88L49.14,178.16L49.26,178.89L49.37,175.74L49.49,165.13L49.60,156.98L49.72,158.17L49.84,162.88L49.95,167.66L50.07,174.65L50.18,178.46L50.30,188.39L50.42,192.04L50.53,195.17L50.65,198.17L50.76,201.34L50.88,202.71L50.99,198.76L51.11,189.06L51.23,178.33L51.34,178.77L51.46,178.35L51.57,177.78L51.69,177.42L51.81,176.89L51.92,178.16L52.04,178.89L52.15,175.78L52.27,165.35L52.38,157.35L52.50,158.52L52.62,163.14L52.73,167.83L52.85,174.70L52.96,178.46L53.08,187.97L53.20,191.24L53.31,194.04L53.43,196.72L53.54,199.55L53.66,200.78L53.77,197.25L53.89,188.57L54.01,178.33L54.12,178.77L54.24,178.35L54.35,177.78L54.47,177.44L54.59,177.01L54.70,178.16L54.82,178.89L54.93,176.07L55.05,167.36L55.16,160.66L55.28,161.64L55.40,165.51L55.51,169.43L55.63,175.18L55.74,178.46L55.86,187.76L55.98,190.84L56.09,193.47L56.21,196.00L56.32,198.66L56.44,199.82L56.55,196.50L56.67,188.33L56.79,178.33L56.90,178.77L57.02,178.35L57.13,177.78L57.25,177.49L57.37,177.19L57.48,178.16L57.60,178.89L57.71,176.54L57.83,170.47L57.95,165.81L58.06,166.50L58.18,169.19L58.29,171.92L58.41,175.91L58.52,178.46L58.64,188.18L58.76,191.64L58.87,194.61L58.99,197.45L59.10,200.45L59.22,201.75L59.34,198.01L59.45,188.82L59.57,178.33L59.68,178.77L59.80,178.35L59.91,177.78L60.03,177.47L60.15,177.10L60.26,178.16L60.38,178.89L60.49,176.32L60.61,169.03L60.72,163.42L60.84,164.24L60.96,167.48L61.07,170.76L61.19,175.57L61.30,178.46L61.42,187.55L61.54,190.43L61.65,192.90L61.77,195.27L61.88,197.77L62.00,198.85L62.11,195.74L62.23,188.08L62.35,178.33L62.46,178.77L62.58,178.35L62.69,177.78L62.81,177.43L62.93,176.94L63.04,178.16L63.16,178.89L63.27,175.89L63.39,166.13L63.50,158.64L63.62,159.73L63.74,164.06L63.85,168.45L63.97,174.89L64.08,178.46L64.20,187.76L64.32,190.84L64.43,193.47L64.55,196.00L64.66,198.66L64.78,199.82L64.89,196.50L65.01,188.33L65.13,178.33L65.24,178.77L65.36,178.35L65.47,177.78L65.59,177.42L65.71,176.93L65.82,178.16L65.94,178.89L66.05,175.86L66.17,165.91L66.28,158.27L66.40,159.39L66.52,163.80L66.63,168.28L66.75,174.83L66.86,178.46L66.98,187.97L67.10,191.24L67.21,194.04L67.33,196.72L67.44,199.55L67.56,200.78L67.67,197.25L67.79,188.57L67.91,178.33L68.02,178.77L68.14,178.35L68.25,177.78L68.37,177.43L68.49,176.94L68.60,178.16L68.72,178.89L68.83,175.89L68.95,166.13L69.06,158.64L69.18,159.73L69.30,164.06L69.41,168.45L69.53,174.89L69.64,178.46L69.76,187.76L69.88,190.84L69.99,193.47L70.11,196.00L70.22,198.66L70.34,199.82L70.45,196.50L70.57,188.33L70.69,178.33L70.80,178.77L70.92,178.35L71.03,177.78L71.15,177.43L71.27,176.97L71.38,178.16L71.50,178.89L71.61,175.97L71.73,166.69L71.84,159.56L71.96,160.60L72.08,164.72L72.19,168.90L72.31,175.02L72.42,178.46L72.54,187.55L72.66,190.43L72.77,192.90L72.89,195.27L73.00,197.77L73.12,198.85L73.23,195.74L73.35,188.08L73.47,178.33L73.58,178.77L73.70,178.35L73.81,177.78L73.93,177.46L74.05,177.05L74.16,178.16L74.28,178.89L74.39,176.19L74.51,168.14L74.62,161.95L74.74,162.86L74.86,166.43L74.97,170.05L75.09,175.36L75.20,178.46L75.32,187.34L75.44,190.03L75.55,192.34L75.67,194.55L75.78,196.88L75.90,197.89L76.01,194.98L76.13,187.84L76.25,178.33L76.36,178.77L76.48,178.35L76.59,177.78L76.71,177.48L76.83,177.16L76.94,178.16L77.06,178.89L77.17,176.47L77.29,170.03L77.41,165.08L77.52,165.80L77.64,168.66L77.75,171.56L77.87,175.81L77.98,178.46L78.10,187.76L78.22,190.84L78.33,193.47L78.45,196.00L78.56,198.66L78.68,199.82L78.79,196.50L78.91,188.33L79.03,178.33L79.14,178.77L79.26,178.35L79.37,177.78L79.49,177.46L79.61,177.05L79.72,178.16L79.84,178.89L79.95,176.19L80.07,168.14L80.19,161.95L80.30,162.86L80.42,166.43L80.53,170.05L80.65,175.36L80.76,178.46L80.88,188.18L81.00,191.64L81.11,194.61L81.23,197.45L81.34,200.45L81.46,201.75L81.57,198.01L81.69,188.82L81.81,178.33L81.92,178.77L82.04,178.35L82.15,177.78L82.27,177.41L82.39,176.88L82.50,178.16L82.62,178.89L82.73,175.73L82.85,165.02L82.97,156.79L83.08,158.00L83.20,162.75L83.31,167.57L83.43,174.62L83.54,178.46L83.66,187.76L83.78,190.84L83.89,193.47L84.01,196.00L84.12,198.66L84.24,199.82L84.35,196.50L84.47,188.33L84.59,178.33L84.70,178.77L84.82,178.35L84.93,177.78L85.05,177.40L85.17,176.84L85.28,178.16L85.40,178.89L85.51,175.64L85.63,164.46L85.75,155.87L85.86,157.13L85.98,162.09L86.09,167.12L86.21,174.49L86.32,178.46L86.44,187.97L86.56,191.24L86.67,194.04L86.79,196.72L86.90,199.55L87.02,200.78L87.13,197.25L87.25,188.57L87.37,178.33L87.48,178.77L87.60,178.35L87.71,177.78L87.83,177.40L87.95,176.84L88.06,178.16L88.18,178.89L88.29,175.64L88.41,164.46L88.52,155.87L88.64,157.13L88.76,162.09L88.87,167.12L88.99,174.49L89.10,178.46L89.22,187.76L89.34,190.84L89.45,193.47L89.57,196.00L89.68,198.66L89.80,199.82L89.91,196.50L90.03,188.33L90.15,178.33L90.26,178.77L90.38,178.35L90.49,177.78L90.61,177.40L90.73,176.83L90.84,178.16L90.96,178.89L91.07,175.61L91.19,164.24L91.30,155.51L91.42,156.79L91.54,161.83L91.65,166.95L91.77,174.44L91.88,178.46L92.00,187.55L92.12,190.43L92.23,192.90L92.35,195.27L92.46,197.77L92.58,198.85L92.69,195.74L92.81,188.08L92.93,178.33L93.04,178.77L93.16,178.35L93.27,177.78L93.39,177.44L93.51,177.00L93.62,178.16L93.74,178.89L93.85,176.06L93.97,167.25L94.08,160.48L94.20,161.47L94.32,165.38L94.43,169.34L94.55,175.15L94.66,178.46L94.78,187.34L94.90,190.03L95.01,192.34L95.13,194.55L95.24,196.88L95.36,197.89L95.47,194.98L95.59,187.84L95.71,178.33L95.82,178.77L95.94,178.35L96.05,177.78L96.17,177.49L96.29,177.19L96.40,178.16L96.52,178.89L96.63,176.54L96.75,170.47L96.86,165.81L96.98,166.50L97.10,169.19L97.21,171.92L97.33,175.91L97.44,178.46L97.56,187.76L97.68,190.84L97.79,193.47L97.91,196.00L98.02,198.66L98.14,199.82L98.25,196.50L98.37,188.33L98.49,178.33L98.60,178.77L98.72,178.35L98.83,177.78L98.95,177.47L99.07,177.12L99.18,178.16L99.30,178.89L99.41,176.37L99.53,169.36L99.64,163.97L99.76,164.76L99.88,167.87L99.99,171.03L100.11,175.65L100.22,178.46" stroke="#4169e1" stroke-width="0.9" fill="none" stroke-linejoin="round" />
<path d="M22.50,181.23L22.89,181.27L23.28,181.31L23.67,181.34L24.06,181.38L24.45,181.42L24.84,181.46L25.23,181.50L25.62,181.53L26.02,181.57L26.41,181.61L26.80,181.65L27.19,181.68L27.58,181.72L27.97,181.76L28.36,181.80L28.75,181.83L29.14,181.87L29.53,181.90L29.92,181.94L30.31,181.97L30.70,182.01L31.09,182.04L31.48,182.08L31.87,182.11L32.26,182.14L32.66,182.17L33.05,182.20L33.44,182.23L33.83,182.26L34.22,182.29L34.61,182.32L35.00,182.35L35.39,182.37L35.78,182.40L36.17,182.42L36.56,182.45L36.95,182.47L37.34,182.49L37.73,182.51L38.12,182.53L38.51,182.55L38.91,182.57L39.30,182.59L39.69,182.60L40.08,182.62L40.47,182.63L40.86,182.64L41.25,182.65L41.64,182.66L42.03,182.67L42.42,182.68L42.81,182.69L43.20,182.69L43.59,182.69L43.98,182.70L44.37,182.70L44.76,182.70L45.15,182.70L45.55,182.70L45.94,182.69L46.33,182.69L46.72,182.68L47.11,182.68L47.50,182.67L47.89,182.66L48.28,182.65L48.67,182.64L49.06,182.63L49.45,182.61L49.84,182.60L50.23,182.58L50.62,182.57L51.01,182.55L51.40,182.53L51.79,182.51L52.19,182.49L52.58,182.47L52.97,182.45L53.36,182.42L53.75,182.40L54.14,182.37L54.53,182.34L54.92,182.32L55.31,182.29L55.70,182.26L56.09,182.23L56.48,182.20L56.87,182.17L57.26,182.14L57.65,182.10L58.04,182.07L58.43,182.04L58.83,182.00L59.22,181.97L59.61,181.93L60.00,181.90L60.39,181.86L60.78,181.83L61.17,181.79L61.56,181.75L61.95,181.72L62.34,181.68L62.73,181.64L63.12,181.60L63.51,181.57L63.90,181.53L64.29,181.49L64.68,181.45L65.08,181.42L65.47,181.38L65.86,181.34L66.25,181.30L66.64,181.27L67.03,181.23L67.42,181.19L67.81,181.16L68.20,181.12L68.59,181.08L68.98,181.05L69.37,181.01L69.76,180.98L70.15,180.95L70.54,180.91L70.93,180.88L71.32,180.85L71.72,180.82L72.11,180.79L72.50,180.76L72.89,180.73L73.28,180.70L73.67,180.67L74.06,180.64L74.45,180.62L74.84,180.59L75.23,180.57L75.62,180.54L76.01,180.52L76.40,180.50L76.79,180.48L77.18,180.46L77.57,180.44L77.96,180.42L78.36,180.41L78.75,180.39L79.14,180.38L79.53,180.37L79.92,180.35L80.31,180.34L80.70,180.33L81.09,180.33L81.48,180.32L81.87,180.31L82.26,180.31L82.65,180.30L83.04,180.30L83.43,180.30L83.82,180.30L84.21,180.30L84.60,180.30L85.00,180.31L85.39,180.31L85.78,180.32L86.17,180.32L86.56,180.33L86.95,180.34L87.34,180.35L87.73,180.36L88.12,180.38L88.51,180.39L88.90,180.41L89.29,180.42L89.68,180.44L90.07,180.46L90.46,180.48L90.85,180.50L91.25,180.52L91.64,180.54L92.03,180.56L92.42,180.59L92.81,180.61L93.20,180.64L93.59,180.67L93.98,180.69L94.37,180.72L94.76,180.75L95.15,180.78L95.54,180.81L95.93,180.84L96.32,180.87L96.71,180.91L97.10,180.94L97.49,180.97L97.89,181.01L98.28,181.04L98.67,181.08L99.06,181.11L99.45,181.15L99.84,181.19L100.23,181.22" stroke="#f0141e" stroke-width="1.1550000000000002" fill="none" stroke-linejoin="round" stroke-dasharray="2.864 1.238" />
<path d="M22.50,188.24L22.62,188.80L22.73,191.28L22.85,184.77L22.96,184.29L23.08,182.21L23.20,179.94L23.31,177.84L23.43,174.44L23.54,172.06L23.66,169.03L23.77,166.07L23.89,161.62L24.01,161.97L24.12,162.48L24.24,163.58L24.35,164.61L24.47,162.36L24.59,166.29L24.70,169.45L24.82,172.74L24.93,176.59L25.05,177.15L25.16,177.51L25.28,181.12L25.40,181.65L25.51,181.77L25.63,180.64L25.74,182.31L25.86,178.18L25.98,176.94L26.09,171.37L26.21,171.44L26.32,166.41L26.44,162.27L26.55,163.25L26.67,162.08L26.79,159.66L26.90,159.57L27.02,161.52L27.13,159.94L27.25,158.75L27.36,164.54L27.48,166.67L27.60,170.48L27.71,170.52L27.83,175.37L27.94,176.97L28.06,174.29L28.18,178.84L28.29,175.66L28.41,174.48L28.52,175.61L28.64,173.56L28.75,169.19L28.87,170.57L28.99,168.83L29.10,167.72L29.22,163.12L29.33,158.77L29.45,158.20L29.57,160.54L29.68,160.07L29.80,159.77L29.91,159.30L30.03,161.56L30.14,162.67L30.26,164.66L30.38,167.95L30.49,169.77L30.61,171.45L30.72,173.75L30.84,174.12L30.96,172.65L31.07,175.14L31.19,175.77L31.30,177.91L31.42,173.05L31.54,175.31L31.65,172.39L31.77,166.40L31.88,164.54L32.00,164.05L32.11,165.07L32.23,161.58L32.35,161.41L32.46,159.04L32.58,156.75L32.69,161.27L32.81,164.53L32.92,167.16L33.04,167.53L33.16,170.16L33.27,174.25L33.39,174.37L33.50,178.52L33.62,176.26L33.74,177.44L33.85,177.94L33.97,180.56L34.08,178.29L34.20,178.30L34.31,177.23L34.43,175.35L34.55,175.03L34.66,173.32L34.78,167.68L34.89,167.83L35.01,166.01L35.13,164.05L35.24,168.66L35.36,167.59L35.47,167.07L35.59,168.34L35.70,171.72L35.82,171.71L35.94,175.66L36.05,180.65L36.17,182.60L36.28,181.77L36.40,184.06L36.52,189.27L36.63,184.32L36.75,185.56L36.86,183.63L36.98,185.35L37.09,183.51L37.21,182.89L37.33,174.41L37.44,176.77L37.56,171.63L37.67,173.60L37.79,170.81L37.91,173.08L38.02,170.64L38.14,168.71L38.25,173.57L38.37,171.23L38.48,174.58L38.60,179.39L38.72,181.11L38.83,183.69L38.95,185.49L39.06,188.47L39.18,190.64L39.30,190.81L39.41,192.43L39.53,192.54L39.64,189.38L39.76,186.11L39.88,188.00L39.99,182.76L40.11,181.03L40.22,178.71L40.34,172.86L40.45,172.80L40.57,167.45L40.69,170.05L40.80,167.48L40.92,168.68L41.03,170.45L41.15,169.69L41.27,173.04L41.38,174.21L41.50,178.01L41.61,182.48L41.73,183.31L41.84,185.19L41.96,185.25L42.08,189.37L42.19,188.07L42.31,190.33L42.42,184.91L42.54,185.79L42.66,184.39L42.77,178.35L42.89,173.08L43.00,174.27L43.12,170.42L43.23,167.11L43.35,165.61L43.47,161.57L43.58,162.90L43.70,162.87L43.81,161.54L43.93,165.44L44.05,165.60L44.16,170.60L44.28,173.83L44.39,177.73L44.51,174.05L44.62,180.00L44.74,180.69L44.86,182.11L44.97,181.96L45.09,181.51L45.20,176.93L45.32,179.84L45.44,178.05L45.55,174.05L45.67,171.32L45.78,164.51L45.90,161.35L46.01,161.77L46.13,160.47L46.25,157.39L46.36,153.88L46.48,161.36L46.59,156.73L46.71,161.25L46.83,160.00L46.94,166.38L47.06,168.01L47.17,173.08L47.29,174.96L47.40,173.32L47.52,176.12L47.64,179.35L47.75,180.54L47.87,181.89L47.98,178.19L48.10,175.75L48.22,173.48L48.33,170.76L48.45,169.59L48.56,164.89L48.68,162.17L48.79,157.63L48.91,154.94L49.03,157.34L49.14,158.15L49.26,157.47L49.37,159.66L49.49,161.82L49.60,163.12L49.72,167.64L49.84,167.86L49.95,172.09L50.07,174.30L50.18,177.47L50.30,180.28L50.42,181.89L50.53,181.18L50.65,181.46L50.76,179.15L50.88,177.95L50.99,178.15L51.11,173.23L51.23,172.97L51.34,169.09L51.46,166.10L51.57,167.08L51.69,161.85L51.81,160.86L51.92,161.21L52.04,162.21L52.15,163.38L52.27,166.28L52.38,167.45L52.50,170.66L52.62,172.46L52.73,177.56L52.85,177.79L52.96,180.27L53.08,182.55L53.20,184.23L53.31,183.02L53.43,186.56L53.54,182.02L53.66,180.85L53.77,178.74L53.89,176.18L54.01,175.38L54.12,172.14L54.24,168.23L54.35,166.55L54.47,165.40L54.59,167.40L54.70,163.64L54.82,163.00L54.93,164.38L55.05,167.40L55.16,172.63L55.28,170.89L55.40,175.44L55.51,182.18L55.63,179.71L55.74,185.03L55.86,186.32L55.98,186.22L56.09,183.31L56.21,185.76L56.32,183.64L56.44,179.49L56.55,177.63L56.67,178.05L56.79,175.63L56.90,174.71L57.02,171.26L57.13,167.22L57.25,165.63L57.37,165.08L57.48,163.21L57.60,166.56L57.71,166.34L57.83,166.61L57.95,168.96L58.06,170.58L58.18,174.35L58.29,178.18L58.41,179.48L58.52,183.91L58.64,186.59L58.76,183.81L58.87,185.21L58.99,184.22L59.10,186.59L59.22,182.67L59.34,180.92L59.45,178.88L59.57,178.58L59.68,172.63L59.80,168.03L59.91,166.76L60.03,166.78L60.15,164.73L60.26,163.04L60.38,169.35L60.49,165.85L60.61,166.30L60.72,168.16L60.84,168.85L60.96,172.44L61.07,176.45L61.19,178.91L61.30,180.17L61.42,184.02L61.54,184.16L61.65,182.87L61.77,180.69L61.88,183.25L62.00,181.40L62.11,178.83L62.23,174.38L62.35,174.05L62.46,168.81L62.58,170.47L62.69,166.99L62.81,165.35L62.93,162.62L63.04,161.80L63.16,166.48L63.27,166.46L63.39,165.92L63.50,169.71L63.62,173.62L63.74,171.88L63.85,175.43L63.97,177.87L64.08,181.62L64.20,180.66L64.32,183.82L64.43,181.86L64.55,184.91L64.66,183.77L64.78,180.31L64.89,179.71L65.01,174.87L65.13,172.90L65.24,172.24L65.36,168.05L65.47,166.62L65.59,162.81L65.71,164.39L65.82,163.69L65.94,161.19L66.05,160.43L66.17,162.43L66.28,167.82L66.40,169.99L66.52,170.37L66.63,175.81L66.75,179.70L66.86,179.92L66.98,180.94L67.10,184.12L67.21,185.83L67.33,185.09L67.44,180.45L67.56,181.22L67.67,178.01L67.79,174.91L67.91,171.55L68.02,170.51L68.14,166.60L68.25,166.84L68.37,164.31L68.49,164.40L68.60,160.36L68.72,162.67L68.83,164.88L68.95,165.81L69.06,167.66L69.18,168.49L69.30,174.98L69.41,176.60L69.53,177.86L69.64,174.93L69.76,179.16L69.88,181.93L69.99,180.82L70.11,178.15L70.22,181.03L70.34,179.65L70.45,174.88L70.57,173.71L70.69,170.85L70.80,170.32L70.92,163.81L71.03,162.16L71.15,162.57L71.27,161.42L71.38,165.72L71.50,161.52L71.61,163.91L71.73,164.37L71.84,165.94L71.96,169.98L72.08,174.74L72.19,173.67L72.31,177.83L72.42,179.06L72.54,181.00L72.66,181.46L72.77,185.13L72.89,178.79L73.00,179.52L73.12,176.61L73.23,173.25L73.35,174.42L73.47,175.22L73.58,171.38L73.70,169.81L73.81,166.83L73.93,164.51L74.05,167.29L74.16,163.12L74.28,166.73L74.39,164.70L74.51,166.97L74.62,169.32L74.74,171.21L74.86,174.46L74.97,177.04L75.09,181.15L75.20,180.31L75.32,178.67L75.44,179.48L75.55,181.06L75.67,181.98L75.78,183.64L75.90,178.82L76.01,179.76L76.13,177.89L76.25,176.23L76.36,173.54L76.48,172.58L76.59,170.41L76.71,170.97L76.83,169.13L76.94,164.54L77.06,169.06L77.17,170.43L77.29,170.71L77.41,172.40L77.52,177.79L77.64,178.68L77.75,179.19L77.87,182.57L77.98,184.81L78.10,183.95L78.22,188.82L78.33,188.04L78.45,189.00L78.56,184.94L78.68,189.68L78.79,185.94L78.91,183.85L79.03,179.81L79.14,177.88L79.26,174.65L79.37,178.12L79.49,172.96L79.61,174.04L79.72,174.54L79.84,172.94L79.95,176.46L80.07,179.99L80.19,179.06L80.30,183.27L80.42,184.29L80.53,185.02L80.65,187.45L80.76,187.31L80.88,191.96L81.00,195.32L81.11,194.49L81.23,194.64L81.34,194.42L81.46,190.31L81.57,190.40L81.69,190.59L81.81,183.76L81.92,182.84L82.04,179.89L82.15,178.47L82.27,176.17L82.39,176.33L82.50,174.06L82.62,175.89L82.73,177.03L82.85,178.68L82.97,184.04L83.08,184.37L83.20,187.27L83.31,189.24L83.43,194.53L83.54,191.72L83.66,196.15L83.78,199.62L83.89,201.03L84.01,198.45L84.12,197.29L84.24,196.89L84.35,193.51L84.47,192.39L84.59,187.76L84.70,187.31L84.82,183.68L84.93,179.83L85.05,175.50L85.17,180.61L85.28,179.41L85.40,180.51L85.51,178.93L85.63,184.08L85.75,185.36L85.86,187.39L85.98,192.03L86.09,195.03L86.21,197.07L86.32,202.33L86.44,203.17L86.56,202.70L86.67,202.28L86.79,202.59L86.90,204.28L87.02,200.33L87.13,195.89L87.25,193.60L87.37,191.75L87.48,190.17L87.60,184.82L87.71,184.51L87.83,183.69L87.95,181.92L88.06,177.72L88.18,180.25L88.29,179.87L88.41,184.58L88.52,184.65L88.64,190.18L88.76,192.53L88.87,191.13L88.99,196.95L89.10,201.60L89.22,202.79L89.34,203.27L89.45,202.14L89.57,204.59L89.68,205.47L89.80,201.00L89.91,197.94L90.03,194.80L90.15,189.54L90.26,188.04L90.38,184.18L90.49,184.83L90.61,179.43L90.73,175.99L90.84,177.67L90.96,178.77L91.07,179.94L91.19,178.84L91.30,185.71L91.42,186.95L91.54,188.81L91.65,191.14L91.77,195.75L91.88,196.67L92.00,199.28L92.12,199.51L92.23,200.08L92.35,201.14L92.46,197.80L92.58,194.16L92.69,194.64L92.81,190.36L92.93,185.58L93.04,185.32L93.16,180.18L93.27,179.71L93.39,173.94L93.51,170.60L93.62,170.52L93.74,174.56L93.85,173.89L93.97,176.58L94.08,178.80L94.20,178.89L94.32,186.54L94.43,185.24L94.55,189.67L94.66,189.35L94.78,193.06L94.90,195.50L95.01,194.12L95.13,192.82L95.24,192.79L95.36,190.15L95.47,189.50L95.59,189.52L95.71,181.45L95.82,178.92L95.94,177.19L96.05,175.05L96.17,171.65L96.29,173.09L96.40,173.11L96.52,172.54L96.63,171.19L96.75,177.18L96.86,174.87L96.98,180.41L97.10,183.77L97.21,182.30L97.33,186.96L97.44,190.99L97.56,190.86L97.68,189.53L97.79,189.30L97.91,191.60L98.02,189.07L98.14,186.88L98.25,187.09L98.37,182.97L98.49,181.07L98.60,179.41L98.72,177.02L98.83,174.10L98.95,172.67L99.07,172.76L99.18,172.22L99.30,169.93L99.41,172.39L99.53,172.69L99.64,174.01L99.76,177.20L99.88,176.59L99.99,184.11L100.11,183.37L100.22,187.01" stroke="#101010" stroke-width="0.55" fill="none" stroke-linejoin="round" stroke-dasharray="0.55 0.7" opacity="0.85"/>
<path d="M22.50,179.40L22.89,179.28L23.28,179.16L23.67,179.04L24.06,178.92L24.45,178.79L24.84,178.67L25.23,178.55L25.62,178.43L26.02,178.30L26.41,178.18L26.80,178.06L27.19,177.94L27.58,177.82L27.97,177.70L28.36,177.58L28.75,177.46L29.14,177.34L29.53,177.23L29.92,177.11L30.31,177.00L30.70,176.89L31.09,176.77L31.48,176.67L31.87,176.56L32.26,176.45L32.66,176.35L33.05,176.25L33.44,176.15L33.83,176.05L34.22,175.96L34.61,175.86L35.00,175.77L35.39,175.69L35.78,175.60L36.17,175.52L36.56,175.44L36.95,175.36L37.34,175.29L37.73,175.22L38.12,175.15L38.51,175.09L38.91,175.02L39.30,174.97L39.69,174.91L40.08,174.86L40.47,174.81L40.86,174.76L41.25,174.72L41.64,174.68L42.03,174.65L42.42,174.62L42.81,174.59L43.20,174.57L43.59,174.55L43.98,174.53L44.37,174.52L44.76,174.51L45.15,174.50L45.55,174.50L45.94,174.50L46.33,174.51L46.72,174.52L47.11,174.53L47.50,174.54L47.89,174.56L48.28,174.59L48.67,174.61L49.06,174.65L49.45,174.68L49.84,174.72L50.23,174.76L50.62,174.80L51.01,174.85L51.40,174.90L51.79,174.96L52.19,175.01L52.58,175.08L52.97,175.14L53.36,175.21L53.75,175.28L54.14,175.35L54.53,175.43L54.92,175.51L55.31,175.59L55.70,175.67L56.09,175.76L56.48,175.85L56.87,175.94L57.26,176.04L57.65,176.13L58.04,176.23L58.43,176.33L58.83,176.44L59.22,176.54L59.61,176.65L60.00,176.76L60.39,176.87L60.78,176.98L61.17,177.09L61.56,177.21L61.95,177.33L62.34,177.44L62.73,177.56L63.12,177.68L63.51,177.80L63.90,177.92L64.29,178.04L64.68,178.16L65.08,178.29L65.47,178.41L65.86,178.53L66.25,178.65L66.64,178.78L67.03,178.90L67.42,179.02L67.81,179.14L68.20,179.26L68.59,179.38L68.98,179.50L69.37,179.62L69.76,179.74L70.15,179.86L70.54,179.98L70.93,180.09L71.32,180.20L71.72,180.32L72.11,180.43L72.50,180.54L72.89,180.64L73.28,180.75L73.67,180.85L74.06,180.95L74.45,181.05L74.84,181.15L75.23,181.25L75.62,181.34L76.01,181.43L76.40,181.52L76.79,181.60L77.18,181.68L77.57,181.76L77.96,181.84L78.36,181.91L78.75,181.98L79.14,182.05L79.53,182.12L79.92,182.18L80.31,182.24L80.70,182.29L81.09,182.34L81.48,182.39L81.87,182.44L82.26,182.48L82.65,182.52L83.04,182.55L83.43,182.58L83.82,182.61L84.21,182.63L84.60,182.65L85.00,182.67L85.39,182.68L85.78,182.69L86.17,182.70L86.56,182.70L86.95,182.70L87.34,182.69L87.73,182.68L88.12,182.67L88.51,182.66L88.90,182.64L89.29,182.61L89.68,182.58L90.07,182.55L90.46,182.52L90.85,182.48L91.25,182.44L91.64,182.40L92.03,182.35L92.42,182.30L92.81,182.24L93.20,182.18L93.59,182.12L93.98,182.06L94.37,181.99L94.76,181.92L95.15,181.85L95.54,181.77L95.93,181.69L96.32,181.61L96.71,181.52L97.10,181.44L97.49,181.35L97.89,181.26L98.28,181.16L98.67,181.06L99.06,180.96L99.45,180.86L99.84,180.76L100.23,180.66" stroke="#1eff1e" stroke-width="1.1550000000000002" fill="none" stroke-linejoin="round" stroke-dasharray="4.954 1.238 0.774 1.238" />
</g>
<rect x="20.4" y="152.6" width="81.0" height="53.400000000000006" fill="none" stroke="#757575" stroke-width="0.9"/>
<path d="M22.50,206.0v1.5M41.96,206.0v1.5M61.42,206.0v1.5M80.88,206.0v1.5M100.34,206.0v1.5M20.4,165.50h-1.5M20.4,184.40h-1.5M20.4,203.30h-1.5M101.4,156.50h1.5M101.4,173.55h1.5M101.4,190.60h1.5" stroke="#444" stroke-width="0.6" fill="none"/>
<text x="22.50" y="213.90" font-size="5.12" text-anchor="middle" >0</text>
<text x="41.96" y="213.90" font-size="5.12" text-anchor="middle" >7</text>
<text x="61.42" y="213.90" font-size="5.12" text-anchor="middle" >14</text>
<text x="80.88" y="213.90" font-size="5.12" text-anchor="middle" >21</text>
<text x="100.34" y="213.90" font-size="5.12" text-anchor="middle" >28</text>
<text x="16.90" y="167.40" font-size="5.12" text-anchor="end" >40</text>
<text x="16.90" y="186.30" font-size="5.12" text-anchor="end" >30</text>
<text x="16.90" y="205.20" font-size="5.12" text-anchor="end" >20</text>
<text x="104.90" y="158.40" font-size="5.12" text-anchor="start" >10</text>
<text x="104.90" y="175.45" font-size="5.12" text-anchor="start" >5</text>
<text x="104.90" y="192.50" font-size="5.12" text-anchor="start" >0</text>
<text x="60.90" y="221.20" font-size="5.12" text-anchor="middle" >Rank of Recordings [per day]</text>
<text transform="translate(7.80,179.80) rotate(-90)" font-size="5.12" text-anchor="middle">Active Power [MW]</text>
<text transform="translate(116.60,179.80) rotate(-90)" font-size="5.12" text-anchor="middle">Temperature [°C]</text>
<rect x="163.4" y="154.0" width="80.9" height="52.0" fill="#fff"/>
<path d="M165.50,154.0V206.0M177.30,154.0V206.0M189.10,154.0V206.0M200.90,154.0V206.0M212.70,154.0V206.0M224.50,154.0V206.0M236.30,154.0V206.0M163.4,166.20H244.3M163.4,181.90H244.3M163.4,197.60H244.3" stroke="#cfcfcf" stroke-width="0.5" fill="none"/>
<clipPath id="c6"><rect x="163.4" y="154.0" width="80.9" height="52.0"/></clipPath><g clip-path="url(#c6)">
<path d="M165.50,185.84L165.57,192.55L165.64,198.64L165.71,196.09L165.78,176.85L165.85,176.88L165.92,176.11L165.99,176.72L166.06,174.88L166.13,161.03L166.20,165.39L166.27,174.07L166.34,185.87L166.41,192.62L166.48,198.75L166.55,196.19L166.62,176.85L166.69,176.88L166.76,176.14L166.83,176.72L166.90,175.15L166.97,164.07L167.05,167.55L167.12,174.51L167.19,185.69L167.26,192.13L167.33,197.98L167.40,195.54L167.47,176.85L167.54,176.88L167.61,176.11L167.68,176.72L167.75,174.84L167.82,160.61L167.89,165.09L167.96,174.01L168.03,185.98L168.10,192.91L168.17,199.21L168.24,196.58L168.31,176.85L168.38,176.88L168.45,176.13L168.52,176.72L168.59,175.02L168.66,162.56L168.73,166.48L168.80,174.29L168.87,186.27L168.94,193.69L169.01,200.44L169.08,197.62L169.15,176.85L169.22,176.88L169.29,176.15L169.36,176.72L169.43,175.28L169.50,165.45L169.57,168.54L169.64,174.71L169.71,186.76L169.78,195.02L169.85,202.53L169.93,199.40L170.00,176.85L170.07,176.88L170.14,176.16L170.21,176.72L170.28,175.39L170.35,166.73L170.42,169.46L170.49,174.89L170.56,186.31L170.63,193.82L170.70,200.64L170.77,197.79L170.84,176.85L170.91,176.88L170.98,176.18L171.05,176.72L171.12,175.52L171.19,168.12L171.26,170.45L171.33,175.09L171.40,186.16L171.47,193.39L171.54,199.97L171.61,197.23L171.68,176.85L171.75,176.88L171.82,176.16L171.89,176.72L171.96,175.40L172.03,166.79L172.10,169.50L172.17,174.90L172.24,186.31L172.31,193.82L172.38,200.64L172.45,197.79L172.52,176.85L172.59,176.88L172.66,176.16L172.73,176.72L172.80,175.37L172.88,166.49L172.95,169.28L173.02,174.85L173.09,186.34L173.16,193.89L173.23,200.74L173.30,197.88L173.37,176.85L173.44,176.88L173.51,176.15L173.58,176.72L173.65,175.25L173.72,165.13L173.79,168.31L173.86,174.66L173.93,186.19L174.00,193.49L174.07,200.12L174.14,197.35L174.21,176.85L174.28,176.88L174.35,176.12L174.42,176.72L174.49,174.98L174.56,162.18L174.63,166.21L174.70,174.24L174.77,186.15L174.84,193.39L174.91,199.96L174.98,197.22L175.05,176.85L175.12,176.88L175.19,176.12L175.26,176.72L175.33,174.96L175.40,161.86L175.47,165.98L175.54,174.19L175.61,186.00L175.68,192.96L175.75,199.29L175.82,196.65L175.90,176.85L175.97,176.88L176.04,176.08L176.11,176.72L176.18,174.55L176.25,157.30L176.32,162.73L176.39,173.54L176.46,186.06L176.53,193.13L176.60,199.55L176.67,196.87L176.74,176.85L176.81,176.88L176.88,176.12L176.95,176.72L177.02,174.99L177.09,162.27L177.16,166.27L177.23,174.25L177.30,185.60L177.37,191.89L177.44,197.61L177.51,195.22L177.58,176.85L177.65,176.88L177.72,176.11L177.79,176.72L177.86,174.85L177.93,160.69L178.00,165.14L178.07,174.03L178.14,186.23L178.21,193.59L178.28,200.27L178.35,197.48L178.42,176.85L178.49,176.88L178.56,176.13L178.63,176.72L178.70,175.10L178.78,163.47L178.85,167.13L178.92,174.42L178.99,185.93L179.06,192.77L179.13,198.99L179.20,196.40L179.27,176.85L179.34,176.88L179.41,176.12L179.48,176.72L179.55,174.92L179.62,161.50L179.69,165.72L179.76,174.14L179.83,186.17L179.90,193.43L179.97,200.02L180.04,197.27L180.11,176.85L180.18,176.88L180.25,176.11L180.32,176.72L180.39,174.81L180.46,160.28L180.53,164.85L180.60,173.97L180.67,186.42L180.74,194.10L180.81,201.08L180.88,198.16L180.95,176.85L181.02,176.88L181.09,176.12L181.16,176.72L181.23,174.95L181.30,161.82L181.37,165.95L181.44,174.19L181.51,186.20L181.58,193.52L181.65,200.17L181.72,197.39L181.80,176.85L181.87,176.88L181.94,176.10L182.01,176.72L182.08,174.76L182.15,159.70L182.22,164.44L182.29,173.88L182.36,185.63L182.43,191.98L182.50,197.75L182.57,195.35L182.64,176.85L182.71,176.88L182.78,176.10L182.85,176.72L182.92,174.74L182.99,159.43L183.06,164.24L183.13,173.85L183.20,185.90L183.27,192.69L183.34,198.86L183.41,196.28L183.48,176.85L183.55,176.88L183.62,176.10L183.69,176.72L183.76,174.74L183.83,159.45L183.90,164.26L183.97,173.85L184.04,185.77L184.11,192.36L184.18,198.34L184.25,195.84L184.32,176.85L184.39,176.88L184.46,176.13L184.53,176.72L184.60,175.03L184.68,162.67L184.75,166.56L184.82,174.31L184.89,185.17L184.96,190.74L185.03,195.80L185.10,193.68L185.17,176.85L185.24,176.88L185.31,176.14L185.38,176.72L185.45,175.19L185.52,164.44L185.59,167.82L185.66,174.56L185.73,185.07L185.80,190.45L185.87,195.34L185.94,193.30L186.01,176.85L186.08,176.88L186.15,176.16L186.22,176.72L186.29,175.34L186.36,166.17L186.43,169.05L186.50,174.81L186.57,185.19L186.64,190.78L186.71,195.86L186.78,193.74L186.85,176.85L186.92,176.88L186.99,176.14L187.06,176.72L187.13,175.17L187.20,164.23L187.27,167.67L187.34,174.53L187.41,184.81L187.48,189.76L187.55,194.26L187.62,192.38L187.70,176.85L187.77,176.88L187.84,176.15L187.91,176.72L187.98,175.30L188.05,165.66L188.12,168.69L188.19,174.74L188.26,185.54L188.33,191.74L188.40,197.37L188.47,195.02L188.54,176.85L188.61,176.88L188.68,176.13L188.75,176.72L188.82,175.08L188.89,163.26L188.96,166.98L189.03,174.39L189.10,184.76L189.17,189.62L189.24,194.04L189.31,192.19L189.38,176.85L189.45,176.88L189.52,176.07L189.59,176.72L189.66,174.47L189.73,156.47L189.80,162.13L189.87,173.42L189.94,185.08L190.01,190.48L190.08,195.39L190.15,193.34L190.22,176.85L190.29,176.88L190.36,176.07L190.43,176.72L190.50,174.45L190.57,156.20L190.65,161.94L190.72,173.38L190.79,185.14L190.86,190.64L190.93,195.64L191.00,193.55L191.07,176.85L191.14,176.88L191.21,176.08L191.28,176.72L191.35,174.58L191.42,157.65L191.49,162.97L191.56,173.59L191.63,185.02L191.70,190.33L191.77,195.15L191.84,193.14L191.91,176.85L191.98,176.88L192.05,176.07L192.12,176.72L192.19,174.49L192.26,156.63L192.33,162.25L192.40,173.45L192.47,185.02L192.54,190.33L192.61,195.16L192.68,193.14L192.75,176.85L192.82,176.88L192.89,176.09L192.96,176.72L193.03,174.68L193.10,158.81L193.17,163.80L193.24,173.76L193.31,185.11L193.38,190.56L193.45,195.52L193.53,193.45L193.60,176.85L193.67,176.88L193.74,176.10L193.81,176.72L193.88,174.79L193.95,160.06L194.02,164.69L194.09,173.93L194.16,185.06L194.23,190.44L194.30,195.33L194.37,193.29L194.44,176.85L194.51,176.88L194.58,176.09L194.65,176.72L194.72,174.65L194.79,158.50L194.86,163.58L194.93,173.71L195.00,185.37L195.07,191.27L195.14,196.63L195.21,194.39L195.28,176.85L195.35,176.88L195.42,176.06L195.49,176.72L195.56,174.36L195.63,155.19L195.70,161.22L195.77,173.24L195.84,184.53L195.91,189.00L195.98,193.07L196.05,191.37L196.12,176.85L196.19,176.88L196.26,176.08L196.33,176.72L196.40,174.51L196.47,156.94L196.55,162.47L196.62,173.49L196.69,184.87L196.76,189.93L196.83,194.52L196.90,192.61L196.97,176.85L197.04,176.88L197.11,176.07L197.18,176.72L197.25,174.43L197.32,155.98L197.39,161.78L197.46,173.35L197.53,184.66L197.60,189.34L197.67,193.60L197.74,191.82L197.81,176.85L197.88,176.88L197.95,176.09L198.02,176.72L198.09,174.64L198.16,158.30L198.23,163.44L198.30,173.68L198.37,184.90L198.44,190.01L198.51,194.65L198.58,192.71L198.65,176.85L198.72,176.88L198.79,176.07L198.86,176.72L198.93,174.51L199.00,156.86L199.07,162.41L199.14,173.48L199.21,184.98L199.28,190.23L199.35,194.99L199.43,193.01L199.50,176.85L199.57,176.88L199.64,176.08L199.71,176.72L199.78,174.59L199.85,157.74L199.92,163.04L199.99,173.60L200.06,184.85L200.13,189.86L200.20,194.42L200.27,192.52L200.34,176.85L200.41,176.88L200.48,176.08L200.55,176.72L200.62,174.52L200.69,156.97L200.76,162.49L200.83,173.49L200.90,185.09L200.97,190.52L201.04,195.46L201.11,193.40L201.18,176.85L201.25,176.88L201.32,176.07L201.39,176.72L201.46,174.46L201.53,156.35L201.60,162.05L201.67,173.41L201.74,185.59L201.81,191.87L201.88,197.58L201.95,195.20L202.02,176.85L202.09,176.88L202.16,176.12L202.23,176.72L202.30,174.99L202.38,162.23L202.45,166.24L202.52,174.25L202.59,185.68L202.66,192.11L202.73,197.96L202.80,195.52L202.87,176.85L202.94,176.88L203.01,176.12L203.08,176.72L203.15,174.98L203.22,162.09L203.29,166.14L203.36,174.23L203.43,185.64L203.50,192.01L203.57,197.79L203.64,195.38L203.71,176.85L203.78,176.88L203.85,176.14L203.92,176.72L203.99,175.20L204.06,164.56L204.13,167.91L204.20,174.58L204.27,186.42L204.34,194.11L204.41,201.10L204.48,198.18L204.55,176.85L204.62,176.88L204.69,176.14L204.76,176.72L204.83,175.13L204.90,163.84L204.97,167.39L205.04,174.48L205.11,186.63L205.18,194.68L205.25,202.00L205.32,198.94L205.40,176.85L205.47,176.88L205.54,176.12L205.61,176.72L205.68,174.96L205.75,161.96L205.82,166.05L205.89,174.21L205.96,185.94L206.03,192.80L206.10,199.03L206.17,196.43L206.24,176.85L206.31,176.88L206.38,176.12L206.45,176.72L206.52,175.01L206.59,162.42L206.66,166.38L206.73,174.27L206.80,186.44L206.87,194.17L206.94,201.19L207.01,198.26L207.08,176.85L207.15,176.88L207.22,176.13L207.29,176.72L207.36,175.09L207.43,163.32L207.50,167.02L207.57,174.40L207.64,186.87L207.71,195.30L207.78,202.98L207.85,199.77L207.92,176.85L207.99,176.88L208.06,176.13L208.13,176.72L208.20,175.01L208.28,162.51L208.35,166.44L208.42,174.29L208.49,186.30L208.56,193.79L208.63,200.59L208.70,197.75L208.77,176.85L208.84,176.88L208.91,176.13L208.98,176.72L209.05,175.03L209.12,162.73L209.19,166.60L209.26,174.32L209.33,185.99L209.40,192.95L209.47,199.28L209.54,196.64L209.61,176.85L209.68,176.88L209.75,176.13L209.82,176.72L209.89,175.04L209.96,162.79L210.03,166.64L210.10,174.33L210.17,185.80L210.24,192.42L210.31,198.44L210.38,195.93L210.45,176.85L210.52,176.88L210.59,176.11L210.66,176.72L210.73,174.89L210.80,161.15L210.87,165.47L210.94,174.09L211.01,185.66L211.08,192.06L211.15,197.87L211.22,195.44L211.30,176.85L211.37,176.88L211.44,176.13L211.51,176.72L211.58,175.09L211.65,163.40L211.72,167.08L211.79,174.41L211.86,185.67L211.93,192.08L212.00,197.91L212.07,195.48L212.14,176.85L212.21,176.88L212.28,176.11L212.35,176.72L212.42,174.81L212.49,160.27L212.56,164.85L212.63,173.97L212.70,185.54L212.77,191.72L212.84,197.33L212.91,194.99L212.98,176.85L213.05,176.88L213.12,176.14L213.19,176.72L213.26,175.12L213.33,163.72L213.40,167.31L213.47,174.46L213.54,185.76L213.61,192.31L213.68,198.27L213.75,195.78L213.82,176.85L213.89,176.88L213.96,176.12L214.03,176.72L214.10,174.92L214.18,161.47L214.25,165.70L214.32,174.14L214.39,185.45L214.46,191.47L214.53,196.95L214.60,194.66L214.67,176.85L214.74,176.88L214.81,176.11L214.88,176.72L214.95,174.85L215.02,160.67L215.09,165.13L215.16,174.02L215.23,185.37L215.30,191.28L215.37,196.65L215.44,194.41L215.51,176.85L215.58,176.88L215.65,176.11L215.72,176.72L215.79,174.84L215.86,160.56L215.93,165.05L216.00,174.01L216.07,185.15L216.14,190.66L216.21,195.68L216.28,193.59L216.35,176.85L216.42,176.88L216.49,176.12L216.56,176.72L216.63,174.95L216.70,161.78L216.77,165.92L216.84,174.18L216.91,185.34L216.98,191.18L217.05,196.48L217.12,194.27L217.20,176.85L217.27,176.88L217.34,176.10L217.41,176.72L217.48,174.80L217.55,160.15L217.62,164.76L217.69,173.95L217.76,185.14L217.83,190.65L217.90,195.66L217.97,193.57L218.04,176.85L218.11,176.88L218.18,176.10L218.25,176.72L218.32,174.71L218.39,159.11L218.46,164.02L218.53,173.80L218.60,185.30L218.67,191.07L218.74,196.32L218.81,194.13L218.88,176.85L218.95,176.88L219.02,176.10L219.09,176.72L219.16,174.72L219.23,159.28L219.30,164.14L219.37,173.82L219.44,185.56L219.51,191.79L219.58,197.46L219.65,195.09L219.72,176.85L219.79,176.88L219.86,176.08L219.93,176.72L220.00,174.52L220.07,157.07L220.15,162.56L220.22,173.51L220.29,185.42L220.36,191.40L220.43,196.83L220.50,194.56L220.57,176.85L220.64,176.88L220.71,176.10L220.78,176.72L220.85,174.75L220.92,159.54L220.99,164.32L221.06,173.86L221.13,185.45L221.20,191.48L221.27,196.96L221.34,194.67L221.41,176.85L221.48,176.88L221.55,176.14L221.62,176.72L221.69,175.17L221.76,164.30L221.83,167.72L221.90,174.54L221.97,185.42L222.04,191.39L222.11,196.82L222.18,194.55L222.25,176.85L222.32,176.88L222.39,176.12L222.46,176.72L222.53,174.93L222.60,161.58L222.67,165.78L222.74,174.15L222.81,185.41L222.88,191.38L222.95,196.80L223.03,194.54L223.10,176.85L223.17,176.88L223.24,176.12L223.31,176.72L223.38,174.94L223.45,161.65L223.52,165.83L223.59,174.16L223.66,185.43L223.73,191.44L223.80,196.89L223.87,194.62L223.94,176.85L224.01,176.88L224.08,176.07L224.15,176.72L224.22,174.46L224.29,156.30L224.36,162.01L224.43,173.40L224.50,185.45L224.57,191.47L224.64,196.95L224.71,194.67L224.78,176.85L224.85,176.88L224.92,176.07L224.99,176.72L225.06,174.46L225.13,156.40L225.20,162.08L225.27,173.41L225.34,185.56L225.41,191.77L225.48,197.41L225.55,195.06L225.62,176.85L225.69,176.88L225.76,176.07L225.83,176.72L225.90,174.43L225.97,156.05L226.05,161.83L226.12,173.36L226.19,185.03L226.26,190.35L226.33,195.18L226.40,193.16L226.47,176.85L226.54,176.88L226.61,176.08L226.68,176.72L226.75,174.52L226.82,156.97L226.89,162.49L226.96,173.49L227.03,185.45L227.10,191.48L227.17,196.96L227.24,194.67L227.31,176.85L227.38,176.88L227.45,176.09L227.52,176.72L227.59,174.65L227.66,158.51L227.73,163.59L227.80,173.71L227.87,185.16L227.94,190.71L228.01,195.75L228.08,193.65L228.15,176.85L228.22,176.88L228.29,176.12L228.36,176.72L228.43,174.93L228.50,161.57L228.57,165.77L228.64,174.15L228.71,184.99L228.78,190.25L228.85,195.03L228.93,193.03L229.00,176.85L229.07,176.88L229.14,176.11L229.21,176.72L229.28,174.85L229.35,160.69L229.42,165.14L229.49,174.02L229.56,185.05L229.63,190.40L229.70,195.27L229.77,193.24L229.84,176.85L229.91,176.88L229.98,176.12L230.05,176.72L230.12,174.92L230.19,161.51L230.26,165.73L230.33,174.14L230.40,185.01L230.47,190.29L230.54,195.09L230.61,193.09L230.68,176.85L230.75,176.88L230.82,176.09L230.89,176.72L230.96,174.68L231.03,158.85L231.10,163.83L231.17,173.76L231.24,185.19L231.31,190.78L231.38,195.87L231.45,193.75L231.52,176.85L231.59,176.88L231.66,176.10L231.73,176.72L231.80,174.79L231.88,159.99L231.95,164.65L232.02,173.93L232.09,184.98L232.16,190.23L232.23,194.99L232.30,193.00L232.37,176.85L232.44,176.88L232.51,176.09L232.58,176.72L232.65,174.62L232.72,158.18L232.79,163.35L232.86,173.67L232.93,185.33L233.00,191.15L233.07,196.45L233.14,194.24L233.21,176.85L233.28,176.88L233.35,176.11L233.42,176.72L233.49,174.84L233.56,160.54L233.63,165.04L233.70,174.00L233.77,184.85L233.84,189.85L233.91,194.41L233.98,192.51L234.05,176.85L234.12,176.88L234.19,176.10L234.26,176.72L234.33,174.80L234.40,160.10L234.47,164.72L234.54,173.94L234.61,184.46L234.68,188.81L234.75,192.76L234.82,191.11L234.90,176.85L234.97,176.88L235.04,176.13L235.11,176.72L235.18,175.03L235.25,162.72L235.32,166.60L235.39,174.32L235.46,184.73L235.53,189.55L235.60,193.93L235.67,192.10L235.74,176.85L235.81,176.88L235.88,176.07L235.95,176.72L236.02,174.41L236.09,155.75L236.16,161.62L236.23,173.32L236.30,184.39L236.37,188.63L236.44,192.48L236.51,190.87L236.58,176.85L236.65,176.88L236.72,176.07L236.79,176.72L236.86,174.48L236.93,156.54L237.00,162.18L237.07,173.43L237.14,184.74L237.21,189.56L237.28,193.94L237.35,192.11L237.42,176.85L237.49,176.88L237.56,176.08L237.63,176.72L237.70,174.53L237.78,157.15L237.85,162.62L237.92,173.52L237.99,184.85L238.06,189.87L238.13,194.44L238.20,192.53L238.27,176.85L238.34,176.88L238.41,176.06L238.48,176.72L238.55,174.36L238.62,155.22L238.69,161.24L238.76,173.24L238.83,184.64L238.90,189.30L238.97,193.53L239.04,191.76L239.11,176.85L239.18,176.88L239.25,176.05L239.32,176.72L239.39,174.29L239.46,154.42L239.53,160.67L239.60,173.13L239.67,184.08L239.74,187.79L239.81,191.16L239.88,189.76L239.95,176.85L240.02,176.88L240.09,176.07L240.16,176.72L240.23,174.50L240.30,156.79L240.37,162.36L240.44,173.47L240.51,184.08L240.58,187.80L240.65,191.17L240.73,189.76L240.80,176.85L240.87,176.88L240.94,176.09L241.01,176.72L241.08,174.71L241.15,159.10L241.22,164.01L241.29,173.80L241.36,184.51L241.43,188.96L241.50,193.00L241.57,191.31L241.64,176.85L241.71,176.88L241.78,176.14L241.85,176.72L241.92,175.12L241.99,163.68L242.06,167.28L242.13,174.45" stroke="#4169e1" stroke-width="0.95" fill="none" stroke-linejoin="round" />
<path d="M165.92,163.63L166.76,166.74L167.61,163.19L168.45,165.20L169.29,168.16L170.14,169.48L170.98,170.91L171.82,169.54L172.66,169.22L173.51,167.83L174.35,164.80L175.19,164.48L176.04,159.80L176.88,164.90L177.72,163.28L178.56,166.13L179.41,164.10L180.25,162.85L181.09,164.43L181.94,162.26L182.78,161.98L183.62,162.00L184.46,165.31L185.31,167.13L186.15,168.90L186.99,166.90L187.84,168.38L188.68,165.92L189.52,158.94L190.36,158.67L191.21,160.15L192.05,159.11L192.89,161.34L193.74,162.62L194.58,161.03L195.42,157.63L196.26,159.43L197.11,158.44L197.95,160.82L198.79,159.34L199.64,160.25L200.48,159.46L201.32,158.82L202.16,164.85L203.01,164.71L203.85,167.25L204.69,166.51L205.54,164.58L206.38,165.05L207.22,165.98L208.06,165.14L208.91,165.37L209.75,165.43L210.59,163.74L211.44,166.06L212.28,162.85L213.12,166.38L213.96,164.07L214.81,163.25L215.65,163.15L216.49,164.39L217.34,162.72L218.18,161.66L219.02,161.83L219.86,159.55L220.71,162.09L221.55,166.98L222.39,164.19L223.24,164.26L224.08,158.77L224.92,158.87L225.76,158.51L226.61,159.45L227.45,161.03L228.29,164.18L229.14,163.27L229.98,164.11L230.82,161.38L231.66,162.56L232.51,160.70L233.35,163.12L234.19,162.67L235.04,165.36L235.88,158.20L236.72,159.02L237.56,159.64L238.41,157.66L239.25,156.84L240.09,159.27L240.94,161.64L241.78,166.34L241.78,192.17L240.94,190.23L240.09,190.22L239.25,192.73L238.41,193.69L237.56,193.17L236.72,191.62L235.88,193.15L235.04,191.91L234.19,193.66L233.35,195.83L232.51,194.28L231.66,195.21L230.82,194.39L229.98,194.57L229.14,194.31L228.29,195.08L227.45,196.37L226.61,194.48L225.76,196.85L224.92,196.36L224.08,196.30L223.24,196.20L222.39,196.22L221.55,196.36L220.71,196.23L219.86,196.89L219.02,195.69L218.18,194.99L217.34,195.86L216.49,195.01L215.65,196.03L214.81,196.35L213.96,197.76L213.12,196.76L212.28,197.37L211.44,197.33L210.59,197.93L209.75,198.82L208.91,200.21L208.06,202.74L207.22,200.85L206.38,198.56L205.54,201.71L204.69,200.75L203.85,197.25L203.01,197.42L202.16,197.02L201.32,194.78L200.48,193.67L199.64,194.28L198.79,193.92L197.95,192.81L197.11,193.78L196.26,192.24L195.42,196.01L194.58,194.64L193.74,194.84L192.89,194.45L192.05,194.45L191.21,194.97L190.36,194.70L189.52,193.27L188.68,196.80L187.84,193.50L186.99,195.20L186.15,194.65L185.31,195.13L184.46,197.83L183.62,198.38L182.78,197.21L181.94,199.77L181.09,200.73L180.25,199.61L179.41,198.52L178.56,199.88L177.72,197.05L176.88,199.11L176.04,198.83L175.19,199.55L174.35,199.72L173.51,200.38L172.66,200.27L171.82,199.56L170.98,200.26L170.14,202.27L169.29,200.05L168.45,198.76L167.61,197.45L166.76,198.27L165.92,198.14Z" fill="#4169e1" opacity="0.9"/>
<path d="M165.50,182.30L165.88,182.30L166.27,182.30L166.65,182.30L167.04,182.30L167.42,182.30L167.81,182.30L168.19,182.30L168.58,182.30L168.96,182.30L169.35,182.30L169.73,182.30L170.12,182.30L170.50,182.30L170.89,182.30L171.27,182.30L171.66,182.30L172.04,182.30L172.43,182.30L172.81,182.30L173.20,182.30L173.58,182.30L173.97,182.30L174.35,182.30L174.74,182.30L175.12,182.30L175.51,182.30L175.89,182.30L176.28,182.30L176.66,182.30L177.05,182.30L177.43,182.30L177.81,182.30L178.20,182.30L178.58,182.30L178.97,182.30L179.35,182.30L179.74,182.30L180.12,182.30L180.51,182.30L180.89,182.30L181.28,182.30L181.66,182.30L182.05,182.30L182.43,182.30L182.82,182.30L183.20,182.30L183.59,182.30L183.97,182.30L184.36,182.30L184.74,182.30L185.13,182.30L185.51,182.30L185.90,182.30L186.28,182.30L186.67,182.30L187.05,182.30L187.44,182.30L187.82,182.30L188.21,182.30L188.59,182.30L188.97,182.30L189.36,182.30L189.74,182.30L190.13,182.30L190.51,182.30L190.90,182.30L191.28,182.30L191.67,182.30L192.05,182.30L192.44,182.30L192.82,182.30L193.21,182.30L193.59,182.30L193.98,182.30L194.36,182.30L194.75,182.30L195.13,182.30L195.52,182.30L195.90,182.30L196.29,182.30L196.67,182.30L197.06,182.30L197.44,182.30L197.83,182.30L198.21,182.30L198.60,182.30L198.98,182.30L199.37,182.30L199.75,182.30L200.14,182.30L200.52,182.30L200.90,182.30L201.29,182.30L201.67,182.30L202.06,182.30L202.44,182.30L202.83,182.30L203.21,182.30L203.60,182.30L203.98,182.30L204.37,182.30L204.75,182.30L205.14,182.30L205.52,182.30L205.91,182.30L206.29,182.30L206.68,182.30L207.06,182.30L207.45,182.30L207.83,182.30L208.22,182.30L208.60,182.30L208.99,182.30L209.37,182.30L209.76,182.30L210.14,182.30L210.53,182.30L210.91,182.30L211.30,182.30L211.68,182.30L212.06,182.30L212.45,182.30L212.83,182.30L213.22,182.30L213.60,182.30L213.99,182.30L214.37,182.30L214.76,182.30L215.14,182.30L215.53,182.30L215.91,182.30L216.30,182.30L216.68,182.30L217.07,182.30L217.45,182.30L217.84,182.30L218.22,182.30L218.61,182.30L218.99,182.30L219.38,182.30L219.76,182.30L220.15,182.30L220.53,182.30L220.92,182.30L221.30,182.30L221.69,182.30L222.07,182.30L222.46,182.30L222.84,182.30L223.23,182.30L223.61,182.30L223.99,182.30L224.38,182.30L224.76,182.30L225.15,182.30L225.53,182.30L225.92,182.30L226.30,182.30L226.69,182.30L227.07,182.30L227.46,182.30L227.84,182.30L228.23,182.30L228.61,182.30L229.00,182.30L229.38,182.30L229.77,182.30L230.15,182.30L230.54,182.30L230.92,182.30L231.31,182.30L231.69,182.30L232.08,182.30L232.46,182.30L232.85,182.30L233.23,182.30L233.62,182.30L234.00,182.30L234.39,182.30L234.77,182.30L235.15,182.30L235.54,182.30L235.92,182.30L236.31,182.30L236.69,182.30L237.08,182.30L237.46,182.30L237.85,182.30L238.23,182.30L238.62,182.30L239.00,182.30L239.39,182.30L239.77,182.30L240.16,182.30L240.54,182.30L240.93,182.30L241.31,182.30L241.70,182.30L242.08,182.30" stroke="#f0141e" stroke-width="1.1550000000000002" fill="none" stroke-linejoin="round" stroke-dasharray="2.864 1.238" />
<path d="M165.50,171.19L165.71,168.76L165.92,158.96L166.13,162.50L166.34,175.91L166.55,174.57L166.76,167.09L166.97,166.74L167.19,178.21L167.40,172.38L167.61,157.63L167.82,163.63L168.03,176.85L168.24,170.54L168.45,158.55L168.66,158.08L168.87,160.29L169.08,157.83L169.29,149.28L169.50,146.14L169.71,156.54L169.93,158.28L170.14,148.15L170.35,151.75L170.56,163.62L170.77,161.04L170.98,149.33L171.19,154.67L171.40,169.12L171.61,167.01L171.82,157.46L172.03,167.06L172.24,176.27L172.45,172.05L172.66,161.57L172.88,161.49L173.09,176.96L173.30,174.74L173.51,155.80L173.72,160.52L173.93,173.20L174.14,167.54L174.35,154.79L174.56,160.10L174.77,180.17L174.98,173.86L175.19,163.40L175.40,169.45L175.61,178.78L175.82,173.96L176.04,168.25L176.25,173.99L176.46,177.57L176.67,182.03L176.88,174.37L177.09,173.48L177.30,182.34L177.51,181.25L177.72,166.18L177.93,171.07L178.14,181.19L178.35,176.15L178.56,166.49L178.78,173.82L178.99,181.14L179.20,180.50L179.41,164.39L179.62,174.82L179.83,175.79L180.04,175.44L180.25,166.11L180.46,164.56L180.67,170.72L180.88,167.52L181.09,162.84L181.30,167.20L181.51,173.85L181.72,169.32L181.94,162.62L182.15,161.17L182.36,167.36L182.57,160.68L182.78,150.23L182.99,152.98L183.20,162.30L183.41,161.84L183.62,161.20L183.83,160.44L184.04,177.91L184.25,175.45L184.46,173.77L184.68,172.42L184.89,179.23L185.10,180.00L185.31,174.28L185.52,174.60L185.73,179.89L185.94,180.89L186.15,174.84L186.36,172.63L186.57,187.33L186.78,181.47L186.99,179.68L187.20,178.91L187.41,183.24L187.62,184.16L187.84,176.08L188.05,183.69L188.26,182.73L188.47,185.42L188.68,175.49L188.89,177.71L189.10,190.82L189.31,183.72L189.52,173.93L189.73,172.68L189.94,184.53L190.15,184.61L190.36,183.38L190.57,179.44L190.79,186.89L191.00,189.36L191.21,181.57L191.42,186.99L191.63,188.63L191.84,181.37L192.05,177.50L192.26,178.63L192.47,190.34L192.68,192.63L192.89,177.62L193.10,187.09L193.31,194.05L193.53,189.31L193.74,176.27L193.95,178.72L194.16,187.74L194.37,186.23L194.58,175.06L194.79,172.45L195.00,183.14L195.21,179.16L195.42,165.31L195.63,164.65L195.84,179.21L196.05,174.95L196.26,164.26L196.47,163.33L196.69,175.58L196.90,169.09L197.11,166.92L197.32,169.26L197.53,179.07L197.74,180.54L197.95,170.14L198.16,169.47L198.37,187.87L198.58,186.66L198.79,174.25L199.00,172.65L199.21,184.41L199.43,184.82L199.64,171.15L199.85,170.47L200.06,182.68L200.27,182.73L200.48,167.57L200.69,171.22L200.90,189.54L201.11,182.63L201.32,169.02L201.53,174.78L201.74,190.45L201.95,182.72L202.16,169.18L202.38,171.18L202.59,193.83L202.80,180.53L203.01,181.61L203.22,180.67L203.43,190.96L203.64,188.59L203.85,180.20L204.06,185.71L204.27,190.13L204.48,190.39L204.69,185.38L204.90,174.64L205.11,190.97L205.32,187.98L205.54,188.75L205.75,186.71L205.96,195.31L206.17,192.78L206.38,188.26L206.59,192.64L206.80,196.56L207.01,198.56L207.22,188.68L207.43,183.74L207.64,189.84L207.85,181.47L208.06,170.59L208.28,164.19L208.49,171.28L208.70,175.19L208.91,170.81L209.12,184.21L209.33,195.59L209.54,195.87L209.75,197.97L209.96,196.64L210.17,203.33L210.38,195.72L210.59,183.74L210.80,189.23L211.01,190.78L211.22,191.52L211.44,186.11L211.65,187.10L211.86,184.86L212.07,180.63L212.28,179.89L212.49,184.43L212.70,186.41L212.91,188.13L213.12,180.18L213.33,183.37L213.54,189.19L213.75,186.96L213.96,184.43L214.18,185.57L214.39,194.91L214.60,189.87L214.81,185.91L215.02,183.35L215.23,190.47L215.44,184.46L215.65,175.35L215.86,180.70L216.07,185.35L216.28,183.57L216.49,171.66L216.70,170.79L216.91,180.32L217.12,181.24L217.34,168.45L217.55,178.11L217.76,178.38L217.97,181.74L218.18,178.63L218.39,166.75L218.60,178.50L218.81,183.83L219.02,173.60L219.23,179.84L219.44,191.45L219.65,195.17L219.86,183.94L220.07,182.68L220.29,191.46L220.50,183.46L220.71,173.14L220.92,168.22L221.13,186.70L221.34,182.17L221.55,178.13L221.76,181.21L221.97,187.84L222.18,192.36L222.39,177.96L222.60,183.30L222.81,198.28L223.03,193.69L223.24,182.30L223.45,185.59L223.66,194.62L223.87,191.42L224.08,181.77L224.29,185.12L224.50,193.47L224.71,190.19L224.92,174.04L225.13,172.47L225.34,188.97L225.55,187.30L225.76,174.68L225.97,179.21L226.19,191.11L226.40,187.48L226.61,173.10L226.82,175.91L227.03,184.45L227.24,183.77L227.45,171.08L227.66,177.50L227.87,183.38L228.08,185.32L228.29,172.68L228.50,180.06L228.71,190.18L228.93,191.04L229.14,176.04L229.35,171.86L229.56,190.71L229.77,179.98L229.98,167.54L230.19,173.56L230.40,182.64L230.61,178.62L230.82,174.14L231.03,174.17L231.24,187.22L231.45,184.54L231.66,175.80L231.88,177.36L232.09,185.54L232.30,182.64L232.51,179.54L232.72,172.74L232.93,182.58L233.14,181.12L233.35,175.96L233.56,176.92L233.77,182.24L233.98,181.24L234.19,181.61L234.40,179.37L234.61,182.55L234.82,195.16L235.04,181.81L235.25,185.08L235.46,192.38L235.67,186.60L235.88,187.33L236.09,185.22L236.30,187.37L236.51,189.63L236.72,183.28L236.93,181.69L237.14,187.03L237.35,178.99L237.56,179.70L237.78,177.57L237.99,191.45L238.20,188.59L238.41,189.07L238.62,200.07L238.83,199.85L239.04,200.73L239.25,191.97L239.46,185.85L239.67,196.21L239.88,192.98L240.09,180.28L240.30,186.07L240.51,189.38L240.73,192.76L240.94,191.70L241.15,192.49L241.36,196.07L241.57,195.66L241.78,192.09L241.99,193.93" stroke="#000" stroke-width="0.6" fill="none" stroke-linejoin="round" stroke-dasharray="0.7 0.9" opacity="0.8"/>
<path d="M165.50,177.55L165.88,177.48L166.27,177.41L166.65,177.33L167.04,177.27L167.42,177.20L167.81,177.13L168.19,177.07L168.58,177.01L168.96,176.95L169.35,176.89L169.73,176.84L170.12,176.79L170.50,176.74L170.89,176.69L171.27,176.65L171.66,176.60L172.04,176.56L172.43,176.53L172.81,176.49L173.20,176.46L173.58,176.43L173.97,176.41L174.35,176.38L174.74,176.36L175.12,176.35L175.51,176.33L175.89,176.32L176.28,176.31L176.66,176.30L177.05,176.30L177.43,176.30L177.81,176.30L178.20,176.31L178.58,176.32L178.97,176.33L179.35,176.34L179.74,176.36L180.12,176.38L180.51,176.40L180.89,176.42L181.28,176.45L181.66,176.48L182.05,176.52L182.43,176.55L182.82,176.59L183.20,176.63L183.59,176.68L183.97,176.72L184.36,176.77L184.74,176.82L185.13,176.88L185.51,176.93L185.90,176.99L186.28,177.05L186.67,177.11L187.05,177.18L187.44,177.24L187.82,177.31L188.21,177.38L188.59,177.45L188.97,177.53L189.36,177.60L189.74,177.68L190.13,177.76L190.51,177.84L190.90,177.92L191.28,178.00L191.67,178.09L192.05,178.17L192.44,178.26L192.82,178.35L193.21,178.43L193.59,178.52L193.98,178.61L194.36,178.70L194.75,178.79L195.13,178.88L195.52,178.97L195.90,179.06L196.29,179.16L196.67,179.25L197.06,179.34L197.44,179.43L197.83,179.52L198.21,179.61L198.60,179.70L198.98,179.79L199.37,179.88L199.75,179.97L200.14,180.06L200.52,180.14L200.90,180.23L201.29,180.31L201.67,180.40L202.06,180.48L202.44,180.56L202.83,180.64L203.21,180.72L203.60,180.80L203.98,180.87L204.37,180.95L204.75,181.02L205.14,181.09L205.52,181.16L205.91,181.22L206.29,181.29L206.68,181.35L207.06,181.41L207.45,181.47L207.83,181.53L208.22,181.58L208.60,181.63L208.99,181.68L209.37,181.72L209.76,181.77L210.14,181.81L210.53,181.85L210.91,181.88L211.30,181.92L211.68,181.95L212.06,181.98L212.45,182.00L212.83,182.02L213.22,182.04L213.60,182.06L213.99,182.07L214.37,182.08L214.76,182.09L215.14,182.10L215.53,182.10L215.91,182.10L216.30,182.10L216.68,182.09L217.07,182.08L217.45,182.07L217.84,182.05L218.22,182.04L218.61,182.02L218.99,181.99L219.38,181.97L219.76,181.94L220.15,181.91L220.53,181.87L220.92,181.83L221.30,181.79L221.69,181.75L222.07,181.71L222.46,181.66L222.84,181.61L223.23,181.56L223.61,181.51L223.99,181.45L224.38,181.39L224.76,181.33L225.15,181.27L225.53,181.20L225.92,181.13L226.30,181.06L226.69,180.99L227.07,180.92L227.46,180.85L227.84,180.77L228.23,180.69L228.61,180.61L229.00,180.53L229.38,180.45L229.77,180.37L230.15,180.28L230.54,180.20L230.92,180.11L231.31,180.02L231.69,179.94L232.08,179.85L232.46,179.76L232.85,179.67L233.23,179.58L233.62,179.49L234.00,179.40L234.39,179.30L234.77,179.21L235.15,179.12L235.54,179.03L235.92,178.94L236.31,178.85L236.69,178.76L237.08,178.67L237.46,178.58L237.85,178.49L238.23,178.40L238.62,178.31L239.00,178.23L239.39,178.14L239.77,178.06L240.16,177.97L240.54,177.89L240.93,177.81L241.31,177.73L241.70,177.65L242.08,177.58" stroke="#1eff1e" stroke-width="1.1550000000000002" fill="none" stroke-linejoin="round" stroke-dasharray="4.954 1.238 0.774 1.238" />
</g>
<rect x="163.4" y="154.0" width="80.9" height="52.0" fill="none" stroke="#757575" stroke-width="0.9"/>
<path d="M165.50,206.0v1.5M177.30,206.0v1.5M189.10,206.0v1.5M200.90,206.0v1.5M212.70,206.0v1.5M224.50,206.0v1.5M236.30,206.0v1.5M163.4,166.20h-1.5M163.4,181.90h-1.5M163.4,197.60h-1.5M244.3,155.00h1.5M244.3,168.00h1.5M244.3,181.00h1.5M244.3,194.00h1.5" stroke="#444" stroke-width="0.6" fill="none"/>
<text x="165.50" y="213.90" font-size="5.12" text-anchor="middle" >0</text>
<text x="177.30" y="213.90" font-size="5.12" text-anchor="middle" >2</text>
<text x="189.10" y="213.90" font-size="5.12" text-anchor="middle" >4</text>
<text x="200.90" y="213.90" font-size="5.12" text-anchor="middle" >6</text>
<text x="212.70" y="213.90" font-size="5.12" text-anchor="middle" >8</text>
<text x="224.50" y="213.90" font-size="5.12" text-anchor="middle" >10</text>
<text x="236.30" y="213.90" font-size="5.12" text-anchor="middle" >12</text>
<text x="159.90" y="168.10" font-size="5.12" text-anchor="end" >40</text>
<text x="159.90" y="183.80" font-size="5.12" text-anchor="end" >30</text>
<text x="159.90" y="199.50" font-size="5.12" text-anchor="end" >20</text>
<text x="247.80" y="156.90" font-size="5.12" text-anchor="start" >15</text>
<text x="247.80" y="169.90" font-size="5.12" text-anchor="start" >10</text>
<text x="247.80" y="182.90" font-size="5.12" text-anchor="start" >5</text>
<text x="247.80" y="195.90" font-size="5.12" text-anchor="start" >0</text>
<text x="203.85" y="221.20" font-size="5.12" text-anchor="middle" >Rank of Recordings [per 7 days]</text>
<text transform="translate(150.40,180.50) rotate(-90)" font-size="5.12" text-anchor="middle">Active Power [MW]</text>
<text transform="translate(259.30,180.50) rotate(-90)" font-size="5.12" text-anchor="middle">Temperature [°C]</text>
<rect x="306.3" y="152.6" width="80.5" height="53.400000000000006" fill="#fff"/>
<path d="M308.20,152.6V206.0M320.02,152.6V206.0M331.84,152.6V206.0M343.66,152.6V206.0M355.48,152.6V206.0M367.30,152.6V206.0M379.12,152.6V206.0M306.3,163.90H386.8M306.3,178.40H386.8M306.3,192.90H386.8" stroke="#cfcfcf" stroke-width="0.5" fill="none"/>
<clipPath id="c7"><rect x="306.3" y="152.6" width="80.5" height="53.400000000000006"/></clipPath><g clip-path="url(#c7)">
<path d="M308.22,157.23L308.43,156.77L308.64,159.82L308.85,157.64L309.06,156.38L309.27,157.24L309.48,158.75L309.69,158.73L309.90,157.91L310.11,157.37L310.32,158.35L310.54,156.56L310.75,157.21L310.96,159.90L311.17,158.60L311.38,159.82L311.59,161.02L311.80,160.56L312.01,160.03L312.22,162.73L312.43,161.22L312.64,160.22L312.85,161.64L313.06,161.40L313.27,160.05L313.48,161.29L313.69,161.15L313.90,159.17L314.11,161.42L314.33,161.43L314.54,161.39L314.75,160.11L314.96,161.77L315.17,162.35L315.38,162.87L315.59,161.76L315.80,164.20L316.01,162.37L316.22,163.89L316.43,166.04L316.64,164.04L316.85,164.60L317.06,166.82L317.27,165.46L317.48,165.91L317.69,167.07L317.90,168.67L318.12,165.47L318.33,167.72L318.54,168.15L318.75,168.69L318.96,169.59L319.17,170.24L319.38,171.89L319.59,170.77L319.80,172.24L320.01,172.85L320.22,171.80L320.43,173.09L320.64,175.14L320.85,173.88L321.06,173.03L321.27,173.99L321.48,173.27L321.69,174.90L321.91,175.74L322.12,173.91L322.33,174.76L322.54,176.45L322.75,174.71L322.96,175.65L323.17,174.37L323.38,174.75L323.59,175.25L323.80,178.48L324.01,175.66L324.22,175.62L324.43,175.65L324.64,176.18L324.85,177.19L325.06,176.73L325.27,178.94L325.48,176.89L325.70,178.38L325.91,177.11L326.12,177.55L326.33,175.28L326.54,176.86L326.75,177.03L326.96,176.93L327.17,174.85L327.38,178.43L327.59,177.08L327.80,177.13L328.01,177.44L328.22,177.58L328.43,178.41L328.64,176.60L328.85,177.09L329.06,178.60L329.27,178.53L329.49,178.04L329.70,177.92L329.91,177.73L330.12,178.72L330.33,180.25L330.54,177.79L330.75,180.85L330.96,180.18L331.17,178.80L331.38,180.32L331.59,177.85L331.80,177.65L332.01,178.26L332.22,179.37L332.43,179.57L332.64,179.46L332.85,180.27L333.07,177.82L333.28,180.89L333.49,178.75L333.70,179.67L333.91,180.01L334.12,179.21L334.33,179.02L334.54,179.49L334.75,180.68L334.96,181.42L335.17,181.44L335.38,179.71L335.59,180.00L335.80,179.90L336.01,181.52L336.22,178.73L336.43,182.53L336.64,180.61L336.86,180.32L337.07,181.66L337.28,182.51L337.49,181.77L337.70,182.63L337.91,181.63L338.12,182.94L338.33,183.01L338.54,181.52L338.75,183.34L338.96,181.93L339.17,181.90L339.38,180.79L339.59,181.57L339.80,182.93L340.01,180.69L340.22,183.09L340.43,182.91L340.65,182.98L340.86,180.30L341.07,182.86L341.28,183.88L341.49,182.42L341.70,183.56L341.91,180.89L342.12,184.54L342.33,183.17L342.54,185.09L342.75,182.13L342.96,185.18L343.17,184.18L343.38,185.45L343.59,183.53L343.80,183.96L344.01,187.30L344.22,183.86L344.44,184.07L344.65,184.63L344.86,183.84L345.07,186.45L345.28,187.13L345.49,184.27L345.70,182.88L345.91,185.99L346.12,185.71L346.33,185.17L346.54,185.34L346.75,182.81L346.96,183.40L347.17,181.80L347.38,181.55L347.59,184.09L347.80,181.99L348.01,185.25L348.23,182.62L348.44,181.69L348.65,183.24L348.86,184.28L349.07,182.67L349.28,180.61L349.49,182.33L349.70,183.37L349.91,181.13L350.12,180.70L350.33,182.65L350.54,181.54L350.75,180.01L350.96,180.73L351.17,180.19L351.38,181.29L351.59,180.98L351.80,182.06L352.02,181.45L352.23,178.74L352.44,180.89L352.65,181.35L352.86,180.74L353.07,181.29L353.28,179.38L353.49,178.81L353.70,180.86L353.91,178.47L354.12,177.11L354.33,180.66L354.54,178.50L354.75,178.82L354.96,177.42L355.17,177.34L355.38,177.38L355.59,178.13L355.81,178.81L356.02,175.60L356.23,178.93L356.44,176.56L356.65,176.53L356.86,178.37L357.07,177.35L357.28,175.52L357.49,179.24L357.70,175.93L357.91,176.85L358.12,176.44L358.33,177.48L358.54,174.99L358.75,176.32L358.96,173.96L359.17,175.74L359.38,173.23L359.60,173.34L359.81,175.58L360.02,173.42L360.23,172.83L360.44,174.92L360.65,172.42L360.86,170.72L361.07,172.14L361.28,169.60L361.49,171.89L361.70,171.63L361.91,169.24L362.12,168.83L362.33,169.40L362.54,168.86L362.75,167.37L362.96,168.79L363.17,165.45L363.39,166.94L363.60,166.63L363.81,166.43L364.02,166.74L364.23,164.63L364.44,166.36L364.65,165.13L364.86,164.24L365.07,163.09L365.28,163.02L365.49,164.50L365.70,162.71L365.91,163.60L366.12,164.47L366.33,164.15L366.54,164.47L366.75,162.07L366.96,160.88L367.18,163.01L367.39,161.92L367.60,162.61L367.81,161.13L368.02,162.28L368.23,161.66L368.44,161.31L368.65,160.85L368.86,160.52L369.07,160.12L369.28,159.90L369.49,160.57L369.70,158.63L369.91,161.00L370.12,158.61L370.33,159.58L370.54,158.07L370.75,157.61L370.97,159.94L371.18,156.97L371.39,155.59L371.60,155.95L371.81,156.12L372.02,158.68L372.23,156.16L372.44,156.82L372.65,154.67L372.86,156.29L373.07,156.73L373.28,158.09L373.49,155.30L373.70,156.86L373.91,156.59L374.12,155.14L374.33,156.36L374.54,156.15L374.76,153.86L374.97,157.50L375.18,157.86L375.39,157.15L375.60,156.55L375.81,160.20L376.02,159.23L376.23,160.51L376.44,161.38L376.65,159.59L376.86,161.54L377.07,160.75L377.28,161.38L377.49,161.15L377.70,161.04L377.91,162.11L378.12,160.76L378.33,160.23L378.55,159.88L378.76,160.38L378.97,158.75L379.18,158.99L379.39,159.30L379.60,158.50L379.81,158.80L380.02,158.02L380.23,160.81L380.44,159.83L380.65,158.61L380.86,157.82L381.07,160.18L381.28,157.83L381.49,157.21L381.70,157.56L381.91,157.47L382.12,158.63L382.34,156.90L382.55,159.23L382.76,155.71L382.97,157.42L383.18,155.38L383.39,158.51L383.60,155.95L383.81,156.16L384.02,157.35L384.23,157.82L384.44,155.19L384.65,156.15L384.65,189.24L384.44,190.16L384.23,190.60L384.02,189.79L383.81,189.88L383.60,190.33L383.39,189.98L383.18,190.04L382.97,189.23L382.76,191.22L382.55,190.85L382.34,190.96L382.12,190.25L381.91,190.11L381.70,190.48L381.49,190.72L381.28,190.48L381.07,190.72L380.86,191.43L380.65,190.63L380.44,191.10L380.23,190.21L380.02,190.75L379.81,191.07L379.60,190.41L379.39,190.41L379.18,191.35L378.97,191.17L378.76,190.93L378.55,192.10L378.33,191.80L378.12,192.72L377.91,192.43L377.70,190.92L377.49,190.54L377.28,191.00L377.07,191.61L376.86,191.92L376.65,191.46L376.44,191.82L376.23,192.94L376.02,191.59L375.81,193.40L375.60,192.98L375.39,193.01L375.18,192.74L374.97,193.73L374.76,193.86L374.54,192.41L374.33,193.81L374.12,192.94L373.91,192.86L373.70,193.65L373.49,194.91L373.28,194.43L373.07,193.22L372.86,193.17L372.65,193.17L372.44,195.30L372.23,193.70L372.02,193.81L371.81,194.44L371.60,194.38L371.39,193.34L371.18,194.61L370.97,194.27L370.75,195.54L370.54,194.63L370.33,194.58L370.12,195.14L369.91,194.41L369.70,196.10L369.49,196.18L369.28,197.13L369.07,196.72L368.86,194.52L368.65,196.41L368.44,196.34L368.23,196.27L368.02,196.85L367.81,196.48L367.60,196.11L367.39,196.80L367.18,196.92L366.96,195.50L366.75,198.10L366.54,196.47L366.33,196.85L366.12,196.91L365.91,196.45L365.70,197.42L365.49,197.96L365.28,196.77L365.07,199.19L364.86,197.90L364.65,196.76L364.44,196.85L364.23,197.10L364.02,197.25L363.81,198.57L363.60,197.54L363.39,197.92L363.17,197.77L362.96,199.21L362.75,198.42L362.54,198.03L362.33,198.55L362.12,198.08L361.91,199.13L361.70,197.63L361.49,197.88L361.28,197.82L361.07,198.75L360.86,199.44L360.65,200.32L360.44,199.28L360.23,198.66L360.02,199.15L359.81,198.47L359.60,199.35L359.38,199.55L359.17,199.26L358.96,198.95L358.75,199.25L358.54,199.37L358.33,199.75L358.12,200.16L357.91,201.00L357.70,199.17L357.49,200.52L357.28,199.81L357.07,200.07L356.86,199.16L356.65,199.82L356.44,200.33L356.23,200.41L356.02,201.48L355.81,199.46L355.59,201.94L355.38,201.20L355.17,201.45L354.96,201.27L354.75,202.01L354.54,201.39L354.33,201.50L354.12,201.56L353.91,201.48L353.70,200.35L353.49,201.97L353.28,201.21L353.07,200.96L352.86,200.82L352.65,200.69L352.44,201.79L352.23,202.11L352.02,201.55L351.80,200.78L351.59,202.44L351.38,200.79L351.17,202.30L350.96,201.92L350.75,201.78L350.54,201.44L350.33,201.70L350.12,201.37L349.91,203.39L349.70,202.51L349.49,200.91L349.28,201.94L349.07,200.12L348.86,202.47L348.65,202.83L348.44,201.85L348.23,202.28L348.01,202.73L347.80,201.26L347.59,202.51L347.38,202.07L347.17,203.16L346.96,202.77L346.75,203.14L346.54,203.04L346.33,202.65L346.12,202.37L345.91,202.89L345.70,203.65L345.49,203.86L345.28,202.26L345.07,204.04L344.86,202.72L344.65,203.41L344.44,203.46L344.22,203.20L344.01,203.71L343.80,204.03L343.59,203.29L343.38,204.35L343.17,203.67L342.96,203.26L342.75,203.02L342.54,204.48L342.33,203.11L342.12,203.10L341.91,201.71L341.70,202.66L341.49,204.49L341.28,202.28L341.07,203.40L340.86,202.62L340.65,204.25L340.43,203.11L340.22,203.52L340.01,202.58L339.80,202.12L339.59,203.81L339.38,203.30L339.17,201.81L338.96,202.28L338.75,202.86L338.54,203.43L338.33,201.48L338.12,203.53L337.91,201.36L337.70,201.57L337.49,201.77L337.28,202.18L337.07,202.21L336.86,200.97L336.64,202.11L336.43,201.26L336.22,201.53L336.01,201.74L335.80,201.95L335.59,201.48L335.38,202.83L335.17,202.19L334.96,201.60L334.75,200.89L334.54,201.58L334.33,201.08L334.12,202.88L333.91,201.61L333.70,202.53L333.49,201.85L333.28,201.84L333.07,201.98L332.85,201.97L332.64,202.46L332.43,201.03L332.22,200.92L332.01,201.50L331.80,200.70L331.59,200.48L331.38,201.17L331.17,200.52L330.96,201.02L330.75,202.23L330.54,200.45L330.33,200.78L330.12,201.12L329.91,198.96L329.70,200.00L329.49,200.57L329.27,199.37L329.06,199.42L328.85,200.96L328.64,200.62L328.43,198.92L328.22,200.11L328.01,199.78L327.80,199.60L327.59,199.28L327.38,200.44L327.17,199.76L326.96,200.64L326.75,200.10L326.54,198.73L326.33,198.21L326.12,199.46L325.91,199.97L325.70,200.06L325.48,198.42L325.27,199.25L325.06,198.80L324.85,199.44L324.64,198.82L324.43,197.71L324.22,199.09L324.01,198.04L323.80,197.55L323.59,198.02L323.38,197.88L323.17,198.65L322.96,197.45L322.75,197.81L322.54,198.04L322.33,197.47L322.12,197.04L321.91,196.68L321.69,197.47L321.48,196.85L321.27,195.81L321.06,197.14L320.85,198.74L320.64,196.97L320.43,196.93L320.22,195.82L320.01,196.50L319.80,196.10L319.59,197.24L319.38,197.44L319.17,196.45L318.96,196.49L318.75,195.92L318.54,195.09L318.33,196.13L318.12,196.69L317.90,194.84L317.69,195.26L317.48,194.85L317.27,195.44L317.06,195.17L316.85,194.55L316.64,193.99L316.43,194.88L316.22,193.33L316.01,193.13L315.80,193.83L315.59,192.61L315.38,193.16L315.17,192.91L314.96,192.44L314.75,192.62L314.54,193.93L314.33,193.91L314.11,192.28L313.90,191.97L313.69,193.37L313.48,193.12L313.27,192.27L313.06,192.45L312.85,192.55L312.64,191.03L312.43,191.78L312.22,192.08L312.01,191.63L311.80,191.69L311.59,191.94L311.38,190.66L311.17,191.10L310.96,190.43L310.75,191.23L310.54,190.49L310.32,190.54L310.11,189.21L309.90,191.33L309.69,190.54L309.48,189.56L309.27,189.65L309.06,189.31L308.85,189.39L308.64,189.41L308.43,189.42L308.22,188.27Z" fill="#4169e1" stroke="#4169e1" stroke-width="0.4" stroke-linejoin="round"/>
<path d="M308.20,177.31L308.59,177.37L308.97,177.44L309.36,177.51L309.74,177.59L310.13,177.67L310.51,177.77L310.90,177.87L311.28,177.97L311.67,178.08L312.05,178.20L312.44,178.33L312.83,178.46L313.21,178.60L313.60,178.74L313.98,178.89L314.37,179.04L314.75,179.20L315.14,179.36L315.52,179.53L315.91,179.70L316.30,179.88L316.68,180.07L317.07,180.25L317.45,180.45L317.84,180.64L318.22,180.84L318.61,181.04L318.99,181.25L319.38,181.46L319.76,181.67L320.15,181.88L320.54,182.10L320.92,182.32L321.31,182.54L321.69,182.77L322.08,182.99L322.46,183.22L322.85,183.45L323.23,183.67L323.62,183.90L324.00,184.13L324.39,184.36L324.78,184.59L325.16,184.82L325.55,185.05L325.93,185.28L326.32,185.51L326.70,185.74L327.09,185.96L327.47,186.19L327.86,186.41L328.25,186.63L328.63,186.85L329.02,187.06L329.40,187.27L329.79,187.48L330.17,187.69L330.56,187.90L330.94,188.10L331.33,188.29L331.71,188.49L332.10,188.67L332.49,188.86L332.87,189.04L333.26,189.21L333.64,189.38L334.03,189.55L334.41,189.71L334.80,189.87L335.18,190.02L335.57,190.16L335.96,190.30L336.34,190.43L336.73,190.56L337.11,190.68L337.50,190.79L337.88,190.90L338.27,191.00L338.65,191.10L339.04,191.18L339.42,191.27L339.81,191.34L340.20,191.41L340.58,191.47L340.97,191.52L341.35,191.57L341.74,191.61L342.12,191.64L342.51,191.67L342.89,191.69L343.28,191.70L343.66,191.70L344.05,191.70L344.44,191.69L344.82,191.67L345.21,191.64L345.59,191.61L345.98,191.57L346.36,191.52L346.75,191.47L347.13,191.41L347.52,191.34L347.91,191.26L348.29,191.18L348.68,191.09L349.06,191.00L349.45,190.90L349.83,190.79L350.22,190.68L350.60,190.55L350.99,190.43L351.37,190.29L351.76,190.16L352.15,190.01L352.53,189.86L352.92,189.71L353.30,189.55L353.69,189.38L354.07,189.21L354.46,189.03L354.84,188.85L355.23,188.67L355.61,188.48L356.00,188.29L356.39,188.09L356.77,187.89L357.16,187.69L357.54,187.48L357.93,187.27L358.31,187.06L358.70,186.84L359.08,186.62L359.47,186.40L359.86,186.18L360.24,185.96L360.63,185.73L361.01,185.50L361.40,185.28L361.78,185.05L362.17,184.82L362.55,184.59L362.94,184.36L363.32,184.13L363.71,183.90L364.10,183.67L364.48,183.44L364.87,183.21L365.25,182.99L365.64,182.76L366.02,182.54L366.41,182.32L366.79,182.10L367.18,181.88L367.56,181.66L367.95,181.45L368.34,181.24L368.72,181.04L369.11,180.83L369.49,180.64L369.88,180.44L370.26,180.25L370.65,180.06L371.03,179.88L371.42,179.70L371.81,179.53L372.19,179.36L372.58,179.19L372.96,179.04L373.35,178.88L373.73,178.73L374.12,178.59L374.50,178.46L374.89,178.32L375.27,178.20L375.66,178.08L376.05,177.97L376.43,177.86L376.82,177.76L377.20,177.67L377.59,177.59L377.97,177.51L378.36,177.43L378.74,177.37L379.13,177.31L379.51,177.26L379.90,177.22L380.29,177.18L380.67,177.15L381.06,177.13L381.44,177.11L381.83,177.10L382.21,177.10L382.60,177.11L382.98,177.12L383.37,177.14L383.76,177.17L384.14,177.20L384.53,177.25L384.91,177.30" stroke="#f0141e" stroke-width="1.1550000000000002" fill="none" stroke-linejoin="round" stroke-dasharray="2.864 1.238" />
<path d="M308.20,187.18L308.31,175.85L308.41,185.12L308.52,175.42L308.62,185.93L308.73,173.44L308.83,190.51L308.94,176.47L309.04,189.32L309.15,177.35L309.26,192.33L309.36,177.36L309.47,193.80L309.57,181.12L309.68,196.98L309.78,183.50L309.89,198.77L309.99,184.04L310.10,195.20L310.21,181.67L310.31,194.13L310.42,180.59L310.52,190.24L310.63,175.92L310.73,189.66L310.84,177.85L310.94,189.68L311.05,174.77L311.15,194.17L311.26,181.70L311.37,196.06L311.47,189.06L311.58,197.84L311.68,185.80L311.79,193.97L311.89,182.09L312.00,193.94L312.10,178.10L312.21,188.64L312.32,175.77L312.42,187.32L312.53,176.91L312.63,188.53L312.74,175.00L312.84,186.99L312.95,177.60L313.05,192.34L313.16,179.05L313.27,192.82L313.37,179.53L313.48,193.78L313.58,183.63L313.69,196.14L313.79,183.99L313.90,196.73L314.00,184.44L314.11,198.77L314.22,188.26L314.32,198.10L314.43,187.41L314.53,195.91L314.64,183.01L314.74,197.95L314.85,181.13L314.95,193.14L315.06,182.05L315.17,191.99L315.27,179.53L315.38,197.48L315.48,181.63L315.59,195.27L315.69,183.16L315.80,194.61L315.90,184.86L316.01,196.25L316.12,183.53L316.22,194.62L316.33,180.31L316.43,193.90L316.54,180.43L316.64,189.50L316.75,178.44L316.85,189.68L316.96,181.43L317.06,191.52L317.17,179.07L317.28,189.98L317.38,179.03L317.49,188.31L317.59,178.05L317.70,189.76L317.80,177.90L317.91,188.54L318.01,178.76L318.12,187.85L318.23,177.26L318.33,189.54L318.44,178.12L318.54,189.09L318.65,176.79L318.75,188.75L318.86,178.42L318.96,189.47L319.07,179.64L319.18,189.68L319.28,181.39L319.39,198.15L319.49,183.27L319.60,199.30L319.70,192.57L319.81,204.31L319.91,195.56L320.02,202.16L320.13,192.68L320.23,205.18L320.34,187.33L320.44,196.63L320.55,178.11L320.65,191.25L320.76,180.05L320.86,186.26L320.97,176.22L321.08,188.23L321.18,181.57L321.29,189.67L321.39,178.21L321.50,196.47L321.60,181.28L321.71,195.25L321.81,179.01L321.92,191.90L322.03,180.76L322.13,187.50L322.24,176.03L322.34,186.80L322.45,172.52L322.55,184.05L322.66,174.86L322.76,178.01L322.87,170.81L322.97,180.94L323.08,168.30L323.19,181.36L323.29,170.31L323.40,178.93L323.50,168.70L323.61,178.11L323.71,166.47L323.82,179.78L323.92,168.49L324.03,178.88L324.14,172.11L324.24,180.24L324.35,172.53L324.45,179.41L324.56,170.85L324.66,181.81L324.77,174.51L324.87,182.06L324.98,173.84L325.09,181.06L325.19,172.57L325.30,183.25L325.40,170.38L325.51,180.11L325.61,172.48L325.72,178.83L325.82,171.56L325.93,180.91L326.04,170.56L326.14,181.36L326.25,171.30L326.35,180.14L326.46,167.74L326.56,177.12L326.67,170.61L326.77,176.78L326.88,170.17L326.99,178.98L327.09,168.88L327.20,179.54L327.30,166.74L327.41,180.06L327.51,173.22L327.62,178.43L327.72,171.90L327.83,181.10L327.94,176.21L328.04,178.81L328.15,169.66L328.25,179.08L328.36,169.32L328.46,177.52L328.57,171.09L328.67,178.96L328.78,172.57L328.88,181.53L328.99,169.91L329.10,180.63L329.20,174.24L329.31,180.81L329.41,171.92L329.52,181.46L329.62,168.55L329.73,177.86L329.83,168.87L329.94,176.16L330.05,160.88L330.15,175.51L330.26,163.31L330.36,172.58L330.47,163.84L330.57,177.28L330.68,167.16L330.78,176.53L330.89,166.50L331.00,178.56L331.10,169.84L331.21,175.13L331.31,164.91L331.42,174.87L331.52,166.40L331.63,173.47L331.73,164.11L331.84,172.11L331.95,166.43L332.05,174.05L332.16,165.84L332.26,177.73L332.37,166.91L332.47,177.38L332.58,169.24L332.68,177.48L332.79,171.08L332.90,178.03L333.00,167.57L333.11,177.01L333.21,166.00L333.32,179.08L333.42,170.03L333.53,176.42L333.63,166.66L333.74,173.35L333.85,166.63L333.95,178.76L334.06,166.64L334.16,179.02L334.27,170.79L334.37,173.28L334.48,167.66L334.58,176.19L334.69,166.70L334.79,173.60L334.90,166.36L335.01,173.78L335.11,167.81L335.22,177.57L335.32,163.12L335.43,172.21L335.53,164.18L335.64,173.86L335.74,164.35L335.85,175.06L335.96,161.75L336.06,172.63L336.17,163.52L336.27,173.33L336.38,163.02L336.48,173.68L336.59,164.20L336.69,177.26L336.80,165.37L336.91,172.30L337.01,167.89L337.12,177.15L337.22,166.55L337.33,176.43L337.43,168.10L337.54,181.80L337.64,169.11L337.75,181.59L337.86,171.64L337.96,178.81L338.07,170.89L338.17,178.49L338.28,165.14L338.38,178.63L338.49,169.32L338.59,181.50L338.70,171.24L338.81,180.29L338.91,168.44L339.02,177.06L339.12,165.15L339.23,172.28L339.33,163.12L339.44,172.84L339.54,163.64L339.65,170.84L339.76,163.29L339.86,172.46L339.97,164.40L340.07,177.39L340.18,167.11L340.28,180.45L340.39,164.71L340.49,175.99L340.60,168.97L340.70,180.01L340.81,167.97L340.92,181.22L341.02,169.94L341.13,176.77L341.23,168.19L341.34,177.80L341.44,164.83L341.55,176.37L341.65,163.44L341.76,173.09L341.87,163.48L341.97,170.38L342.08,163.47L342.18,168.08L342.29,163.05L342.39,168.30L342.50,164.36L342.60,171.13L342.71,165.03L342.82,174.92L342.92,163.17L343.03,171.95L343.13,166.09L343.24,171.59L343.34,165.81L343.45,173.94L343.55,164.41L343.66,173.79L343.77,168.86L343.87,173.01L343.98,165.98L344.08,177.69L344.19,169.86L344.29,180.89L344.40,171.23L344.50,177.53L344.61,169.15L344.72,178.69L344.82,166.52L344.93,170.41L345.03,162.24L345.14,170.37L345.24,156.43L345.35,166.90L345.45,158.52L345.56,169.92L345.67,163.33L345.77,173.51L345.88,164.32L345.98,174.53L346.09,165.00L346.19,174.42L346.30,165.53L346.40,174.89L346.51,167.46L346.62,178.72L346.72,166.41L346.83,176.47L346.93,166.47L347.04,175.22L347.14,167.52L347.25,176.91L347.35,166.08L347.46,175.52L347.56,167.85L347.67,175.78L347.78,168.05L347.88,179.30L347.99,168.62L348.09,175.62L348.20,171.35L348.30,178.46L348.41,169.44L348.51,179.29L348.62,174.24L348.73,179.00L348.83,172.80L348.94,182.84L349.04,173.35L349.15,181.33L349.25,172.80L349.36,182.55L349.46,170.59L349.57,183.35L349.68,174.12L349.78,179.63L349.89,169.26L349.99,176.79L350.10,169.82L350.20,174.51L350.31,165.36L350.41,172.32L350.52,168.02L350.63,174.95L350.73,166.38L350.84,178.04L350.94,167.14L351.05,173.44L351.15,166.74L351.26,176.61L351.36,164.56L351.47,173.97L351.58,164.83L351.68,177.61L351.79,167.33L351.89,175.32L352.00,169.17L352.10,179.14L352.21,167.45L352.31,176.12L352.42,171.85L352.52,184.27L352.63,173.43L352.74,182.58L352.84,172.06L352.95,180.47L353.05,172.55L353.16,183.11L353.26,172.42L353.37,183.90L353.47,173.05L353.58,183.59L353.69,168.59L353.79,181.21L353.90,174.41L354.00,183.61L354.11,172.55L354.21,183.22L354.32,171.45L354.42,180.19L354.53,167.52L354.64,178.99L354.74,170.38L354.85,181.24L354.95,172.25L355.06,180.60L355.16,172.24L355.27,180.08L355.37,174.16L355.48,180.90L355.59,172.48L355.69,181.37L355.80,173.95L355.90,180.54L356.01,166.01L356.11,172.84L356.22,164.33L356.32,172.24L356.43,164.62L356.54,173.86L356.64,164.84L356.75,171.40L356.85,162.98L356.96,173.30L357.06,163.91L357.17,171.65L357.27,162.19L357.38,172.76L357.49,157.96L357.59,168.70L357.70,158.57L357.80,164.53L357.91,155.20L358.01,166.27L358.12,156.03L358.22,168.84L358.33,159.65L358.44,173.00L358.54,158.93L358.65,174.93L358.75,162.29L358.86,175.25L358.96,166.95L359.07,175.94L359.17,166.63L359.28,176.33L359.38,165.72L359.49,178.23L359.60,168.45L359.70,180.74L359.81,169.30L359.91,179.84L360.02,171.59L360.12,180.50L360.23,171.13L360.33,180.25L360.44,170.65L360.55,181.85L360.65,173.47L360.76,181.62L360.86,178.01L360.97,187.43L361.07,176.13L361.18,194.36L361.28,182.62L361.39,190.13L361.50,184.28L361.60,185.34L361.71,183.10L361.81,183.77L361.92,172.19L362.02,180.94L362.13,172.10L362.23,179.83L362.34,172.27L362.45,178.60L362.55,172.33L362.66,180.21L362.76,168.53L362.87,181.44L362.97,170.59L363.08,178.91L363.18,171.68L363.29,176.29L363.40,167.60L363.50,179.46L363.61,166.88L363.71,176.98L363.82,167.00L363.92,175.08L364.03,167.12L364.13,173.92L364.24,167.63L364.34,174.51L364.45,167.16L364.56,175.36L364.66,168.55L364.77,178.12L364.87,169.83L364.98,176.53L365.08,166.45L365.19,174.15L365.29,166.03L365.40,177.57L365.51,168.77L365.61,177.61L365.72,168.74L365.82,176.30L365.93,167.71L366.03,181.00L366.14,171.24L366.24,178.04L366.35,170.17L366.46,181.28L366.56,168.92L366.67,181.65L366.77,171.29L366.88,181.60L366.98,173.82L367.09,179.01L367.19,172.11L367.30,181.09L367.41,170.84L367.51,178.29L367.62,168.85L367.72,178.64L367.83,170.68L367.93,178.09L368.04,169.78L368.14,177.27L368.25,167.23L368.36,179.87L368.46,167.70L368.57,183.15L368.67,174.61L368.78,188.07L368.88,179.37L368.99,188.82L369.09,177.83L369.20,192.58L369.31,177.43L369.41,188.87L369.52,176.82L369.62,188.30L369.73,180.06L369.83,190.96L369.94,175.16L370.04,189.55L370.15,182.14L370.25,191.23L370.36,182.25L370.47,196.82L370.57,187.02L370.68,197.44L370.78,182.49L370.89,192.82L370.99,179.61L371.10,187.48L371.20,172.95L371.31,186.69L371.42,170.60L371.52,182.42L371.63,171.73L371.73,182.30L371.84,170.28L371.94,182.41L372.05,173.16L372.15,183.50L372.26,167.94L372.37,185.20L372.47,174.89L372.58,183.64L372.68,171.68L372.79,184.08L372.89,175.37L373.00,184.08L373.10,175.75L373.21,188.83L373.32,176.95L373.42,189.47L373.53,177.82L373.63,191.83L373.74,182.69L373.84,194.66L373.95,185.13L374.05,196.30L374.16,187.87L374.27,199.55L374.37,182.30L374.48,196.90L374.58,181.56L374.69,192.34L374.79,179.97L374.90,191.93L375.00,176.64L375.11,195.93L375.22,178.19L375.32,188.61L375.43,180.54L375.53,193.43L375.64,180.03L375.74,190.75L375.85,183.39L375.95,193.55L376.06,181.28L376.16,192.27L376.27,180.12L376.38,191.60L376.48,180.70L376.59,192.46L376.69,181.16L376.80,193.99L376.90,180.73L377.01,193.71L377.11,183.08L377.22,191.40L377.33,181.78L377.43,196.74L377.54,179.62L377.64,195.11L377.75,179.58L377.85,192.57L377.96,178.59L378.06,190.94L378.17,178.93L378.28,190.59L378.38,174.57L378.49,195.33L378.59,179.36L378.70,192.63L378.80,183.21L378.91,197.55L379.01,179.21L379.12,196.73L379.23,179.30L379.33,194.12L379.44,180.77L379.54,191.80L379.65,177.20L379.75,188.17L379.86,175.58L379.96,188.84L380.07,175.83L380.18,187.22L380.28,175.48L380.39,192.21L380.49,179.07L380.60,191.15L380.70,180.20L380.81,193.40L380.91,181.70L381.02,194.18L381.13,180.39L381.23,193.09L381.34,182.05L381.44,192.09L381.55,182.82L381.65,190.54L381.76,181.04L381.86,194.99L381.97,183.31L382.07,200.29L382.18,182.34L382.29,194.83L382.39,178.53L382.50,197.33L382.60,178.60L382.71,195.72L382.81,181.14L382.92,200.29L383.02,182.85L383.13,197.22L383.24,182.45L383.34,196.79L383.45,185.33L383.55,194.19L383.66,180.19L383.76,192.26L383.87,176.96L383.97,188.87L384.08,176.70L384.19,191.90L384.29,178.97L384.40,188.29L384.50,177.15L384.61,192.59L384.71,181.43L384.82,194.88L384.92,182.38" stroke="#000" stroke-width="0.6" fill="none" stroke-linejoin="round" stroke-dasharray="0.7 1.0" opacity="0.62"/>
<path d="M308.20,189.12L308.59,189.08L308.97,189.03L309.36,188.98L309.74,188.92L310.13,188.85L310.51,188.77L310.90,188.68L311.28,188.59L311.67,188.49L312.05,188.39L312.44,188.28L312.83,188.16L313.21,188.03L313.60,187.90L313.98,187.76L314.37,187.61L314.75,187.46L315.14,187.30L315.52,187.14L315.91,186.97L316.30,186.79L316.68,186.61L317.07,186.43L317.45,186.24L317.84,186.04L318.22,185.84L318.61,185.64L318.99,185.43L319.38,185.22L319.76,185.00L320.15,184.78L320.54,184.56L320.92,184.33L321.31,184.10L321.69,183.87L322.08,183.64L322.46,183.40L322.85,183.16L323.23,182.92L323.62,182.68L324.00,182.44L324.39,182.19L324.78,181.95L325.16,181.70L325.55,181.46L325.93,181.21L326.32,180.96L326.70,180.72L327.09,180.47L327.47,180.23L327.86,179.99L328.25,179.75L328.63,179.51L329.02,179.27L329.40,179.03L329.79,178.80L330.17,178.57L330.56,178.34L330.94,178.12L331.33,177.90L331.71,177.68L332.10,177.47L332.49,177.25L332.87,177.05L333.26,176.85L333.64,176.65L334.03,176.46L334.41,176.27L334.80,176.09L335.18,175.91L335.57,175.74L335.96,175.57L336.34,175.41L336.73,175.26L337.11,175.11L337.50,174.97L337.88,174.83L338.27,174.70L338.65,174.58L339.04,174.46L339.42,174.35L339.81,174.25L340.20,174.16L340.58,174.07L340.97,173.99L341.35,173.92L341.74,173.85L342.12,173.79L342.51,173.74L342.89,173.70L343.28,173.66L343.66,173.64L344.05,173.62L344.44,173.60L344.82,173.60L345.21,173.60L345.59,173.61L345.98,173.63L346.36,173.66L346.75,173.69L347.13,173.74L347.52,173.79L347.91,173.84L348.29,173.91L348.68,173.98L349.06,174.06L349.45,174.15L349.83,174.24L350.22,174.34L350.60,174.45L350.99,174.56L351.37,174.69L351.76,174.82L352.15,174.95L352.53,175.09L352.92,175.24L353.30,175.39L353.69,175.55L354.07,175.72L354.46,175.89L354.84,176.07L355.23,176.25L355.61,176.44L356.00,176.63L356.39,176.83L356.77,177.03L357.16,177.23L357.54,177.44L357.93,177.66L358.31,177.87L358.70,178.09L359.08,178.32L359.47,178.55L359.86,178.78L360.24,179.01L360.63,179.24L361.01,179.48L361.40,179.72L361.78,179.96L362.17,180.20L362.55,180.45L362.94,180.69L363.32,180.94L363.71,181.18L364.10,181.43L364.48,181.68L364.87,181.92L365.25,182.17L365.64,182.41L366.02,182.65L366.41,182.90L366.79,183.14L367.18,183.37L367.56,183.61L367.95,183.85L368.34,184.08L368.72,184.31L369.11,184.53L369.49,184.76L369.88,184.98L370.26,185.20L370.65,185.41L371.03,185.62L371.42,185.82L371.81,186.02L372.19,186.22L372.58,186.41L372.96,186.59L373.35,186.78L373.73,186.95L374.12,187.12L374.50,187.29L374.89,187.44L375.27,187.60L375.66,187.74L376.05,187.88L376.43,188.02L376.82,188.14L377.20,188.26L377.59,188.38L377.97,188.48L378.36,188.58L378.74,188.67L379.13,188.76L379.51,188.84L379.90,188.91L380.29,188.97L380.67,189.03L381.06,189.07L381.44,189.11L381.83,189.15L382.21,189.17L382.60,189.19L382.98,189.20L383.37,189.20L383.76,189.19L384.14,189.18L384.53,189.16L384.91,189.13" stroke="#1eff1e" stroke-width="1.1550000000000002" fill="none" stroke-linejoin="round" stroke-dasharray="4.954 1.238 0.774 1.238" />
</g>
<rect x="306.3" y="152.6" width="80.5" height="53.400000000000006" fill="none" stroke="#757575" stroke-width="0.9"/>
<path d="M308.20,206.0v1.5M320.02,206.0v1.5M331.84,206.0v1.5M343.66,206.0v1.5M355.48,206.0v1.5M367.30,206.0v1.5M379.12,206.0v1.5M306.3,163.90h-1.5M306.3,178.40h-1.5M306.3,192.90h-1.5M386.8,163.00h1.5M386.8,180.00h1.5M386.8,197.00h1.5" stroke="#444" stroke-width="0.6" fill="none"/>
<text x="308.20" y="213.90" font-size="5.12" text-anchor="middle" >0</text>
<text x="320.02" y="213.90" font-size="5.12" text-anchor="middle" >2</text>
<text x="331.84" y="213.90" font-size="5.12" text-anchor="middle" >4</text>
<text x="343.66" y="213.90" font-size="5.12" text-anchor="middle" >6</text>
<text x="355.48" y="213.90" font-size="5.12" text-anchor="middle" >8</text>
<text x="367.30" y="213.90" font-size="5.12" text-anchor="middle" >10</text>
<text x="379.12" y="213.90" font-size="5.12" text-anchor="middle" >12</text>
<text x="302.80" y="165.80" font-size="5.12" text-anchor="end" >40</text>
<text x="302.80" y="180.30" font-size="5.12" text-anchor="end" >30</text>
<text x="302.80" y="194.80" font-size="5.12" text-anchor="end" >20</text>
<text x="390.30" y="164.90" font-size="5.12" text-anchor="start" >20</text>
<text x="390.30" y="181.90" font-size="5.12" text-anchor="start" >10</text>
<text x="390.30" y="198.90" font-size="5.12" text-anchor="start" >0</text>
<text x="346.55" y="221.20" font-size="5.12" text-anchor="middle" >Rank of Recordings [per 28 days]</text>
<text transform="translate(293.00,179.80) rotate(-90)" font-size="5.12" text-anchor="middle">Active Power [MW]</text>
<text transform="translate(402.90,179.80) rotate(-90)" font-size="5.12" text-anchor="middle">Temperature [°C]</text>
<rect x="449.2" y="153.7" width="79.19999999999999" height="52.5" fill="#fff"/>
<path d="M449.10,153.7V206.2M458.71,153.7V206.2M468.32,153.7V206.2M477.94,153.7V206.2M487.55,153.7V206.2M497.16,153.7V206.2M506.77,153.7V206.2M516.38,153.7V206.2M526.00,153.7V206.2M449.2,155.60H528.4M449.2,172.10H528.4M449.2,188.60H528.4M449.2,205.10H528.4" stroke="#cfcfcf" stroke-width="0.5" fill="none"/>
<clipPath id="c8"><rect x="449.2" y="153.7" width="79.19999999999999" height="52.5"/></clipPath><g clip-path="url(#c8)">
<path d="M449.10,180.00L523.75,180.00" stroke="#f0141e" stroke-width="1.26" fill="none" stroke-linejoin="round" stroke-dasharray="2.864 1.238" />
<path d="M449.10,180.00L523.75,180.00" stroke="#1eff1e" stroke-width="1.26" fill="none" stroke-linejoin="round" stroke-dasharray="4.954 1.238 0.774 1.238" />
</g>
<rect x="449.2" y="153.7" width="79.19999999999999" height="52.5" fill="none" stroke="#757575" stroke-width="0.9"/>
<path d="M449.10,206.2v1.5M458.71,206.2v1.5M468.32,206.2v1.5M477.94,206.2v1.5M487.55,206.2v1.5M497.16,206.2v1.5M506.77,206.2v1.5M516.38,206.2v1.5M526.00,206.2v1.5M449.2,155.60h-1.5M449.2,172.10h-1.5M449.2,188.60h-1.5M449.2,205.10h-1.5M528.4,154.50h1.5M528.4,165.40h1.5M528.4,176.30h1.5M528.4,187.10h1.5M528.4,197.90h1.5" stroke="#444" stroke-width="0.6" fill="none"/>
<text x="449.10" y="214.10" font-size="5.12" text-anchor="middle" >0</text>
<text x="458.71" y="214.10" font-size="5.12" text-anchor="middle" >3</text>
<text x="468.32" y="214.10" font-size="5.12" text-anchor="middle" >6</text>
<text x="477.94" y="214.10" font-size="5.12" text-anchor="middle" >9</text>
<text x="487.55" y="214.10" font-size="5.12" text-anchor="middle" >12</text>
<text x="497.16" y="214.10" font-size="5.12" text-anchor="middle" >15</text>
<text x="506.77" y="214.10" font-size="5.12" text-anchor="middle" >18</text>
<text x="516.38" y="214.10" font-size="5.12" text-anchor="middle" >21</text>
<text x="526.00" y="214.10" font-size="5.12" text-anchor="middle" >24</text>
<text x="445.70" y="157.50" font-size="5.12" text-anchor="end" >31</text>
<text x="445.70" y="174.00" font-size="5.12" text-anchor="end" >30</text>
<text x="445.70" y="190.50" font-size="5.12" text-anchor="end" >29</text>
<text x="445.70" y="207.00" font-size="5.12" text-anchor="end" >28</text>
<text x="531.90" y="156.40" font-size="5.12" text-anchor="start" >4.7</text>
<text x="531.90" y="167.30" font-size="5.12" text-anchor="start" >4.6</text>
<text x="531.90" y="178.20" font-size="5.12" text-anchor="start" >4.5</text>
<text x="531.90" y="189.00" font-size="5.12" text-anchor="start" >4.4</text>
<text x="531.90" y="199.80" font-size="5.12" text-anchor="start" >4.3</text>
<text x="488.80" y="221.40" font-size="5.12" text-anchor="middle" >Rank of Recordings [per hour]</text>
<text transform="translate(435.80,180.45) rotate(-90)" font-size="5.12" text-anchor="middle">Active Power [MW]</text>
<text transform="translate(546.10,180.45) rotate(-90)" font-size="5.12" text-anchor="middle">Temperature [°C]</text>
</g>
<g font-family="'Liberation Serif', 'DejaVu Serif', serif" font-weight="bold" font-size="11.2" fill="#1a1a1a" text-anchor="middle"><text x="61" y="135">(a)</text><text x="204" y="135">(b)</text><text x="347" y="135">(c)</text><text x="489.8" y="135">(d)</text><text x="61" y="241.5">(e)</text><text x="204" y="241.5">(f)</text><text x="347.3" y="241.5">(g)</text><text x="490" y="241.5">(h)</text></g>
</svg>
</body></html>
